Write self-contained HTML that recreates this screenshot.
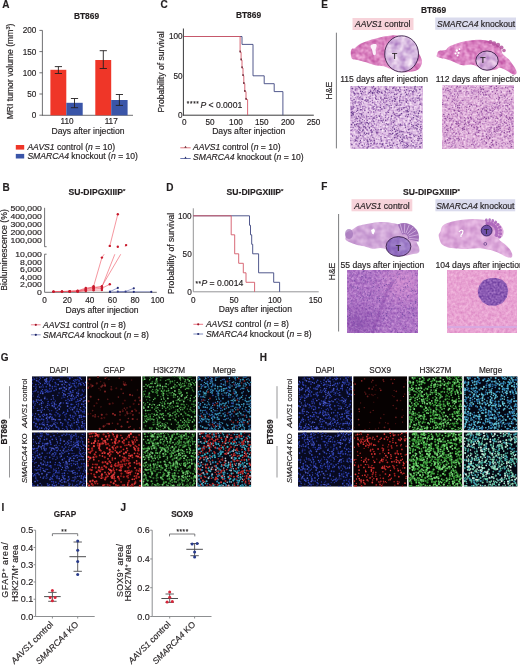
<!DOCTYPE html>
<html><head><meta charset="utf-8"><title>Figure</title>
<style>
html,body{margin:0;padding:0;background:#fff;}
body{width:520px;height:665px;overflow:hidden;}
svg{display:block;font-family:"Liberation Sans", Arial, Helvetica, sans-serif;}
text{stroke:#231f20;stroke-width:0.16px;}
</style></head><body>
<svg width="520" height="665" viewBox="0 0 520 665">
<defs><filter id="he1" x="0" y="0" width="100%" height="100%" color-interpolation-filters="sRGB"><feTurbulence type="fractalNoise" baseFrequency="0.5" numOctaves="2" seed="3"/><feColorMatrix type="matrix" values="0.327 0.000 0.000 0.000 0.719  0.497 0.000 0.000 0.000 0.512  0.235 0.000 0.000 0.000 0.784  0 0 0 0 1"/></filter><filter id="he2" x="0" y="0" width="100%" height="100%" color-interpolation-filters="sRGB"><feTurbulence type="fractalNoise" baseFrequency="0.5" numOctaves="2" seed="5"/><feColorMatrix type="matrix" values="0.288 0.000 0.000 0.000 0.742  0.497 0.000 0.000 0.000 0.465  0.275 0.000 0.000 0.000 0.729  0 0 0 0 1"/></filter><filter id="he3" x="0" y="0" width="100%" height="100%" color-interpolation-filters="sRGB"><feTurbulence type="fractalNoise" baseFrequency="0.4" numOctaves="2" seed="7"/><feColorMatrix type="matrix" values="0.359 0.000 0.000 0.000 0.511  0.415 0.000 0.000 0.000 0.252  0.246 0.000 0.000 0.000 0.653  0 0 0 0 1"/></filter><filter id="he4" x="0" y="0" width="100%" height="100%" color-interpolation-filters="sRGB"><feTurbulence type="fractalNoise" baseFrequency="0.35" numOctaves="2" seed="9"/><feColorMatrix type="matrix" values="0.134 0.000 0.000 0.000 0.843  0.291 0.000 0.000 0.000 0.490  0.157 0.000 0.000 0.000 0.745  0 0 0 0 1"/></filter><filter id="br1" x="0" y="0" width="100%" height="100%" color-interpolation-filters="sRGB"><feTurbulence type="fractalNoise" baseFrequency="0.2" numOctaves="2" seed="11"/><feColorMatrix type="matrix" values="0.288 0.000 0.000 0.000 0.711  0.536 0.000 0.000 0.000 0.246  0.340 0.000 0.000 0.000 0.583  0 0 0 0 1"/><feComposite in2="SourceGraphic" operator="in"/></filter><filter id="br2" x="0" y="0" width="100%" height="100%" color-interpolation-filters="sRGB"><feTurbulence type="fractalNoise" baseFrequency="0.2" numOctaves="2" seed="13"/><feColorMatrix type="matrix" values="0.288 0.000 0.000 0.000 0.711  0.536 0.000 0.000 0.000 0.246  0.340 0.000 0.000 0.000 0.591  0 0 0 0 1"/><feComposite in2="SourceGraphic" operator="in"/></filter><filter id="br3" x="0" y="0" width="100%" height="100%" color-interpolation-filters="sRGB"><feTurbulence type="fractalNoise" baseFrequency="0.15" numOctaves="2" seed="15"/><feColorMatrix type="matrix" values="0.209 0.000 0.000 0.000 0.711  0.288 0.000 0.000 0.000 0.507  0.157 0.000 0.000 0.000 0.769  0 0 0 0 1"/><feComposite in2="SourceGraphic" operator="in"/></filter><filter id="br4" x="0" y="0" width="100%" height="100%" color-interpolation-filters="sRGB"><feTurbulence type="fractalNoise" baseFrequency="0.15" numOctaves="2" seed="17"/><feColorMatrix type="matrix" values="0.209 0.000 0.000 0.000 0.758  0.314 0.000 0.000 0.000 0.502  0.183 0.000 0.000 0.000 0.763  0 0 0 0 1"/><feComposite in2="SourceGraphic" operator="in"/></filter><filter id="tu1" x="0" y="0" width="100%" height="100%" color-interpolation-filters="sRGB"><feTurbulence type="fractalNoise" baseFrequency="0.15" numOctaves="2" seed="19"/><feColorMatrix type="matrix" values="0.431 0.000 0.000 0.000 0.620  0.614 0.000 0.000 0.000 0.410  0.301 0.000 0.000 0.000 0.724  0 0 0 0 1"/><feComposite in2="SourceGraphic" operator="in"/></filter><filter id="tu2" x="0" y="0" width="100%" height="100%" color-interpolation-filters="sRGB"><feTurbulence type="fractalNoise" baseFrequency="0.15" numOctaves="2" seed="23"/><feColorMatrix type="matrix" values="0.418 0.000 0.000 0.000 0.607  0.575 0.000 0.000 0.000 0.371  0.301 0.000 0.000 0.000 0.693  0 0 0 0 1"/><feComposite in2="SourceGraphic" operator="in"/></filter><filter id="tu3" x="0" y="0" width="100%" height="100%" color-interpolation-filters="sRGB"><feTurbulence type="fractalNoise" baseFrequency="0.15" numOctaves="2" seed="25"/><feColorMatrix type="matrix" values="0.314 0.000 0.000 0.000 0.439  0.392 0.000 0.000 0.000 0.267  0.209 0.000 0.000 0.000 0.664  0 0 0 0 1"/><feComposite in2="SourceGraphic" operator="in"/></filter><filter id="blob" x="0" y="0" width="100%" height="100%" color-interpolation-filters="sRGB"><feTurbulence type="fractalNoise" baseFrequency="0.5" numOctaves="2" seed="21"/><feColorMatrix type="matrix" values="0.405 0.000 0.000 0.000 0.335  0.405 0.000 0.000 0.000 0.146  0.288 0.000 0.000 0.000 0.554  0 0 0 0 1"/></filter><g id="cdapi1" fill="none" stroke-linecap="round"><path stroke="#2a3ca8" stroke-width="1.30" d="M17.7 34.6h0M35.8 47.8h0M4.8 2.0h0M21.7 3.2h0M7.5 3.5h0M40.8 28.1h0M0.9 37.8h0M7.6 24.1h0M27.0 16.7h0M12.6 48.0h0M15.6 31.5h0M41.5 4.3h0M22.2 29.1h0M46.1 15.6h0M35.0 6.2h0M50.0 51.3h0M37.3 32.0h0M25.1 3.4h0M23.7 49.8h0M3.8 12.2h0M19.8 2.7h0M1.2 15.5h0M40.2 1.1h0M33.8 40.7h0M1.2 19.9h0M23.8 46.4h0M52.7 47.3h0M25.7 19.2h0M25.3 47.0h0M30.4 16.2h0M53.4 20.0h0M9.4 10.6h0M46.0 0.9h0M40.3 7.3h0M42.3 44.0h0M21.9 23.1h0M48.2 22.1h0M25.5 31.0h0M45.6 23.4h0M20.5 4.9h0M9.6 29.0h0M7.5 21.1h0M20.4 12.5h0M44.5 28.2h0M29.8 21.9h0M23.4 48.4h0M6.7 8.5h0M39.5 52.1h0M0.4 39.1h0M46.5 19.8h0M50.1 43.1h0M16.2 33.4h0M1.1 1.6h0M40.2 49.6h0M17.0 6.8h0M17.5 52.0h0"/><path stroke="#2a3ca8" stroke-width="1.70" d="M37.9 0.8h0M3.8 8.4h0M9.8 42.9h0M47.7 1.0h0M46.0 25.0h0M27.9 38.8h0M30.6 47.6h0M42.6 9.5h0M4.3 13.8h0M16.0 15.7h0M6.1 23.7h0M47.1 4.7h0M44.3 20.9h0M31.0 14.2h0M36.0 46.1h0M3.3 49.6h0M42.2 46.6h0M43.2 3.6h0M43.9 10.8h0M43.4 37.1h0M43.0 30.5h0M25.9 37.5h0M45.0 35.0h0M11.6 43.5h0M26.6 52.2h0M37.7 24.3h0M46.1 44.4h0M16.2 25.3h0M44.7 16.7h0M23.3 6.3h0M5.3 43.5h0M20.4 10.5h0M22.9 10.1h0M7.5 28.1h0M52.4 35.0h0M50.8 35.6h0M15.5 7.9h0M29.2 12.0h0M7.7 48.0h0M49.1 34.5h0M3.0 14.9h0M22.1 14.3h0M35.8 27.3h0M6.5 43.1h0M24.2 13.2h0M1.4 25.0h0M47.1 51.6h0M38.9 16.5h0M5.8 20.5h0M14.5 15.2h0M45.2 48.3h0"/><path stroke="#3448be" stroke-width="1.30" d="M4.1 10.7h0M37.1 19.2h0M15.2 44.7h0M50.3 13.8h0M6.7 18.7h0M42.8 5.5h0M7.2 6.2h0M32.5 53.8h0M12.9 39.2h0M44.4 6.7h0M0.7 17.6h0M46.9 13.8h0M26.3 43.4h0M30.8 52.4h0M1.8 10.2h0M11.2 10.7h0M13.2 16.1h0M8.2 34.0h0M22.9 38.6h0M25.1 34.1h0M32.0 6.9h0M46.2 29.8h0M5.5 26.2h0M42.1 22.9h0M32.8 8.4h0M33.9 24.3h0M37.0 49.0h0M14.7 6.5h0M49.0 19.3h0M52.2 36.8h0M13.0 20.9h0M47.0 53.1h0M41.3 42.3h0M46.1 9.7h0M46.6 35.3h0M44.0 38.7h0M18.3 0.7h0M45.1 32.8h0M10.5 13.4h0M35.5 33.6h0M10.8 46.4h0M53.1 27.1h0M38.7 50.7h0M46.5 7.7h0M21.4 21.8h0M40.7 39.8h0M10.4 25.4h0M34.7 9.8h0M12.4 49.4h0M35.5 53.5h0"/><path stroke="#3448be" stroke-width="1.70" d="M50.8 47.4h0M6.6 38.3h0M39.8 23.9h0M8.0 40.5h0M31.7 36.1h0M49.4 40.9h0M47.5 41.1h0M48.0 7.2h0M35.7 34.9h0M14.7 52.5h0M49.4 22.9h0M4.4 42.5h0M52.4 8.8h0M38.6 11.1h0M37.8 2.4h0M12.1 38.1h0M38.3 15.3h0M33.0 43.5h0M24.4 50.9h0M22.1 30.5h0M42.0 7.4h0M52.8 40.3h0M45.6 42.8h0M27.1 29.5h0M5.3 50.7h0M20.1 41.1h0M12.9 7.1h0M14.8 5.0h0M51.9 30.1h0M20.3 49.2h0M49.8 28.0h0M49.0 39.1h0M1.9 46.1h0M37.6 8.7h0M9.4 14.9h0M38.3 39.1h0M8.6 16.9h0M39.2 28.2h0M28.1 5.1h0M40.9 14.3h0M48.9 8.5h0M32.7 14.8h0M18.3 40.4h0"/><path stroke="#22309a" stroke-width="1.30" d="M8.5 2.2h0M43.2 13.1h0M23.5 24.8h0M14.5 13.1h0M18.1 2.0h0M39.9 31.7h0M11.9 45.7h0M12.4 54.0h0M20.1 44.7h0M52.6 51.8h0M38.5 33.6h0M15.1 23.0h0M25.9 51.1h0M41.0 52.9h0M30.6 37.1h0M50.1 6.3h0M52.0 33.3h0M38.2 6.8h0M15.4 43.3h0M2.9 25.5h0M44.5 3.8h0M20.4 25.6h0M15.1 46.3h0M19.7 34.5h0M16.8 45.8h0M38.6 40.8h0M24.2 10.6h0M11.4 26.7h0M38.6 44.1h0M40.0 41.4h0M1.4 30.2h0M46.3 50.1h0M21.1 52.6h0M5.2 32.3h0M19.6 1.3h0M52.6 13.6h0M23.8 39.6h0M38.6 31.0h0M31.3 26.8h0M52.7 49.0h0M32.7 21.1h0M36.0 25.7h0M22.2 45.7h0M36.5 7.9h0M52.2 44.5h0M3.3 27.4h0M31.3 20.9h0M34.1 44.7h0"/><path stroke="#22309a" stroke-width="1.70" d="M31.3 10.8h0M6.2 44.6h0M7.7 51.8h0M18.3 3.9h0M6.3 53.1h0M17.3 5.4h0M24.2 36.1h0M2.5 3.0h0M34.4 37.5h0M10.6 8.8h0M50.2 18.2h0M32.9 38.6h0M45.7 3.3h0M0.4 7.1h0M2.8 28.8h0M31.3 19.2h0M37.5 17.5h0M15.4 40.6h0M46.7 46.1h0M51.4 15.1h0M46.5 27.7h0M53.3 31.5h0M44.6 53.1h0M27.1 53.5h0M44.1 25.7h0M17.2 28.8h0M6.2 5.0h0M51.7 50.2h0M19.3 14.8h0M24.1 28.3h0M14.3 10.5h0M15.8 27.3h0M17.9 15.4h0M10.0 47.7h0M40.5 22.2h0M36.8 13.5h0M17.7 12.5h0M10.2 33.9h0M27.3 40.1h0M23.9 7.6h0M12.6 52.6h0M10.4 39.0h0M19.4 38.3h0M0.5 3.6h0M19.6 27.2h0M26.8 3.2h0M30.3 49.2h0M42.8 21.8h0M16.5 50.2h0M1.7 31.8h0M42.1 40.2h0M2.8 40.2h0M34.4 50.3h0M10.7 15.7h0M35.1 51.8h0M39.7 47.8h0M53.1 53.1h0M36.1 23.2h0M15.6 14.3h0"/><path stroke="#4858c8" stroke-width="1.30" d="M41.4 20.0h0M36.0 0.7h0M49.5 3.4h0M3.6 37.5h0M48.6 31.3h0M28.6 30.6h0M38.7 49.3h0M51.7 28.1h0M1.4 26.6h0M13.9 30.7h0M6.0 15.8h0M12.4 33.1h0M38.9 22.5h0M39.7 10.0h0M46.7 36.6h0M8.0 0.8h0M4.4 23.6h0M2.4 42.7h0M40.9 16.0h0M8.0 43.7h0M19.3 50.2h0M4.5 24.9h0M16.6 53.2h0M47.9 33.1h0M11.3 40.4h0M14.0 51.0h0M45.3 19.2h0M15.3 29.2h0M13.5 5.4h0M6.8 34.2h0M35.5 20.5h0M18.2 49.2h0M30.7 0.3h0M32.5 4.6h0M22.1 26.0h0M13.1 13.8h0M51.5 7.3h0M36.1 17.1h0M5.5 34.4h0M19.2 23.1h0M17.8 8.1h0M8.4 7.3h0M42.1 35.8h0"/><path stroke="#4858c8" stroke-width="1.70" d="M37.3 11.7h0M39.2 19.8h0M48.0 24.3h0M35.6 30.0h0M14.7 38.5h0M27.6 12.5h0M30.1 8.4h0M9.1 23.9h0M20.0 42.9h0M37.0 43.1h0M51.5 40.1h0M46.4 17.5h0M11.2 48.4h0M26.2 8.4h0M9.5 27.0h0M34.2 13.0h0M42.1 31.6h0M22.5 27.7h0M18.0 9.5h0M51.5 25.2h0M9.3 35.9h0M34.5 26.9h0M4.0 47.5h0M12.7 22.2h0M33.3 18.6h0M9.7 51.9h0M20.3 29.5h0M40.5 33.4h0M10.9 0.7h0M53.7 6.1h0M21.0 19.3h0M28.8 26.6h0M32.5 11.5h0M27.9 43.4h0M14.6 2.4h0M22.0 47.7h0M31.8 17.6h0M52.0 21.4h0M33.7 6.0h0M23.3 43.6h0M7.8 10.8h0M47.3 39.4h0M17.3 41.5h0M14.5 42.0h0M12.8 3.6h0M28.8 46.4h0M23.6 32.2h0M4.6 4.4h0M27.3 32.9h0M30.1 5.2h0M9.9 31.4h0M50.3 45.7h0M10.8 17.2h0M49.8 49.5h0M40.0 18.6h0M28.9 0.3h0M27.8 27.6h0M21.6 43.0h0M14.2 3.7h0M48.3 2.2h0M44.6 46.0h0M53.1 24.3h0M15.3 48.3h0M18.0 37.7h0"/></g><g id="cdapi2" fill="none" stroke-linecap="round"><path stroke="#2a3ca8" stroke-width="1.30" d="M47.4 21.0h0M40.6 51.9h0M9.7 52.9h0M21.2 24.0h0M0.8 29.2h0M2.4 27.2h0M50.6 11.7h0M38.1 38.9h0M28.2 24.7h0M40.2 24.0h0M43.2 42.1h0M30.2 41.2h0M27.1 4.4h0M36.8 38.4h0M31.3 30.1h0M15.2 20.9h0M29.3 21.8h0M36.4 17.1h0M38.1 51.9h0M43.0 11.0h0M51.5 48.6h0M46.8 15.0h0M49.1 27.2h0M51.7 38.7h0M27.1 38.7h0M3.7 43.6h0M50.0 6.3h0M50.4 21.0h0M49.8 7.8h0M3.1 20.6h0M2.3 34.3h0M0.5 51.4h0M4.0 23.5h0M12.6 24.9h0M15.1 12.7h0M43.2 29.3h0M46.4 4.6h0M8.6 38.8h0M22.5 20.0h0M27.1 13.3h0M22.5 23.7h0M0.8 22.2h0M27.1 44.5h0M14.0 24.2h0M21.1 42.6h0M37.9 18.0h0"/><path stroke="#2a3ca8" stroke-width="1.70" d="M28.6 33.6h0M9.5 4.2h0M25.0 45.6h0M45.0 52.4h0M25.5 15.0h0M1.3 24.6h0M49.2 45.8h0M19.9 46.4h0M8.6 1.1h0M49.8 49.8h0M26.0 40.4h0M49.1 5.4h0M10.2 20.9h0M34.8 1.8h0M46.6 8.7h0M15.5 51.5h0M9.2 24.4h0M23.8 20.7h0M1.5 43.5h0M44.2 10.2h0M8.1 37.1h0M31.4 53.3h0M28.5 6.6h0M15.1 2.1h0M36.6 10.9h0M3.8 45.7h0M14.5 43.5h0M52.8 53.7h0M48.2 50.5h0M18.9 12.0h0M14.2 16.5h0M32.1 16.4h0M52.7 43.6h0M17.5 20.6h0M18.0 15.3h0M33.7 14.7h0M30.9 21.0h0M18.8 4.3h0M42.1 14.1h0M8.0 8.9h0M45.4 31.0h0M4.6 37.8h0M28.3 11.0h0M39.2 17.5h0M12.3 13.7h0M16.5 2.1h0M33.1 46.5h0"/><path stroke="#3448be" stroke-width="1.30" d="M33.3 30.8h0M23.9 27.3h0M23.4 30.3h0M22.4 13.4h0M25.4 0.7h0M47.3 51.7h0M13.1 26.3h0M6.1 37.4h0M52.2 22.0h0M40.4 18.3h0M17.9 40.2h0M39.1 31.3h0M41.7 12.2h0M53.3 39.8h0M53.6 20.6h0M27.5 32.8h0M6.2 0.4h0M32.6 12.4h0M51.8 20.3h0M29.7 19.9h0M44.9 8.7h0M41.7 23.3h0M37.2 2.2h0M41.8 38.1h0M45.4 25.2h0M40.8 14.9h0M35.4 24.3h0M49.1 34.6h0M26.3 16.7h0M49.5 14.3h0M39.8 12.9h0M1.5 13.4h0M40.5 4.7h0M32.3 47.5h0M0.7 52.9h0M2.7 30.8h0M28.5 31.4h0M25.3 25.8h0M25.1 9.2h0M33.8 3.0h0M4.1 30.1h0M32.3 38.0h0M12.8 29.7h0M48.2 9.6h0M35.8 12.3h0M36.9 14.8h0M10.9 36.1h0M0.3 27.3h0M14.1 45.9h0M35.0 32.1h0M15.7 37.0h0"/><path stroke="#3448be" stroke-width="1.70" d="M12.4 7.2h0M28.6 8.1h0M5.2 18.2h0M36.8 21.3h0M25.1 43.7h0M45.0 15.0h0M27.4 30.2h0M3.3 25.7h0M20.6 44.0h0M12.6 17.6h0M36.6 44.5h0M37.1 52.9h0M18.8 33.6h0M53.3 48.7h0M32.4 40.9h0M18.3 29.8h0M31.8 46.0h0M20.3 7.0h0M6.8 5.8h0M39.0 4.6h0M24.3 38.6h0M17.7 25.0h0M21.5 54.1h0M7.1 42.3h0M49.4 43.6h0M47.1 27.6h0M51.2 16.2h0M14.8 6.7h0M52.0 51.1h0M30.1 3.1h0M5.4 23.4h0M45.7 9.8h0M5.0 16.2h0M6.4 25.2h0M43.1 44.7h0M38.5 25.9h0M37.3 27.1h0M25.1 18.3h0M44.9 23.0h0M18.4 10.4h0M15.6 30.1h0M43.0 40.3h0M46.2 11.6h0M2.6 42.4h0M17.9 8.6h0M2.7 16.3h0M49.3 23.8h0M23.8 40.2h0M39.2 6.6h0M16.1 53.1h0M50.7 9.5h0M45.0 12.2h0M22.0 3.3h0M51.8 44.9h0M51.3 46.6h0M11.2 45.8h0M20.4 52.5h0M32.5 43.2h0M41.9 48.5h0M48.7 21.8h0M43.8 1.7h0M41.9 3.2h0M52.2 31.2h0"/><path stroke="#22309a" stroke-width="1.30" d="M27.5 40.5h0M21.6 49.1h0M24.2 36.0h0M12.6 4.6h0M1.6 9.7h0M13.4 31.8h0M39.0 10.6h0M48.2 13.3h0M5.3 35.0h0M15.7 45.5h0M25.0 24.5h0M22.5 43.0h0M44.1 45.7h0M52.0 2.6h0M21.0 0.8h0M52.4 5.4h0M3.5 9.6h0M4.2 47.5h0M42.0 21.3h0M3.9 19.1h0M24.0 44.4h0M1.9 19.9h0M18.4 19.2h0M52.8 17.9h0M51.7 33.9h0M48.5 40.8h0M36.0 36.4h0M45.0 35.9h0M35.8 41.0h0M5.7 20.7h0M39.8 2.2h0M5.3 4.2h0M0.3 16.1h0M37.1 25.2h0M44.8 49.4h0M45.8 32.7h0M40.1 21.1h0M20.8 47.3h0M21.3 38.7h0M13.8 18.4h0"/><path stroke="#22309a" stroke-width="1.70" d="M28.8 52.7h0M21.6 50.7h0M22.6 17.4h0M47.2 38.0h0M3.2 37.3h0M23.8 49.9h0M15.4 32.4h0M33.0 32.7h0M10.7 11.1h0M37.2 46.8h0M44.6 6.4h0M39.6 33.3h0M23.0 32.2h0M10.1 0.6h0M33.9 11.1h0M47.1 23.7h0M25.9 32.7h0M45.3 41.1h0M50.8 41.5h0M6.3 15.1h0M46.5 34.8h0M53.0 32.7h0M30.4 43.2h0M35.8 18.7h0M41.8 31.4h0M47.5 19.7h0M9.9 32.3h0M8.7 35.4h0M44.2 3.7h0M18.7 45.3h0M36.9 8.1h0M47.6 16.6h0M5.6 48.3h0M32.3 26.0h0M23.4 22.0h0M52.6 36.7h0M17.3 33.8h0M12.7 11.8h0M49.7 31.4h0M24.0 5.7h0M43.3 23.6h0M22.0 41.5h0M30.2 14.6h0M19.8 49.2h0M38.9 3.3h0M33.4 34.9h0M33.7 38.2h0M14.1 37.0h0M2.5 1.7h0M45.9 54.0h0M2.0 53.3h0M40.1 48.3h0M19.1 35.2h0M26.6 51.0h0M23.0 37.8h0M10.0 2.9h0"/><path stroke="#4858c8" stroke-width="1.30" d="M34.0 36.4h0M36.9 50.9h0M8.3 6.7h0M16.2 40.3h0M30.0 50.0h0M46.1 48.3h0M28.2 18.2h0M21.7 36.8h0M39.7 16.1h0M8.5 44.9h0M17.6 52.5h0M26.5 35.8h0M35.4 9.6h0M47.3 43.9h0M12.0 44.5h0M41.6 28.5h0M45.3 44.0h0M34.1 18.9h0M1.4 7.2h0M0.6 41.4h0M8.1 51.1h0M11.7 28.5h0M4.1 41.3h0M39.1 9.2h0M24.1 12.9h0M41.0 45.4h0M50.3 2.1h0M31.9 1.9h0M24.4 7.3h0M14.1 33.2h0M36.1 35.0h0M48.3 18.0h0M48.3 49.1h0M24.5 52.7h0M9.6 16.6h0M34.0 49.7h0M30.4 35.2h0M25.5 10.6h0M8.2 3.7h0M8.0 25.5h0M30.1 53.4h0M9.1 27.3h0M32.7 19.8h0M4.6 11.0h0M41.8 9.8h0M14.3 1.0h0M52.7 0.5h0M45.1 29.1h0M37.9 13.1h0M47.9 35.6h0M40.6 53.6h0M43.6 32.2h0M29.5 37.3h0M20.9 26.5h0M37.2 31.8h0M19.9 22.6h0M53.0 34.6h0M42.9 46.8h0"/><path stroke="#4858c8" stroke-width="1.70" d="M11.4 32.0h0M36.0 48.1h0M32.4 49.5h0M5.9 40.7h0M20.0 15.9h0M43.4 13.4h0M10.8 13.3h0M22.6 53.3h0M41.9 26.0h0M32.1 8.9h0M29.7 47.5h0M50.6 52.9h0M35.1 34.1h0M53.6 13.8h0M29.3 23.8h0M24.1 15.4h0M21.0 21.5h0M35.0 30.8h0M14.9 42.0h0M27.2 46.3h0M30.4 27.4h0M41.0 40.6h0M6.8 33.4h0M18.0 47.1h0M43.4 53.8h0M27.9 21.5h0M53.6 38.3h0M14.1 11.4h0M51.9 12.8h0M3.1 49.2h0M31.3 18.1h0M15.7 11.1h0M1.4 16.8h0M6.9 10.8h0M40.1 38.9h0M50.9 24.3h0M51.5 27.2h0M6.8 13.9h0M28.2 48.8h0M21.6 16.3h0M37.2 28.9h0M12.0 15.8h0M11.6 38.2h0M19.4 17.7h0M53.6 45.2h0M8.9 30.8h0M7.6 22.1h0M34.1 29.4h0M39.9 28.2h0M46.3 13.0h0M9.1 14.6h0M31.0 44.7h0M10.0 41.4h0M5.7 52.9h0M13.0 39.0h0"/></g><g id="cdapi3" fill="none" stroke-linecap="round"><path stroke="#2a3ca8" stroke-width="1.30" d="M39.5 11.9h0M44.5 13.7h0M29.7 32.4h0M1.3 18.2h0M24.5 38.5h0M35.9 5.6h0M5.0 2.9h0M16.3 27.5h0M53.6 43.5h0M25.1 50.5h0M39.2 40.7h0M29.2 47.7h0M28.1 29.6h0M45.1 52.3h0M25.7 6.4h0M49.1 33.6h0M43.7 30.8h0M22.7 5.3h0M36.7 2.3h0M42.1 24.5h0M32.7 42.9h0M12.0 45.5h0M49.9 51.6h0M9.7 2.1h0M34.2 14.0h0M22.2 35.0h0M34.9 3.5h0M7.8 9.3h0M35.5 49.2h0M16.9 30.2h0M3.4 11.1h0M38.2 49.9h0M52.9 40.0h0M24.1 53.6h0M25.3 51.9h0M47.6 6.7h0M34.9 43.8h0M15.5 24.9h0M1.8 20.8h0M3.9 29.0h0M29.1 42.3h0M41.6 6.8h0M45.8 3.6h0M33.6 20.5h0M39.9 8.6h0M28.9 8.0h0M0.8 51.6h0M48.8 8.4h0M45.6 32.4h0M44.0 0.4h0M11.9 14.3h0M47.2 30.1h0M9.8 50.7h0M28.5 12.3h0M30.4 25.0h0M23.4 7.1h0M31.5 39.8h0M48.2 23.0h0M37.2 34.0h0"/><path stroke="#2a3ca8" stroke-width="1.70" d="M1.8 47.7h0M36.7 29.7h0M46.2 42.5h0M42.7 41.1h0M44.3 40.4h0M1.8 25.1h0M46.7 37.3h0M18.4 18.4h0M50.2 53.8h0M48.0 2.3h0M32.1 1.9h0M25.2 34.7h0M6.9 22.0h0M5.6 9.0h0M19.0 10.4h0M19.6 4.1h0M30.1 3.7h0M10.8 15.1h0M19.4 16.4h0M26.1 3.9h0M1.2 40.8h0M1.2 53.8h0M3.0 52.1h0M21.7 26.9h0M40.9 32.5h0M25.4 20.3h0M4.8 6.0h0M29.4 29.3h0M39.2 13.2h0M23.6 48.1h0M44.3 12.2h0M4.5 35.5h0M32.4 28.3h0M35.1 42.2h0M40.5 53.6h0M8.0 14.0h0M48.8 41.0h0M53.1 13.1h0M51.6 43.0h0M27.3 38.5h0M37.4 17.0h0M6.5 18.5h0M17.3 36.1h0M4.7 7.8h0M15.4 2.5h0M13.6 15.7h0M31.9 21.2h0M49.0 15.1h0M28.8 38.7h0M32.2 31.3h0M27.8 16.2h0M7.8 50.7h0M35.6 36.4h0M33.5 33.0h0M37.4 7.4h0"/><path stroke="#3448be" stroke-width="1.30" d="M7.1 28.5h0M41.5 38.4h0M50.7 37.0h0M40.0 17.4h0M17.8 43.0h0M50.2 0.8h0M16.2 52.2h0M14.7 36.2h0M11.7 16.0h0M29.0 10.0h0M50.8 48.8h0M5.5 45.5h0M52.0 7.6h0M7.8 10.7h0M49.4 45.9h0M7.4 49.2h0M41.0 14.2h0M39.1 39.0h0M4.8 20.9h0M1.3 15.9h0M8.1 47.8h0M27.4 1.7h0M34.2 15.4h0M42.8 12.3h0M18.5 5.8h0M9.4 13.8h0M6.7 39.4h0M34.4 53.2h0M29.1 27.1h0M26.8 28.4h0M13.7 30.7h0M51.6 12.4h0M43.7 43.6h0M23.4 24.7h0M20.9 23.1h0M39.3 44.2h0M51.6 52.0h0M33.2 45.0h0M36.0 15.9h0M13.9 46.9h0M2.8 37.0h0M24.2 43.2h0M8.9 0.4h0M47.9 34.2h0M53.1 32.9h0M4.6 41.9h0M20.1 52.4h0M18.0 17.0h0M17.4 12.0h0M53.5 46.6h0M49.6 11.4h0M40.0 29.3h0M53.2 1.6h0"/><path stroke="#3448be" stroke-width="1.70" d="M44.0 24.2h0M20.9 31.4h0M36.9 46.0h0M10.0 19.9h0M24.9 36.7h0M3.1 50.6h0M14.4 40.3h0M6.6 24.4h0M10.9 52.0h0M32.3 19.1h0M27.6 14.1h0M44.7 5.9h0M2.8 45.9h0M47.1 53.8h0M49.0 36.7h0M1.4 36.9h0M3.9 43.8h0M26.0 44.8h0M49.2 47.2h0M36.0 8.7h0M19.9 19.1h0M35.1 25.3h0M1.5 50.0h0M31.6 29.5h0M26.8 8.2h0M39.8 46.5h0M27.0 35.6h0M39.8 36.5h0M0.7 29.7h0M46.0 6.7h0M3.7 13.5h0M25.3 29.2h0M20.0 8.8h0M13.6 53.0h0M25.6 8.9h0M32.6 47.9h0M39.4 2.3h0M11.5 28.6h0M9.0 35.5h0M51.4 47.1h0M18.5 36.8h0M38.0 3.2h0M15.8 38.5h0M22.2 36.3h0M5.4 43.3h0M52.1 28.2h0M12.5 39.6h0M51.6 17.9h0M16.3 6.9h0M39.5 7.1h0M32.9 15.8h0M43.7 52.5h0M23.1 50.3h0M10.2 41.0h0M25.3 25.2h0"/><path stroke="#22309a" stroke-width="1.30" d="M25.6 13.8h0M16.1 26.2h0M30.5 33.8h0M19.3 20.5h0M17.3 13.4h0M11.0 13.2h0M31.1 22.6h0M32.4 51.9h0M46.2 27.5h0M13.7 32.4h0M52.9 48.1h0M12.5 42.5h0M21.0 47.8h0M40.9 27.2h0M11.6 49.0h0M34.0 0.4h0M37.8 18.9h0M37.6 44.8h0M42.8 18.9h0M7.4 26.7h0M50.3 18.0h0M44.4 26.6h0M48.0 45.5h0M46.6 23.1h0M24.0 27.0h0M33.2 49.8h0M3.7 19.8h0M7.4 43.9h0M36.0 18.1h0M48.3 13.8h0M18.7 40.0h0M30.5 8.8h0M42.4 47.5h0M23.4 32.1h0M46.2 8.1h0M51.7 39.0h0M38.8 15.7h0M18.7 50.2h0M40.2 42.8h0M12.6 17.8h0M24.2 14.8h0M11.1 31.5h0M31.7 11.3h0M0.4 11.9h0M41.0 48.3h0M22.6 11.1h0M44.3 47.1h0M47.1 4.8h0M4.9 31.9h0M23.6 16.3h0M40.7 23.0h0M38.8 22.5h0M17.3 22.5h0M17.3 33.2h0M45.6 22.3h0"/><path stroke="#22309a" stroke-width="1.70" d="M52.6 24.8h0M48.1 28.7h0M49.4 5.5h0M34.8 47.2h0M39.1 25.8h0M53.6 37.7h0M49.8 35.4h0M5.1 53.5h0M50.7 8.6h0M38.4 10.1h0M27.5 41.9h0M24.3 45.4h0M13.9 25.2h0M17.6 31.7h0M6.4 1.8h0M37.4 39.5h0M8.0 19.8h0M10.6 43.5h0M27.0 23.8h0M20.3 10.7h0M51.1 30.0h0M47.5 25.9h0M30.8 41.1h0M13.0 7.9h0M13.0 19.7h0M12.9 5.5h0M16.1 40.3h0M53.4 18.6h0M9.4 52.3h0M28.2 33.3h0M12.3 29.9h0M9.6 27.9h0M5.0 37.3h0M53.6 3.8h0M27.4 52.1h0M3.1 21.5h0M21.2 37.3h0M31.0 27.5h0M15.9 12.2h0M8.1 53.4h0M2.1 6.4h0M48.0 0.8h0M5.8 32.9h0M15.2 23.1h0M31.0 42.4h0"/><path stroke="#4858c8" stroke-width="1.30" d="M32.5 6.9h0M47.8 47.2h0M1.6 12.4h0M22.7 13.9h0M29.9 36.7h0M42.1 29.9h0M15.5 50.4h0M6.1 35.3h0M14.6 6.2h0M48.1 35.7h0M41.8 16.4h0M28.3 20.0h0M50.1 39.2h0M21.7 44.1h0M5.9 29.8h0M16.6 46.2h0M8.8 38.2h0M22.0 15.8h0M1.5 5.2h0M27.8 18.2h0M8.7 21.0h0M49.3 31.3h0M7.5 15.5h0M26.6 15.5h0M44.1 21.3h0M27.8 36.7h0M37.8 53.5h0M2.4 23.1h0M32.4 46.5h0M12.4 10.9h0M33.5 36.8h0M42.4 2.7h0M29.8 17.1h0M44.9 48.7h0M30.7 38.3h0M52.6 44.7h0M7.1 3.8h0M41.6 50.7h0M22.2 45.7h0M51.3 13.7h0M38.6 47.7h0M29.8 19.3h0M30.6 5.4h0M34.4 9.2h0M51.0 6.6h0M32.5 41.4h0M15.9 18.3h0M3.3 26.8h0M51.0 34.8h0M30.8 52.6h0M10.6 36.4h0M10.6 48.2h0M30.0 48.9h0M50.3 20.2h0M33.8 24.6h0M15.0 29.8h0M14.2 27.0h0"/><path stroke="#4858c8" stroke-width="1.70" d="M4.7 12.3h0M22.5 42.6h0M53.5 53.4h0M28.1 21.8h0M14.2 0.9h0M15.7 33.3h0M44.1 38.0h0M45.7 25.2h0M0.6 8.2h0M48.8 39.7h0M18.5 52.8h0M32.2 9.2h0M50.3 42.2h0M25.8 39.4h0M47.4 24.3h0M10.3 12.0h0M4.4 33.8h0M49.3 3.8h0M19.0 12.9h0M19.0 51.5h0M31.1 17.8h0M41.4 18.8h0M17.6 51.9h0M43.2 32.2h0M18.8 24.3h0M30.5 15.9h0M8.5 4.6h0M49.4 16.6h0M20.1 40.8h0M10.5 18.1h0M44.0 10.1h0M11.4 2.6h0M28.0 46.5h0M37.1 23.3h0M22.2 28.2h0M28.3 5.4h0M31.2 47.7h0M31.8 25.4h0M31.9 5.2h0M36.3 52.9h0M36.2 43.2h0M13.2 50.5h0M26.7 25.9h0M6.2 51.6h0M25.8 27.0h0M11.0 5.4h0M7.8 29.7h0M2.2 30.6h0M38.4 0.4h0M35.5 13.8h0M27.8 26.7h0M53.2 10.6h0M45.9 47.3h0M35.7 12.4h0M14.8 45.9h0M1.8 13.7h0M21.4 9.4h0M44.3 8.8h0M26.6 12.3h0"/></g><g id="cdapi4" fill="none" stroke-linecap="round"><path stroke="#2a3ca8" stroke-width="1.30" d="M31.4 21.3h0M19.0 53.6h0M49.1 53.9h0M15.5 32.8h0M36.4 50.3h0M35.3 44.2h0M26.7 27.0h0M10.9 16.1h0M39.1 16.9h0M4.8 16.8h0M15.1 51.9h0M13.0 33.4h0M29.3 42.0h0M23.5 49.7h0M2.7 27.1h0M35.9 28.9h0M19.8 4.9h0M33.3 46.9h0M5.7 14.0h0M42.9 34.6h0M45.8 41.5h0M49.2 41.6h0M30.4 3.5h0M52.9 9.4h0M39.8 1.6h0M2.7 2.8h0M31.8 19.3h0M10.2 53.3h0M42.9 46.6h0M32.9 14.8h0M44.0 43.6h0M32.9 27.8h0M40.9 46.8h0M27.9 1.1h0M52.0 16.9h0M17.3 2.0h0M12.2 32.3h0M8.0 47.5h0M8.3 1.8h0M32.4 31.8h0M29.9 10.9h0M49.2 26.9h0M50.1 29.9h0M35.5 12.4h0M35.3 32.9h0M29.3 34.1h0M44.9 26.3h0M25.5 24.6h0M11.0 27.7h0M14.3 40.4h0M47.8 45.0h0"/><path stroke="#2a3ca8" stroke-width="1.70" d="M12.5 18.1h0M33.5 38.9h0M46.1 48.2h0M30.5 51.9h0M45.4 0.9h0M21.4 29.9h0M30.6 8.9h0M15.6 0.7h0M17.2 48.7h0M1.1 3.2h0M12.4 27.7h0M0.9 10.5h0M32.3 41.7h0M5.1 12.4h0M20.0 51.4h0M46.6 15.9h0M31.3 33.9h0M28.5 21.3h0M15.7 13.3h0M47.0 34.8h0M38.1 32.4h0M22.5 14.7h0M0.8 27.6h0M52.2 1.8h0M4.5 5.6h0M16.0 29.3h0M1.7 13.4h0M41.3 41.4h0M13.3 19.1h0M19.1 50.2h0M13.4 0.5h0M6.0 46.3h0M43.8 41.8h0M10.3 48.1h0M51.2 26.1h0M47.1 8.1h0M14.0 7.2h0M35.9 25.6h0M7.5 29.5h0M38.6 15.6h0M36.7 9.4h0M38.1 48.8h0M53.1 27.1h0M40.4 20.9h0M13.6 4.3h0M34.8 35.0h0M50.7 41.0h0M12.3 4.9h0M19.9 40.5h0M0.3 41.1h0"/><path stroke="#3448be" stroke-width="1.30" d="M10.9 26.4h0M13.0 10.9h0M15.0 48.6h0M23.1 1.9h0M48.1 12.1h0M40.1 31.2h0M53.1 29.6h0M22.6 33.1h0M12.3 37.9h0M10.3 14.9h0M29.2 4.1h0M18.7 8.8h0M34.4 48.4h0M1.3 9.1h0M16.0 2.9h0M19.6 24.7h0M7.0 21.0h0M15.3 30.6h0M45.1 54.1h0M43.2 38.4h0M22.8 16.2h0M28.6 10.5h0M6.4 8.6h0M4.3 19.5h0M49.8 22.5h0M32.3 6.0h0M0.7 11.8h0M33.7 31.7h0M45.7 28.8h0M10.6 7.6h0M28.0 14.8h0M47.6 13.5h0M6.3 27.8h0M22.5 42.5h0M6.8 51.8h0M35.6 47.7h0M24.1 33.7h0M37.3 3.7h0M13.5 36.8h0M27.5 34.4h0M40.9 54.0h0M30.8 25.5h0M34.2 21.5h0M1.0 15.0h0M3.2 51.2h0M2.7 49.5h0M41.8 2.6h0M31.5 24.2h0M6.4 2.1h0M36.5 26.9h0M20.6 46.1h0M10.9 38.8h0"/><path stroke="#3448be" stroke-width="1.70" d="M48.1 6.7h0M13.8 22.6h0M16.9 45.6h0M5.3 31.4h0M27.3 12.6h0M19.3 42.1h0M26.4 20.1h0M44.7 51.4h0M52.7 6.6h0M42.1 21.2h0M45.6 44.4h0M15.5 9.9h0M49.2 28.9h0M37.1 47.2h0M19.0 35.8h0M30.1 46.0h0M26.5 31.7h0M32.7 23.4h0M10.7 35.1h0M35.1 22.4h0M48.7 17.1h0M42.7 7.9h0M19.5 17.0h0M42.9 19.5h0M15.3 27.3h0M35.4 20.7h0M35.4 17.7h0M33.3 4.7h0M50.7 19.3h0M51.3 10.1h0M20.9 15.4h0M50.6 2.4h0M7.6 14.1h0M6.7 47.9h0M47.9 40.2h0M26.7 9.4h0M45.5 7.4h0M24.0 39.3h0M47.6 21.5h0M49.0 42.9h0M9.4 36.9h0M45.1 21.7h0M13.9 46.4h0M11.7 42.9h0M10.6 50.3h0M3.9 34.6h0M2.9 37.5h0M31.2 6.7h0M44.1 18.7h0M7.3 3.3h0M29.0 30.3h0M28.0 38.7h0M21.6 21.6h0M20.2 43.6h0M7.9 48.8h0M36.4 34.3h0M6.9 36.7h0M49.0 51.5h0"/><path stroke="#22309a" stroke-width="1.30" d="M43.7 33.2h0M9.2 43.2h0M44.2 4.0h0M17.5 17.1h0M51.6 33.6h0M3.4 24.6h0M34.5 7.4h0M26.8 50.0h0M47.4 19.4h0M32.3 53.3h0M27.7 48.9h0M47.2 5.5h0M7.8 7.0h0M46.0 49.8h0M41.6 0.4h0M34.7 9.7h0M39.6 25.1h0M8.3 25.3h0M15.1 15.3h0M29.7 12.9h0M17.4 41.0h0M52.9 13.9h0M40.1 18.9h0M50.5 16.2h0M31.4 30.1h0M29.7 24.9h0M5.3 33.0h0M39.8 10.2h0M39.5 8.3h0M50.2 5.6h0M38.3 11.6h0M52.8 19.2h0M3.3 46.7h0M8.7 12.8h0M12.2 7.9h0M34.1 24.9h0M33.2 50.3h0M23.6 26.8h0M30.6 37.1h0M27.2 45.8h0M30.0 31.6h0M43.9 20.7h0M9.7 3.0h0M2.9 43.5h0M29.5 32.8h0M49.3 44.4h0M23.4 31.3h0M30.4 16.6h0M45.9 39.5h0M41.2 45.5h0M44.5 36.6h0M25.8 32.8h0M6.9 17.7h0M26.7 25.3h0M6.3 7.1h0"/><path stroke="#22309a" stroke-width="1.70" d="M51.6 47.2h0M45.2 2.5h0M43.3 29.8h0M24.8 0.9h0M23.7 6.7h0M23.1 52.6h0M13.4 44.6h0M4.2 37.5h0M47.9 36.3h0M29.6 35.7h0M39.1 47.6h0M7.8 32.8h0M25.4 9.2h0M24.0 36.0h0M9.9 9.9h0M16.8 5.7h0M14.4 8.7h0M14.6 25.5h0M41.2 36.3h0M28.0 5.9h0M17.2 24.7h0M4.4 2.1h0M28.7 27.2h0M42.5 23.9h0M5.3 34.6h0M17.7 31.5h0M4.5 18.2h0M35.9 39.1h0M36.0 13.7h0M0.9 5.8h0M7.5 0.3h0M22.5 28.4h0M50.7 49.1h0M2.9 53.7h0M51.8 50.9h0M31.2 35.7h0M14.7 6.0h0M48.5 47.7h0M8.7 26.6h0M0.3 46.5h0M17.2 15.2h0M20.2 0.6h0M15.6 34.9h0M35.8 16.3h0M1.1 48.8h0M13.2 52.6h0M1.5 53.8h0M22.4 34.7h0M2.3 42.0h0M7.6 10.5h0M21.0 16.9h0"/><path stroke="#4858c8" stroke-width="1.30" d="M43.4 1.2h0M11.6 9.1h0M9.8 4.9h0M47.4 2.3h0M7.1 38.8h0M11.1 19.7h0M51.0 6.8h0M38.2 45.9h0M6.5 4.9h0M3.7 13.9h0M49.6 35.7h0M5.8 42.8h0M2.3 30.3h0M15.0 11.6h0M53.0 44.1h0M22.4 12.9h0M52.0 22.6h0M26.9 3.3h0M13.4 29.7h0M45.8 33.6h0M43.8 5.5h0M25.1 18.8h0M38.0 24.0h0M11.9 21.2h0M52.9 4.7h0M20.4 28.2h0M52.1 28.9h0M14.6 42.6h0M46.7 4.0h0M32.2 4.1h0M42.7 12.1h0M25.3 52.0h0M46.4 53.5h0M36.8 12.6h0M26.8 42.8h0M29.1 51.8h0M19.5 47.7h0M35.3 5.5h0M2.7 28.5h0M44.3 11.1h0M12.0 54.0h0M39.8 4.1h0"/><path stroke="#4858c8" stroke-width="1.70" d="M17.9 35.0h0M32.2 43.4h0M29.5 29.1h0M13.0 2.1h0M25.5 41.3h0M42.1 14.6h0M18.5 19.0h0M25.9 45.5h0M16.8 33.8h0M41.6 43.4h0M40.7 34.7h0M40.5 3.1h0M24.0 4.0h0M1.1 35.9h0M26.8 52.2h0M9.4 6.9h0M43.1 27.4h0M41.1 10.4h0M5.1 36.3h0M29.9 17.9h0M48.6 1.0h0M41.7 27.8h0M28.5 53.7h0M4.7 44.2h0M51.5 35.5h0M34.0 19.3h0M13.2 49.2h0M50.7 52.7h0M41.0 29.2h0M7.8 40.3h0M53.1 0.3h0M32.5 9.2h0M16.3 11.7h0M9.3 33.7h0M11.8 51.7h0M53.2 52.9h0M10.3 11.9h0M51.7 8.2h0M14.0 47.7h0M21.4 39.5h0M42.6 10.6h0M9.9 40.7h0M1.6 20.8h0M5.8 0.8h0M14.0 12.6h0M4.0 45.5h0M18.2 37.7h0M20.7 12.7h0M9.4 45.9h0"/></g><g id="ch31" fill="none" stroke-linecap="round"><path stroke="#3a8e3a" stroke-width="1.40" d="M35.8 47.8h0M36.0 0.7h0M50.3 13.8h0M18.2 50.7h0M49.5 3.4h0M3.6 37.5h0M8.1 38.7h0M48.6 31.3h0M44.9 49.6h0M5.7 41.3h0M27.0 16.7h0M38.7 49.3h0M49.7 11.6h0M18.1 26.3h0M41.0 52.9h0M25.1 3.4h0M5.5 26.2h0M30.9 42.1h0M42.1 22.9h0M3.8 12.2h0M51.6 53.1h0M12.4 33.1h0M50.1 6.3h0M40.2 1.1h0M1.2 19.9h0M15.4 43.3h0M14.7 6.5h0M49.0 19.3h0M25.7 19.2h0M15.1 46.3h0M25.3 47.0h0M16.8 45.8h0M26.1 12.4h0M9.4 10.6h0M46.1 9.7h0M40.3 7.3h0M1.4 30.2h0M45.1 32.8h0M16.6 53.2h0M18.4 46.1h0M21.1 52.6h0M9.6 29.0h0M45.3 19.2h0M37.0 53.0h0M15.3 29.2h0M32.7 9.8h0M31.3 26.8h0M22.1 26.0h0M9.1 53.6h0M40.7 39.8h0M9.8 37.6h0M10.9 28.0h0M17.8 8.1h0M34.1 44.7h0M42.1 35.8h0"/><path stroke="#3a8e3a" stroke-width="1.80" d="M3.8 8.4h0M16.9 47.1h0M48.0 24.3h0M7.7 51.8h0M24.4 15.0h0M8.0 40.5h0M34.4 37.5h0M48.0 7.2h0M31.3 19.2h0M22.0 49.9h0M11.2 48.4h0M51.5 25.2h0M34.5 26.9h0M42.2 46.6h0M12.7 22.2h0M15.3 36.1h0M43.4 37.1h0M22.1 30.5h0M9.7 51.9h0M40.5 33.4h0M10.9 0.7h0M27.1 53.5h0M45.6 42.8h0M33.8 30.1h0M14.3 10.5h0M5.3 43.5h0M31.3 31.1h0M40.4 45.8h0M27.3 40.1h0M52.0 21.4h0M52.4 35.0h0M50.8 35.6h0M0.5 3.6h0M51.9 30.1h0M20.3 49.2h0M26.8 3.2h0M47.3 39.4h0M1.9 46.1h0M4.3 39.8h0M22.1 14.3h0M16.5 50.2h0M30.1 5.2h0M2.8 40.2h0M2.2 18.1h0M15.6 19.1h0M33.0 35.6h0M47.8 44.1h0M20.7 15.8h0M51.7 43.3h0M14.8 16.7h0M39.2 28.2h0M28.1 5.1h0M47.1 51.6h0M46.4 12.2h0M5.8 20.5h0M53.1 24.3h0M45.2 48.3h0M18.0 37.7h0"/><path stroke="#4eac4e" stroke-width="1.40" d="M43.2 13.1h0M36.4 39.8h0M23.5 24.8h0M14.5 13.1h0M7.5 3.5h0M12.9 39.2h0M36.8 15.6h0M40.8 28.1h0M29.8 39.6h0M51.7 28.1h0M1.4 26.6h0M13.9 30.7h0M37.3 32.0h0M52.0 3.9h0M28.0 6.7h0M30.6 37.1h0M38.2 6.8h0M38.4 3.8h0M8.0 0.8h0M47.8 10.1h0M41.5 48.6h0M52.2 36.8h0M41.8 51.2h0M30.4 16.2h0M24.2 10.6h0M20.2 32.1h0M8.0 43.7h0M7.9 42.0h0M41.3 42.3h0M21.9 23.1h0M18.3 0.7h0M10.5 13.4h0M25.5 31.0h0M11.3 40.4h0M23.5 34.5h0M35.5 33.6h0M20.4 12.5h0M6.8 34.2h0M23.4 48.4h0M38.6 31.0h0M38.7 50.7h0M46.5 7.7h0M36.5 7.9h0M52.2 44.5h0M51.5 7.3h0M6.7 8.5h0M39.5 52.1h0M0.4 39.1h0M3.2 44.3h0M31.3 20.9h0M40.2 49.6h0M8.4 7.3h0M23.6 4.4h0M53.5 29.1h0M34.7 9.8h0"/><path stroke="#4eac4e" stroke-width="1.80" d="M31.3 10.8h0M25.7 27.1h0M9.8 42.9h0M32.9 38.6h0M35.7 34.9h0M45.7 3.3h0M45.8 38.7h0M42.6 9.5h0M37.5 17.5h0M9.7 7.2h0M38.6 11.1h0M42.1 31.6h0M22.5 27.7h0M12.1 38.1h0M33.0 43.5h0M36.0 46.1h0M46.7 46.1h0M43.2 3.6h0M25.9 37.5h0M26.3 14.3h0M11.6 43.5h0M37.7 24.3h0M5.4 9.6h0M21.0 19.3h0M14.0 34.6h0M44.7 16.7h0M19.3 14.8h0M27.9 43.4h0M20.1 41.1h0M36.8 13.5h0M22.9 10.1h0M19.4 38.3h0M36.8 50.7h0M42.8 21.8h0M20.8 37.5h0M37.6 8.7h0M9.9 31.4h0M10.7 15.7h0M6.5 43.1h0M7.1 17.0h0M38.9 16.5h0M15.6 14.3h0M44.8 12.1h0"/><path stroke="#70c870" stroke-width="1.40" d="M17.7 34.6h0M11.4 23.4h0M15.2 44.7h0M6.7 18.7h0M42.8 5.5h0M28.6 53.4h0M12.3 28.6h0M29.2 47.9h0M43.8 45.0h0M1.8 10.2h0M15.6 31.5h0M11.2 10.7h0M38.5 33.6h0M35.0 6.2h0M25.9 51.1h0M23.7 49.8h0M32.8 8.4h0M20.0 47.6h0M39.7 10.0h0M21.5 39.4h0M33.8 40.7h0M37.3 21.9h0M37.0 49.0h0M53.4 20.0h0M47.0 53.1h0M38.6 44.1h0M1.6 52.9h0M42.3 44.0h0M48.2 22.1h0M46.3 50.1h0M47.9 33.1h0M7.5 21.1h0M35.5 20.5h0M18.2 49.2h0M52.7 49.0h0M21.4 21.8h0M5.5 34.4h0M19.2 23.1h0M35.5 53.5h0"/><path stroke="#70c870" stroke-width="1.80" d="M37.9 0.8h0M39.2 19.8h0M35.6 30.0h0M2.5 3.0h0M14.7 38.5h0M41.6 25.3h0M27.9 38.8h0M49.4 40.9h0M14.7 52.5h0M37.8 2.4h0M18.0 9.5h0M47.1 4.7h0M44.3 20.9h0M33.3 18.6h0M20.3 29.5h0M15.5 9.3h0M21.3 17.5h0M3.4 34.3h0M44.6 53.1h0M26.6 52.2h0M52.8 40.3h0M53.7 6.1h0M17.2 28.8h0M28.8 26.6h0M38.9 37.9h0M22.7 51.3h0M14.6 2.4h0M20.4 10.5h0M31.8 17.6h0M7.5 28.1h0M23.9 7.6h0M12.9 7.1h0M29.2 12.0h0M7.8 10.8h0M17.3 41.5h0M25.7 22.2h0M4.3 45.4h0M6.1 30.8h0M1.7 31.8h0M50.3 45.7h0M40.0 18.6h0M53.1 53.1h0M27.8 27.6h0M21.6 43.0h0M48.9 8.5h0M1.9 0.5h0M31.0 25.3h0M14.2 3.7h0M36.1 23.2h0M32.7 14.8h0M15.3 48.3h0"/><path stroke="#2c6e2c" stroke-width="1.40" d="M28.9 18.9h0M8.5 2.2h0M32.5 53.8h0M33.7 33.8h0M7.6 24.1h0M39.9 31.7h0M28.6 30.6h0M44.4 6.7h0M0.7 17.6h0M12.6 48.0h0M26.3 43.4h0M11.9 45.7h0M52.6 51.8h0M32.5 0.6h0M13.2 16.1h0M8.2 34.0h0M30.0 29.5h0M32.0 6.9h0M46.2 29.8h0M33.9 24.3h0M34.4 48.2h0M1.2 15.5h0M52.0 33.3h0M23.8 46.4h0M4.4 23.6h0M20.4 25.6h0M2.4 42.7h0M24.6 17.8h0M19.3 50.2h0M18.6 20.5h0M29.1 31.9h0M46.0 0.9h0M46.6 35.3h0M44.0 38.7h0M43.2 50.3h0M45.6 23.4h0M14.0 51.0h0M19.6 1.3h0M10.8 46.4h0M35.3 24.4h0M13.5 5.4h0M23.8 39.6h0M44.5 28.2h0M30.7 0.3h0M18.4 53.3h0M32.7 21.1h0M32.5 4.6h0M27.6 36.6h0M13.1 13.8h0M36.1 17.1h0M3.3 27.4h0M10.4 25.4h0M16.2 33.4h0M1.1 1.6h0M39.2 8.6h0M49.0 0.5h0"/><path stroke="#2c6e2c" stroke-width="1.80" d="M6.6 38.3h0M18.3 3.9h0M47.7 1.0h0M39.8 23.9h0M31.7 36.1h0M2.8 28.8h0M4.4 42.5h0M52.4 8.8h0M26.2 8.4h0M38.3 15.3h0M3.3 49.6h0M41.3 2.2h0M51.4 15.1h0M42.0 7.4h0M43.0 30.5h0M3.6 20.5h0M13.8 32.0h0M42.8 48.8h0M46.1 44.4h0M41.5 10.2h0M27.1 29.5h0M51.7 50.2h0M41.9 28.8h0M32.5 11.5h0M22.0 47.7h0M17.7 12.5h0M16.6 40.0h0M19.6 27.2h0M14.8 5.0h0M15.5 7.9h0M49.8 28.0h0M14.5 42.0h0M49.1 34.5h0M23.6 32.2h0M3.0 14.9h0M27.3 32.9h0M37.0 35.6h0M10.2 5.5h0M35.8 27.3h0M28.9 16.8h0M35.1 51.8h0M9.4 14.9h0M19.9 17.6h0M14.5 15.2h0M44.6 46.0h0"/></g><g id="ch32" fill="none" stroke-linecap="round"><path stroke="#3a8e3a" stroke-width="1.65" d="M34.0 36.4h0M22.5 8.0h0M9.4 42.8h0M39.1 46.9h0M10.4 51.4h0M24.4 32.7h0M30.0 50.0h0M11.3 8.5h0M47.5 7.5h0M28.2 18.2h0M52.2 22.0h0M17.6 52.5h0M15.7 45.5h0M25.0 24.5h0M16.2 26.8h0M35.4 9.6h0M13.7 14.8h0M34.1 18.9h0M27.1 4.4h0M24.1 12.9h0M31.3 30.1h0M4.2 47.5h0M51.8 20.3h0M38.1 51.9h0M42.0 21.3h0M1.9 19.9h0M27.1 38.7h0M50.0 6.3h0M49.8 7.8h0M3.1 20.6h0M2.3 34.3h0M15.0 25.1h0M25.5 10.6h0M8.2 3.7h0M45.0 35.9h0M1.5 13.4h0M43.5 0.3h0M11.8 2.4h0M4.6 11.0h0M17.4 3.9h0M28.5 31.4h0M36.0 0.4h0M35.8 41.0h0M12.6 24.9h0M52.7 0.5h0M28.6 15.7h0M7.1 23.6h0M47.9 35.6h0M40.6 53.6h0M33.9 43.8h0M16.3 13.4h0M35.8 12.3h0M22.5 23.7h0M36.9 14.8h0M1.6 39.8h0M0.3 27.3h0M25.3 27.7h0M0.8 22.2h0M27.1 44.5h0M26.1 2.4h0M15.7 37.0h0M42.9 46.8h0M13.8 18.4h0M7.3 44.3h0"/><path stroke="#3a8e3a" stroke-width="2.15" d="M28.6 33.6h0M28.6 8.1h0M32.4 49.5h0M51.2 3.9h0M25.5 19.6h0M20.6 44.0h0M37.1 52.9h0M23.8 49.9h0M19.9 46.4h0M44.3 27.7h0M51.3 18.2h0M43.4 13.4h0M18.3 29.8h0M44.6 6.4h0M50.6 52.9h0M31.8 46.0h0M28.4 35.7h0M35.1 34.1h0M24.3 38.6h0M46.6 8.7h0M50.8 41.5h0M14.9 42.0h0M5.4 23.4h0M6.3 15.1h0M46.5 34.8h0M9.4 9.4h0M1.8 47.1h0M47.5 19.7h0M30.4 27.4h0M43.1 44.7h0M38.5 25.9h0M37.3 27.1h0M36.6 10.9h0M9.6 39.9h0M3.8 45.7h0M36.9 8.1h0M14.5 43.5h0M15.6 30.1h0M45.0 19.8h0M53.6 38.3h0M14.1 11.4h0M53.0 25.3h0M2.7 16.3h0M32.3 26.0h0M1.4 16.8h0M14.2 16.5h0M40.1 38.9h0M50.9 24.3h0M28.2 48.8h0M22.0 41.5h0M17.5 20.6h0M33.7 14.7h0M13.8 20.6h0M39.2 6.6h0M20.3 35.8h0M38.9 3.3h0M37.6 9.6h0M18.8 4.3h0M50.7 9.5h0M22.0 3.3h0M51.8 44.9h0M2.0 53.3h0M9.1 14.6h0M41.9 48.5h0M11.9 33.6h0M45.9 38.8h0M19.1 35.2h0M26.6 51.0h0M39.2 17.5h0M3.5 33.1h0M12.3 13.7h0M16.5 2.1h0M33.1 46.5h0"/><path stroke="#4eac4e" stroke-width="1.65" d="M38.3 33.0h0M33.3 30.8h0M24.2 36.0h0M8.3 6.7h0M6.1 37.4h0M46.1 48.3h0M13.4 31.8h0M48.2 13.3h0M5.3 35.0h0M52.6 9.4h0M8.5 44.9h0M17.9 40.2h0M42.9 30.6h0M44.1 45.7h0M12.6 23.1h0M53.3 39.8h0M28.2 24.7h0M35.4 52.8h0M41.7 19.4h0M11.7 28.5h0M32.6 12.4h0M36.8 38.4h0M29.3 21.8h0M29.7 19.9h0M31.9 1.9h0M43.0 11.0h0M32.7 23.4h0M46.8 15.0h0M24.4 7.3h0M41.7 23.3h0M3.7 43.6h0M12.4 52.5h0M45.4 25.2h0M40.8 14.9h0M34.2 22.5h0M24.5 52.7h0M6.7 27.4h0M32.5 7.1h0M48.5 40.8h0M0.5 51.4h0M45.2 47.0h0M40.5 4.7h0M32.3 47.5h0M0.7 52.9h0M0.9 33.4h0M5.7 20.7h0M49.5 28.6h0M5.3 4.2h0M41.0 43.1h0M37.9 13.1h0M46.4 4.6h0M8.6 38.8h0M36.7 4.3h0M42.8 6.3h0M43.6 32.2h0M29.5 37.3h0M27.1 13.3h0M32.3 38.0h0M3.0 4.3h0M41.5 32.8h0M8.1 32.0h0M20.8 47.3h0M21.1 42.6h0M53.0 34.6h0M35.0 32.1h0M37.9 18.0h0"/><path stroke="#4eac4e" stroke-width="2.15" d="M12.4 7.2h0M21.6 50.7h0M25.5 15.0h0M29.9 4.6h0M20.0 15.9h0M32.4 40.9h0M9.3 49.0h0M29.7 47.5h0M27.8 9.8h0M20.3 7.0h0M10.5 26.2h0M47.8 33.7h0M39.0 4.6h0M34.8 1.8h0M29.3 23.8h0M17.7 25.0h0M30.8 33.5h0M15.5 51.5h0M52.0 51.1h0M30.1 3.1h0M18.8 1.3h0M5.0 16.2h0M53.0 32.7h0M27.2 46.3h0M30.4 43.2h0M8.1 37.1h0M41.8 31.4h0M36.6 23.0h0M5.8 7.8h0M18.4 10.4h0M47.6 16.6h0M5.6 48.3h0M31.3 18.1h0M23.4 22.0h0M52.6 36.7h0M6.9 10.8h0M32.1 16.4h0M49.3 23.8h0M21.6 16.3h0M18.0 15.3h0M30.9 21.0h0M42.1 14.1h0M33.4 34.9h0M2.5 1.7h0M45.9 54.0h0M32.5 43.2h0M45.4 31.0h0M4.6 37.8h0M31.0 44.7h0M43.8 1.7h0M40.1 48.3h0M5.7 52.9h0"/><path stroke="#70c870" stroke-width="1.65" d="M8.2 33.4h0M27.5 40.5h0M47.4 21.0h0M40.6 51.9h0M13.1 26.3h0M21.2 24.0h0M2.4 27.2h0M8.8 19.9h0M47.3 30.3h0M40.4 18.3h0M50.6 11.7h0M47.3 43.9h0M40.2 24.0h0M53.6 20.6h0M45.3 44.0h0M43.2 42.1h0M21.0 0.8h0M6.2 0.4h0M1.4 7.2h0M30.8 10.4h0M41.0 45.4h0M44.6 17.3h0M15.2 20.9h0M50.3 2.1h0M36.4 17.1h0M3.9 19.1h0M51.5 48.6h0M49.1 27.2h0M50.4 21.0h0M48.3 18.0h0M12.6 1.2h0M9.6 16.6h0M26.3 16.7h0M21.7 9.5h0M18.4 19.2h0M34.0 49.7h0M25.8 53.2h0M30.1 53.4h0M4.0 23.5h0M32.7 19.8h0M2.7 30.8h0M41.8 9.8h0M25.3 25.8h0M14.8 35.0h0M25.1 9.2h0M38.3 22.8h0M18.5 7.3h0M53.5 12.4h0M0.3 16.1h0M47.3 0.5h0M13.7 52.9h0M4.1 30.1h0M40.1 21.1h0M37.2 31.8h0M21.8 4.7h0"/><path stroke="#70c870" stroke-width="2.15" d="M5.2 18.2h0M11.4 32.0h0M34.4 25.6h0M24.2 34.0h0M36.8 21.3h0M9.5 4.2h0M22.6 17.4h0M25.1 43.7h0M27.4 30.2h0M3.2 37.3h0M1.3 24.6h0M40.0 44.1h0M15.4 4.9h0M36.6 44.5h0M10.8 13.3h0M41.9 26.0h0M10.7 11.1h0M26.0 40.4h0M23.0 32.2h0M10.2 20.9h0M21.0 21.5h0M45.3 41.1h0M35.0 30.8h0M9.2 24.4h0M45.7 9.8h0M26.5 42.4h0M4.7 51.6h0M6.4 25.2h0M6.9 16.5h0M11.1 4.2h0M31.4 53.3h0M35.8 18.7h0M28.5 6.6h0M41.0 40.6h0M18.7 45.3h0M3.3 52.5h0M43.0 33.6h0M23.5 19.0h0M2.6 42.4h0M1.1 49.3h0M15.7 11.1h0M31.4 31.9h0M17.3 33.8h0M52.7 43.6h0M49.7 31.4h0M24.0 5.7h0M12.0 15.8h0M43.3 23.6h0M19.4 17.7h0M30.2 14.6h0M53.6 45.2h0M22.3 29.2h0M7.6 22.1h0M34.1 29.4h0M20.4 52.5h0M44.4 39.2h0M10.0 41.4h0M41.9 3.2h0M23.0 37.8h0M10.0 2.9h0"/><path stroke="#2c6e2c" stroke-width="1.65" d="M47.3 39.9h0M23.9 27.3h0M21.6 49.1h0M23.4 30.3h0M36.9 50.9h0M12.6 4.6h0M22.4 13.4h0M16.2 40.3h0M25.4 0.7h0M47.3 51.7h0M0.8 31.6h0M9.7 52.9h0M39.7 50.4h0M39.0 10.6h0M26.5 35.8h0M22.5 43.0h0M52.0 2.6h0M39.1 31.3h0M41.7 12.2h0M41.6 28.5h0M53.3 15.3h0M30.2 41.2h0M39.1 9.2h0M3.5 9.6h0M44.9 8.7h0M48.5 53.0h0M15.4 23.8h0M51.7 38.7h0M37.2 2.2h0M14.1 33.2h0M27.9 51.3h0M36.1 35.0h0M23.5 0.8h0M35.4 24.3h0M52.8 17.9h0M39.8 12.9h0M47.2 46.9h0M39.8 2.2h0M5.7 32.0h0M15.1 12.7h0M45.1 29.1h0M22.5 20.0h0M44.8 49.4h0M48.2 9.6h0M13.3 10.2h0M21.1 40.0h0M10.9 36.1h0M14.1 45.9h0M35.0 5.7h0"/><path stroke="#2c6e2c" stroke-width="2.15" d="M36.0 48.1h0M28.8 52.7h0M45.0 52.4h0M12.0 35.2h0M5.9 40.7h0M3.3 25.7h0M49.2 45.8h0M8.6 1.1h0M15.4 32.4h0M18.8 33.6h0M53.3 48.7h0M33.0 32.7h0M37.2 46.8h0M49.1 5.4h0M53.6 13.8h0M33.9 11.1h0M25.9 32.7h0M47.1 27.6h0M24.1 15.4h0M14.8 6.7h0M38.9 36.4h0M1.5 43.5h0M44.2 10.2h0M33.7 5.6h0M36.0 27.6h0M8.7 35.4h0M15.1 2.1h0M6.8 33.4h0M25.1 18.3h0M44.2 3.7h0M43.4 53.8h0M43.0 40.3h0M46.2 11.6h0M27.9 21.5h0M48.2 50.5h0M17.9 8.6h0M12.7 11.8h0M17.2 23.1h0M25.6 46.9h0M51.5 27.2h0M9.3 28.8h0M11.6 38.2h0M16.1 53.1h0M18.5 37.5h0M33.7 38.2h0M14.1 37.0h0M51.3 46.6h0M11.2 45.8h0M46.3 13.0h0M14.6 48.3h0M38.9 20.2h0M8.0 8.9h0M28.3 11.0h0M21.0 11.7h0M13.0 39.0h0M52.2 31.2h0"/></g><g id="ch33" fill="none" stroke-linecap="round"><path stroke="#40a040" stroke-width="1.62" d="M39.5 11.9h0M20.6 26.0h0M24.5 38.5h0M35.4 50.7h0M41.8 16.4h0M5.0 2.9h0M20.0 34.2h0M31.1 22.6h0M27.1 9.9h0M53.6 43.5h0M25.1 50.5h0M32.4 51.9h0M21.7 44.1h0M29.0 10.0h0M8.8 38.2h0M40.8 20.5h0M43.7 30.8h0M12.0 45.5h0M44.9 29.3h0M7.4 49.2h0M1.4 35.4h0M40.2 5.7h0M26.6 15.5h0M9.0 43.6h0M37.8 53.5h0M27.4 1.7h0M44.4 26.6h0M15.6 4.1h0M32.4 46.5h0M12.4 10.9h0M9.4 13.8h0M30.7 38.3h0M52.9 40.0h0M51.3 13.7h0M26.8 28.4h0M1.8 20.8h0M13.7 30.7h0M3.9 29.0h0M46.2 8.1h0M5.2 38.8h0M51.6 12.4h0M38.8 15.7h0M18.7 50.2h0M10.3 44.9h0M40.2 42.8h0M28.9 8.0h0M0.8 51.6h0M32.5 41.4h0M33.2 45.0h0M41.0 48.3h0M10.6 36.4h0M8.5 26.0h0M44.3 47.1h0M2.8 37.0h0M10.6 48.2h0M44.0 0.4h0M40.7 23.0h0M17.4 12.0h0M34.9 29.9h0M17.3 22.5h0M53.2 1.6h0M14.6 54.1h0M41.2 1.3h0M48.2 23.0h0"/><path stroke="#40a040" stroke-width="2.07" d="M52.6 24.8h0M22.2 39.7h0M10.0 19.9h0M36.7 29.7h0M24.9 36.7h0M35.2 28.0h0M35.1 40.3h0M39.1 25.8h0M38.4 10.1h0M6.9 22.0h0M32.3 19.1h0M18.5 52.8h0M50.3 42.2h0M47.4 24.3h0M19.6 4.1h0M46.0 35.8h0M3.9 43.8h0M1.2 40.8h0M53.3 7.7h0M50.5 25.1h0M5.6 14.9h0M48.4 9.8h0M17.6 51.9h0M18.8 24.3h0M35.1 25.3h0M39.2 13.2h0M31.6 29.5h0M27.0 35.6h0M14.2 4.8h0M32.4 28.3h0M44.0 10.1h0M21.0 2.8h0M13.0 7.9h0M28.0 46.5h0M39.4 2.3h0M51.6 43.0h0M9.6 27.9h0M22.2 33.3h0M31.8 25.4h0M53.6 3.8h0M6.2 51.6h0M6.5 18.5h0M4.7 7.8h0M7.8 29.7h0M8.1 53.4h0M27.8 16.2h0M45.9 47.3h0M52.1 28.2h0M35.7 12.4h0M33.5 33.0h0M44.3 8.8h0M10.2 41.0h0"/><path stroke="#58c058" stroke-width="1.62" d="M44.5 13.7h0M18.0 34.3h0M17.8 43.0h0M50.2 0.8h0M42.1 29.9h0M41.2 3.1h0M48.1 35.7h0M16.3 27.5h0M50.1 39.2h0M22.0 15.8h0M12.5 42.5h0M22.7 5.3h0M16.7 34.8h0M40.9 27.2h0M4.3 51.1h0M7.5 15.5h0M11.6 49.0h0M49.9 51.6h0M4.8 20.9h0M1.3 15.9h0M7.8 9.3h0M37.6 44.8h0M33.5 36.8h0M24.0 27.0h0M33.2 49.8h0M29.8 17.1h0M35.8 32.4h0M52.6 44.7h0M22.2 45.7h0M25.3 51.9h0M47.6 6.7h0M30.5 8.8h0M46.5 0.6h0M51.7 39.0h0M19.1 33.1h0M22.2 51.5h0M45.8 3.6h0M51.0 6.6h0M53.0 30.2h0M36.0 15.9h0M15.5 43.6h0M13.9 46.9h0M11.1 22.2h0M24.2 43.2h0M11.9 14.3h0M47.2 30.1h0M50.3 20.2h0M14.2 27.0h0M23.4 7.1h0"/><path stroke="#58c058" stroke-width="2.07" d="M4.7 12.3h0M22.5 42.6h0M44.0 24.2h0M36.9 46.0h0M52.7 17.0h0M2.0 33.4h0M28.1 21.8h0M7.6 42.0h0M25.8 10.8h0M44.1 38.0h0M44.3 40.4h0M29.0 24.3h0M49.8 35.4h0M43.1 15.1h0M5.1 53.5h0M48.0 2.3h0M48.8 39.7h0M32.1 1.9h0M27.5 41.9h0M24.3 45.4h0M13.9 25.2h0M2.8 45.9h0M27.5 49.1h0M47.1 53.8h0M49.0 36.7h0M49.3 3.8h0M19.0 12.9h0M26.1 3.9h0M31.1 17.8h0M8.0 12.4h0M27.0 23.8h0M29.4 29.3h0M51.1 30.0h0M4.5 35.5h0M22.8 9.0h0M11.4 2.6h0M13.0 19.7h0M37.1 23.3h0M16.1 40.3h0M39.3 27.7h0M28.2 33.3h0M13.6 53.0h0M25.6 8.9h0M32.6 47.9h0M2.5 43.6h0M12.3 29.9h0M28.3 5.4h0M11.0 8.6h0M31.2 47.7h0M27.3 38.5h0M18.5 36.8h0M27.4 52.1h0M10.5 46.6h0M15.8 38.5h0M11.0 5.4h0M2.2 30.6h0M2.1 6.4h0M31.9 21.2h0M49.0 15.1h0M14.4 20.2h0M53.2 10.6h0M28.8 38.7h0M32.2 31.3h0M15.2 23.1h0M26.4 46.5h0M35.6 36.4h0M39.5 7.1h0M15.3 42.0h0M43.7 52.5h0"/><path stroke="#78d878" stroke-width="1.62" d="M1.6 12.4h0M16.1 26.2h0M22.7 13.9h0M9.0 23.4h0M1.3 18.2h0M51.2 32.9h0M19.3 20.5h0M35.9 5.6h0M16.2 52.2h0M14.6 6.2h0M39.2 40.7h0M28.1 29.6h0M46.2 27.5h0M1.5 5.2h0M27.8 18.2h0M8.7 21.0h0M21.0 47.8h0M32.7 42.9h0M3.7 38.6h0M19.9 37.0h0M8.1 47.8h0M34.9 3.5h0M35.5 49.2h0M42.8 18.9h0M21.8 18.2h0M2.4 23.1h0M48.0 45.5h0M42.8 12.3h0M3.4 11.1h0M34.4 53.2h0M48.3 13.8h0M39.9 33.7h0M38.6 47.7h0M34.9 43.8h0M15.5 24.9h0M47.0 17.9h0M50.6 22.2h0M30.6 5.4h0M41.6 6.8h0M11.4 40.5h0M23.4 24.7h0M33.6 20.5h0M15.9 18.3h0M12.6 17.8h0M1.1 23.5h0M10.7 39.0h0M51.6 52.0h0M3.3 26.8h0M24.9 2.5h0M22.6 11.1h0M45.6 32.4h0M23.6 16.3h0M6.0 27.7h0M18.0 17.0h0M31.5 39.8h0"/><path stroke="#78d878" stroke-width="2.07" d="M11.8 53.4h0M49.4 5.5h0M53.5 53.4h0M34.8 47.2h0M14.2 0.9h0M46.2 42.5h0M13.4 23.6h0M45.7 25.2h0M25.2 34.7h0M27.6 14.1h0M32.2 9.2h0M41.0 12.7h0M17.6 31.7h0M18.7 27.6h0M10.3 12.0h0M37.4 39.5h0M19.0 51.5h0M21.7 26.9h0M40.9 32.5h0M36.0 8.7h0M5.8 48.6h0M4.8 6.0h0M1.5 50.0h0M49.4 16.6h0M47.5 25.9h0M26.8 8.2h0M39.8 46.5h0M0.7 29.7h0M12.9 12.1h0M46.0 6.7h0M42.2 43.8h0M3.7 13.5h0M12.9 5.5h0M48.9 43.5h0M19.7 46.9h0M9.4 52.3h0M5.0 37.3h0M28.9 51.1h0M31.9 5.2h0M36.2 43.2h0M13.2 50.5h0M13.6 15.7h0M38.4 0.4h0M5.8 32.9h0M12.5 39.6h0M50.7 10.6h0M4.1 1.6h0M31.0 42.4h0"/><path stroke="#309030" stroke-width="1.62" d="M32.5 6.9h0M47.8 47.2h0M7.1 28.5h0M25.6 13.8h0M41.5 38.4h0M30.5 33.8h0M50.7 37.0h0M40.0 17.4h0M52.6 51.1h0M15.5 50.4h0M23.8 17.7h0M14.7 36.2h0M11.7 16.0h0M34.3 38.5h0M29.2 47.7h0M45.1 52.3h0M5.9 29.8h0M16.6 46.2h0M52.9 48.1h0M5.5 45.5h0M49.1 33.6h0M25.6 16.4h0M9.2 6.6h0M41.0 14.2h0M37.8 18.9h0M22.2 35.0h0M44.1 21.3h0M7.4 26.7h0M27.8 36.7h0M50.3 18.0h0M16.9 30.2h0M34.2 15.4h0M42.4 2.7h0M37.5 20.5h0M52.2 15.4h0M38.2 49.9h0M44.9 48.7h0M8.6 16.5h0M6.7 39.4h0M41.6 50.7h0M7.4 43.9h0M24.1 53.6h0M29.8 19.3h0M42.4 47.5h0M29.1 42.3h0M39.9 8.6h0M20.9 23.1h0M39.3 44.2h0M3.4 9.2h0M11.0 25.3h0M51.0 34.8h0M31.7 11.3h0M0.4 11.9h0M30.8 52.6h0M47.1 4.8h0M8.9 0.4h0M48.6 54.1h0M4.9 31.9h0M30.0 48.9h0M53.1 32.9h0M4.6 41.9h0M9.8 50.7h0M38.8 22.5h0M26.9 20.3h0M28.5 12.3h0M39.1 19.5h0M24.5 21.7h0M40.0 29.3h0"/><path stroke="#309030" stroke-width="2.07" d="M31.3 51.2h0M20.9 31.4h0M1.8 47.7h0M46.7 15.7h0M15.7 33.3h0M1.5 42.9h0M1.8 25.1h0M46.7 37.3h0M14.4 40.3h0M6.6 24.4h0M18.4 18.4h0M50.2 53.8h0M53.6 37.7h0M50.7 8.6h0M44.7 5.9h0M25.8 39.4h0M6.4 1.8h0M3.0 40.9h0M24.2 4.5h0M1.4 36.9h0M34.1 7.6h0M10.8 15.1h0M26.0 44.8h0M47.7 31.8h0M49.2 47.2h0M31.6 35.2h0M20.3 10.7h0M19.9 19.1h0M8.5 4.6h0M10.5 18.1h0M6.9 37.2h0M44.3 12.2h0M30.8 41.1h0M25.9 42.2h0M15.9 13.6h0M25.3 29.2h0M22.2 28.2h0M46.6 50.0h0M51.8 3.5h0M26.7 25.9h0M43.3 17.1h0M0.4 6.7h0M3.1 21.5h0M31.0 27.5h0M15.4 2.5h0M22.2 36.3h0M48.0 0.8h0M27.8 26.7h0M27.8 31.9h0M18.9 21.9h0M14.8 45.9h0M16.3 6.9h0M32.9 15.8h0M1.8 13.7h0M0.4 14.0h0M37.4 7.4h0"/></g><g id="ch34" fill="none" stroke-linecap="round"><path stroke="#40a040" stroke-width="1.75" d="M31.4 21.3h0M19.0 53.6h0M43.7 33.2h0M51.6 33.6h0M22.6 33.1h0M40.6 51.1h0M26.8 50.0h0M37.6 22.5h0M41.0 24.5h0M10.9 45.9h0M29.7 39.4h0M26.7 27.0h0M12.3 37.9h0M27.7 48.9h0M10.3 14.9h0M15.1 51.9h0M29.2 4.1h0M13.0 33.4h0M52.8 45.9h0M2.7 27.1h0M1.3 9.1h0M13.9 32.3h0M19.6 24.7h0M5.8 42.8h0M45.1 54.1h0M6.4 8.6h0M15.0 11.6h0M42.9 46.6h0M22.4 12.9h0M52.0 22.6h0M25.6 49.6h0M31.4 30.1h0M5.3 33.0h0M32.9 14.8h0M28.3 35.7h0M50.2 5.6h0M51.6 4.3h0M25.1 18.8h0M52.8 19.2h0M38.0 24.0h0M8.7 12.8h0M27.9 1.1h0M45.7 28.8h0M34.1 24.9h0M6.2 24.5h0M13.0 16.7h0M23.6 26.8h0M12.2 32.3h0M22.5 42.5h0M47.6 43.4h0M47.5 51.9h0M9.7 3.0h0M43.2 31.4h0M37.3 3.7h0M29.5 32.8h0M23.4 31.3h0M18.4 28.3h0M1.8 18.0h0M30.4 16.6h0M36.8 12.6h0M25.5 24.6h0M3.2 51.2h0M2.7 49.5h0M36.5 26.9h0M20.6 46.1h0"/><path stroke="#40a040" stroke-width="2.25" d="M17.9 35.0h0M43.3 29.8h0M16.9 45.6h0M21.4 29.9h0M19.3 42.1h0M30.6 8.9h0M13.4 44.6h0M52.7 6.6h0M25.5 41.3h0M5.1 12.4h0M18.5 19.0h0M29.6 35.7h0M39.1 47.6h0M10.7 35.1h0M1.4 32.8h0M20.6 35.7h0M9.9 9.9h0M35.1 22.4h0M41.6 43.4h0M31.3 33.9h0M17.2 24.7h0M35.4 20.7h0M34.2 30.0h0M0.8 27.6h0M41.1 10.4h0M46.3 30.4h0M12.6 39.3h0M16.0 29.3h0M1.9 16.4h0M13.2 49.2h0M17.7 31.5h0M17.5 30.2h0M6.7 47.9h0M41.3 41.4h0M13.3 19.1h0M11.8 51.7h0M53.2 52.9h0M19.0 30.1h0M50.9 44.4h0M2.9 53.7h0M51.2 26.1h0M51.8 50.9h0M47.1 8.1h0M14.0 47.7h0M7.5 29.5h0M34.2 13.2h0M36.7 9.4h0M0.3 46.5h0M53.1 27.1h0M35.8 16.3h0M46.5 11.5h0M1.1 48.8h0M13.2 52.6h0M4.0 45.5h0M1.5 53.8h0M9.4 45.9h0M12.3 4.9h0M23.7 41.1h0M0.3 41.1h0"/><path stroke="#58c058" stroke-width="1.75" d="M25.2 29.2h0M28.2 2.4h0M9.8 4.9h0M13.0 10.9h0M23.1 1.9h0M44.2 4.0h0M7.9 50.4h0M48.1 12.1h0M40.1 31.2h0M34.5 7.4h0M51.0 6.8h0M10.9 16.1h0M38.2 45.9h0M4.8 16.8h0M18.7 8.8h0M23.5 49.7h0M19.8 4.9h0M33.3 46.9h0M8.1 42.5h0M39.3 53.7h0M7.0 21.0h0M39.6 25.1h0M15.3 30.6h0M15.1 15.3h0M52.9 13.9h0M24.9 53.8h0M1.6 45.6h0M4.3 19.5h0M21.6 25.2h0M31.8 19.3h0M32.9 27.8h0M0.7 11.8h0M17.0 53.1h0M26.8 7.1h0M10.6 7.6h0M6.3 27.8h0M30.6 37.1h0M27.2 45.8h0M32.1 49.3h0M30.7 50.4h0M8.0 47.5h0M8.3 1.8h0M18.8 33.1h0M8.9 15.1h0M2.9 43.5h0M50.1 29.9h0M29.7 14.2h0M49.3 44.4h0M27.5 34.4h0M25.3 52.0h0M35.3 32.9h0M45.0 30.1h0M46.4 53.5h0M29.3 34.1h0M30.2 48.9h0M44.5 36.6h0M37.5 28.3h0M24.5 5.3h0M25.8 32.8h0M35.3 5.5h0M6.9 17.7h0M14.3 40.4h0M26.7 25.3h0M6.3 7.1h0M33.9 3.2h0M39.8 4.1h0M10.9 38.8h0"/><path stroke="#58c058" stroke-width="2.25" d="M45.2 2.5h0M5.3 31.4h0M30.5 51.9h0M45.4 0.9h0M27.3 12.6h0M26.4 20.1h0M13.0 2.1h0M12.4 27.7h0M21.4 7.0h0M40.0 22.7h0M25.2 37.3h0M29.3 7.6h0M12.1 24.2h0M38.7 36.0h0M46.6 15.9h0M28.5 21.3h0M29.1 15.9h0M26.5 30.1h0M40.5 3.1h0M19.5 17.0h0M47.7 28.0h0M24.0 4.0h0M4.4 2.1h0M38.1 32.4h0M19.8 22.4h0M26.8 52.2h0M23.0 11.4h0M29.9 17.9h0M8.4 53.9h0M32.3 37.1h0M50.7 19.3h0M4.7 44.2h0M34.0 19.3h0M47.9 40.2h0M47.6 21.5h0M49.0 42.9h0M22.2 18.0h0M50.7 49.1h0M4.9 7.2h0M10.6 50.3h0M42.6 10.6h0M14.7 2.3h0M8.7 26.6h0M29.0 30.3h0M38.1 48.8h0M17.2 15.2h0M5.8 0.8h0M21.6 21.6h0M20.2 43.6h0M24.1 24.4h0M45.1 38.4h0"/><path stroke="#78d878" stroke-width="1.75" d="M43.4 1.2h0M49.1 53.9h0M43.7 13.4h0M4.7 11.1h0M26.7 21.5h0M15.0 48.6h0M47.4 2.3h0M11.1 19.7h0M21.5 53.4h0M47.2 5.5h0M39.1 16.9h0M6.5 4.9h0M29.7 19.7h0M46.0 49.8h0M35.9 28.9h0M8.1 21.7h0M41.6 0.4h0M42.9 34.6h0M52.1 42.6h0M3.7 13.9h0M16.0 2.9h0M8.3 25.3h0M22.7 44.1h0M22.8 16.2h0M40.1 18.9h0M52.9 9.4h0M42.8 39.9h0M13.8 28.0h0M10.2 53.3h0M5.6 40.9h0M19.1 6.6h0M29.7 24.9h0M49.8 22.5h0M39.5 8.3h0M44.0 43.6h0M40.9 46.8h0M7.0 23.1h0M38.3 11.6h0M47.7 30.1h0M14.4 33.7h0M32.3 17.2h0M33.2 50.3h0M18.8 26.4h0M11.9 21.2h0M19.0 44.5h0M30.0 31.6h0M52.9 4.7h0M4.7 23.1h0M14.8 38.2h0M29.9 10.9h0M14.6 42.6h0M35.5 12.4h0M13.5 36.8h0M44.0 16.6h0M34.2 21.5h0M1.0 15.0h0M37.3 38.2h0M4.8 26.9h0M2.2 47.7h0M31.5 24.2h0M16.7 39.9h0M6.4 2.1h0M2.7 28.5h0M12.0 54.0h0"/><path stroke="#78d878" stroke-width="2.25" d="M51.6 47.2h0M48.1 6.7h0M23.7 6.7h0M15.6 0.7h0M44.7 51.4h0M42.1 21.2h0M50.8 31.3h0M15.5 9.9h0M44.4 49.3h0M4.2 37.5h0M42.1 14.6h0M19.0 35.8h0M20.7 19.3h0M30.1 46.0h0M26.5 31.7h0M17.3 18.5h0M32.7 23.4h0M12.5 47.5h0M28.8 22.7h0M25.9 45.5h0M7.8 32.8h0M16.8 5.7h0M18.6 21.7h0M40.7 34.7h0M35.4 52.4h0M15.3 27.3h0M47.0 34.8h0M33.7 36.7h0M1.1 35.9h0M43.1 27.4h0M28.3 44.8h0M5.1 36.3h0M42.5 23.9h0M5.3 34.6h0M20.9 15.4h0M28.5 53.7h0M50.6 2.4h0M34.7 41.5h0M32.5 9.2h0M36.0 13.7h0M9.3 33.7h0M0.9 5.8h0M7.5 0.3h0M45.5 7.4h0M6.0 46.3h0M43.8 41.8h0M20.7 23.5h0M23.6 46.7h0M10.3 11.9h0M11.7 42.9h0M51.7 8.2h0M21.4 39.5h0M37.0 0.7h0M3.9 34.6h0M9.9 40.7h0M31.2 35.7h0M38.6 15.6h0M14.7 6.0h0M31.2 6.7h0M1.6 20.8h0M17.9 12.2h0M7.7 31.2h0M34.8 35.0h0M18.2 37.7h0M36.4 34.3h0M2.3 42.0h0M20.7 12.7h0M19.9 40.5h0M49.0 51.5h0"/><path stroke="#309030" stroke-width="1.75" d="M9.9 30.9h0M4.8 8.6h0M10.9 26.4h0M11.6 9.1h0M36.9 36.6h0M17.5 17.1h0M15.5 32.8h0M53.1 29.6h0M36.4 50.3h0M23.6 48.3h0M3.4 24.6h0M47.4 19.4h0M32.3 53.3h0M29.3 42.0h0M34.4 48.4h0M5.7 14.0h0M45.8 41.5h0M34.7 9.7h0M49.2 41.6h0M48.5 24.1h0M8.2 28.1h0M29.7 12.9h0M41.7 53.0h0M17.4 41.0h0M43.2 38.4h0M47.9 32.4h0M30.4 3.5h0M39.8 1.6h0M50.5 16.2h0M39.8 10.2h0M15.3 47.4h0M45.8 33.6h0M41.5 26.2h0M3.3 46.7h0M12.2 7.9h0M34.7 14.6h0M28.0 14.8h0M17.3 2.0h0M47.6 13.5h0M35.6 47.7h0M3.6 7.8h0M32.4 31.8h0M43.9 20.7h0M18.1 39.0h0M49.2 26.9h0M30.0 44.7h0M46.7 4.0h0M12.9 25.9h0M51.0 23.5h0M30.8 25.5h0M40.9 49.5h0M45.9 39.5h0M11.0 27.7h0M41.2 45.5h0M53.3 22.2h0M41.8 2.6h0M19.5 47.7h0M47.2 38.0h0M47.8 45.0h0M44.3 11.1h0"/><path stroke="#309030" stroke-width="2.25" d="M32.2 43.4h0M13.8 22.6h0M8.0 8.9h0M29.5 29.1h0M46.1 48.2h0M31.2 1.8h0M22.6 40.2h0M17.2 48.7h0M45.6 44.4h0M49.2 28.9h0M37.7 26.0h0M24.9 16.7h0M16.9 38.1h0M48.7 17.1h0M14.4 8.7h0M14.6 25.5h0M41.2 36.3h0M42.7 7.9h0M15.7 13.3h0M30.1 27.3h0M35.4 17.7h0M9.4 6.9h0M5.9 37.8h0M22.5 14.7h0M28.7 27.2h0M52.2 1.8h0M51.3 10.1h0M41.7 27.8h0M7.6 14.1h0M45.5 45.9h0M4.5 18.2h0M38.7 29.5h0M35.9 39.1h0M7.8 40.3h0M53.1 0.3h0M16.3 11.7h0M43.3 25.0h0M26.7 9.4h0M36.5 42.7h0M19.1 50.2h0M13.4 0.5h0M24.0 39.3h0M9.4 36.9h0M22.5 28.4h0M10.3 48.1h0M4.7 28.8h0M14.0 7.2h0M35.9 25.6h0M49.4 20.5h0M38.2 13.7h0M6.7 32.1h0M48.5 47.7h0M7.3 3.3h0M18.2 11.0h0M20.2 0.6h0M22.1 46.9h0M15.6 34.9h0M7.9 48.8h0M20.7 3.5h0M7.6 10.5h0M6.9 36.7h0M21.0 16.9h0"/></g><g id="cgf1" fill="none" stroke-linecap="round"><path stroke="#581616" stroke-width="1.65" d="M20.6 23.1h0M7.1 29.7h0M39.9 31.7h0M38.5 33.6h0M38.2 6.8h0M25.3 47.0h0M24.2 10.6h0M47.9 33.1h0M11.3 40.4h0M32.1 2.1h0M5.5 34.4h0M50.1 43.1h0M17.0 6.8h0M39.2 8.6h0"/><path stroke="#581616" stroke-width="2.15" d="M48.0 24.3h0M8.0 40.5h0M35.7 34.9h0M45.8 38.7h0M30.6 47.6h0M9.7 7.2h0M34.2 13.0h0M22.5 27.7h0M33.0 43.5h0M39.9 35.9h0M52.0 21.4h0M14.5 42.0h0M49.1 34.5h0M24.2 13.2h0"/><path stroke="#702020" stroke-width="1.65" d="M8.1 38.7h0M0.9 37.8h0M52.6 51.8h0M37.3 32.0h0M20.0 47.6h0M5.9 39.7h0M52.2 36.8h0M41.3 42.3h0M43.2 50.3h0M45.3 19.2h0M36.5 7.9h0M36.1 17.1h0M31.3 20.9h0M17.8 8.1h0"/><path stroke="#702020" stroke-width="2.15" d="M0.4 7.1h0M40.4 37.3h0M3.6 20.5h0M15.5 9.3h0M10.9 0.7h0M14.3 10.5h0M17.9 15.4h0M0.9 11.7h0M33.0 35.6h0M53.1 24.3h0"/><path stroke="#401010" stroke-width="1.65" d="M11.8 12.2h0M4.1 10.7h0M50.3 13.8h0M21.7 3.2h0M3.6 37.5h0M1.8 10.2h0M13.9 30.7h0M44.5 3.8h0M36.4 5.7h0M35.5 33.6h0M19.6 1.3h0M13.5 5.4h0M18.2 49.2h0M13.1 13.8h0"/><path stroke="#401010" stroke-width="2.15" d="M3.8 8.4h0M25.7 27.1h0M32.9 38.6h0M9.5 27.0h0M43.4 37.1h0M46.5 27.7h0M43.0 30.5h0M37.7 24.3h0M19.4 38.3h0M29.2 12.0h0M17.3 41.5h0M35.8 27.3h0M38.3 39.1h0"/><path stroke="#882424" stroke-width="1.65" d="M11.4 23.4h0M28.6 53.4h0M18.1 2.0h0M51.7 28.1h0M41.8 51.2h0M47.0 53.1h0"/><path stroke="#882424" stroke-width="2.15" d="M2.5 3.0h0M14.7 38.5h0M42.9 18.5h0M27.9 38.8h0M18.0 9.5h0M25.9 37.5h0M45.0 35.0h0M5.4 9.6h0M45.6 42.8h0M22.0 47.7h0M40.4 45.8h0M12.6 52.6h0M16.5 50.2h0M37.6 8.7h0M34.4 50.3h0M1.4 25.0h0"/></g><g id="cgf2" fill="none" stroke-linecap="round"><path stroke="#c02828" stroke-width="1.75" d="M25.4 0.7h0M11.3 8.5h0M47.5 7.5h0M26.3 37.6h0M0.8 29.2h0M28.2 18.2h0M2.4 27.2h0M8.8 19.9h0M40.4 18.3h0M17.6 52.5h0M42.9 30.6h0M12.6 23.1h0M47.3 43.9h0M12.0 44.5h0M27.5 32.8h0M21.0 0.8h0M6.2 0.4h0M1.4 7.2h0M36.4 17.1h0M3.9 19.1h0M24.0 44.4h0M1.9 19.9h0M51.7 38.7h0M41.7 23.3h0M50.4 21.0h0M45.4 25.2h0M3.1 20.6h0M48.3 18.0h0M26.3 16.7h0M49.5 14.3h0M47.2 46.9h0M1.5 13.4h0M28.5 31.4h0M41.8 9.8h0M25.3 25.8h0M14.8 35.0h0M5.3 4.2h0M16.1 8.6h0M28.6 15.7h0M19.3 42.1h0M46.4 4.6h0M29.5 37.3h0M3.0 4.3h0M35.0 32.1h0M13.8 18.4h0M7.3 44.3h0"/><path stroke="#c02828" stroke-width="2.25" d="M28.6 33.6h0M28.6 8.1h0M45.0 52.4h0M20.6 44.0h0M12.6 17.6h0M37.1 52.9h0M51.3 18.2h0M20.0 15.9h0M43.4 13.4h0M53.3 48.7h0M32.1 8.9h0M9.3 49.0h0M18.3 29.8h0M35.1 34.1h0M51.2 16.2h0M14.8 6.7h0M30.1 3.1h0M4.7 51.6h0M27.2 46.3h0M11.1 4.2h0M41.8 31.4h0M18.0 47.1h0M44.9 23.0h0M18.7 45.3h0M36.9 8.1h0M14.5 43.5h0M15.6 30.1h0M46.2 11.6h0M53.6 38.3h0M48.2 50.5h0M17.3 33.8h0M49.7 31.4h0M49.3 23.8h0M11.6 38.2h0M30.9 21.0h0M22.3 29.2h0M33.4 34.9h0M7.6 22.1h0M22.0 3.3h0M4.3 1.0h0M4.6 37.8h0M19.1 35.2h0M13.0 39.0h0M52.2 31.2h0"/><path stroke="#e03a3a" stroke-width="1.75" d="M27.5 40.5h0M23.4 30.3h0M47.4 21.0h0M47.3 51.7h0M7.5 49.5h0M40.6 51.9h0M1.6 9.7h0M21.7 36.8h0M42.2 4.8h0M39.7 16.1h0M5.3 35.0h0M8.5 44.9h0M47.3 30.3h0M17.9 40.2h0M38.1 38.9h0M35.4 9.6h0M41.7 12.2h0M31.3 30.1h0M15.2 20.9h0M29.7 19.9h0M32.7 23.4h0M46.8 15.0h0M15.4 23.8h0M24.4 7.3h0M49.8 7.8h0M6.7 27.4h0M0.5 51.4h0M8.2 3.7h0M45.2 47.0h0M30.1 53.4h0M43.5 0.3h0M32.7 19.8h0M4.6 11.0h0M0.9 33.4h0M49.5 28.6h0M37.1 25.2h0M47.9 35.6h0M22.5 20.0h0M40.6 53.6h0M32.3 38.0h0M20.9 26.5h0M22.5 23.7h0M28.1 26.1h0M14.1 45.9h0M27.1 44.5h0M26.1 2.4h0M15.7 37.0h0M35.0 5.7h0"/><path stroke="#e03a3a" stroke-width="2.25" d="M24.2 34.0h0M36.8 21.3h0M22.6 17.4h0M25.1 43.7h0M25.0 45.6h0M12.0 35.2h0M25.5 15.0h0M29.9 4.6h0M1.3 24.6h0M3.3 25.7h0M8.6 1.1h0M27.8 9.8h0M20.3 7.0h0M24.3 38.6h0M21.0 21.5h0M50.8 41.5h0M14.9 42.0h0M45.7 9.8h0M26.5 42.4h0M6.4 25.2h0M28.5 6.6h0M41.0 40.6h0M9.6 39.9h0M18.4 10.4h0M52.8 53.7h0M47.6 16.6h0M43.0 40.3h0M5.6 48.3h0M17.9 8.6h0M3.1 49.2h0M15.7 11.1h0M1.4 16.8h0M20.3 31.4h0M6.9 10.8h0M12.7 11.8h0M50.9 24.3h0M6.8 13.9h0M28.2 48.8h0M12.0 15.8h0M43.3 23.6h0M22.0 41.5h0M17.5 20.6h0M16.1 53.1h0M18.8 4.3h0M33.7 38.2h0M2.0 53.3h0M38.9 20.2h0M8.0 8.9h0M31.0 44.7h0M43.8 1.7h0M28.3 11.0h0M26.6 51.0h0M41.9 3.2h0M12.3 13.7h0M23.0 37.8h0M10.0 2.9h0"/><path stroke="#a01c1c" stroke-width="1.75" d="M38.3 33.0h0M34.0 36.4h0M8.3 6.7h0M22.4 13.4h0M10.4 51.4h0M24.4 32.7h0M0.8 31.6h0M48.2 13.3h0M52.2 22.0h0M26.5 35.8h0M15.7 45.5h0M52.0 2.6h0M39.1 31.3h0M53.3 39.8h0M41.6 28.5h0M35.4 52.8h0M34.1 18.9h0M43.2 42.1h0M0.6 41.4h0M8.1 51.1h0M11.7 28.5h0M4.1 41.3h0M27.1 4.4h0M30.8 10.4h0M41.0 45.4h0M44.9 8.7h0M42.0 21.3h0M27.1 38.7h0M41.8 38.1h0M48.3 49.1h0M35.4 24.3h0M16.8 19.5h0M34.0 49.7h0M39.8 12.9h0M48.5 40.8h0M25.5 10.6h0M40.5 4.7h0M32.3 47.5h0M11.8 2.4h0M5.7 32.0h0M41.0 43.1h0M33.8 3.0h0M37.9 13.1h0M0.3 16.1h0M33.9 43.8h0M27.1 13.3h0M8.1 32.0h0M48.2 9.6h0M37.2 31.8h0M21.1 40.0h0M25.3 27.7h0M21.8 4.7h0"/><path stroke="#a01c1c" stroke-width="2.25" d="M5.2 18.2h0M28.8 52.7h0M49.5 38.2h0M25.5 19.6h0M3.2 37.3h0M40.0 44.1h0M49.2 45.8h0M36.6 44.5h0M23.8 49.9h0M10.8 13.3h0M22.6 53.3h0M33.0 32.7h0M41.9 26.0h0M10.7 11.1h0M31.8 46.0h0M49.1 5.4h0M17.7 25.0h0M7.1 42.3h0M49.4 43.6h0M30.8 33.5h0M41.1 35.3h0M41.1 50.3h0M9.2 24.4h0M5.0 16.2h0M53.0 32.7h0M31.4 53.3h0M9.9 32.3h0M36.0 27.6h0M8.7 35.4h0M38.5 25.9h0M37.3 27.1h0M36.6 10.9h0M34.3 41.3h0M43.4 53.8h0M39.6 40.4h0M43.0 33.6h0M14.1 11.4h0M23.5 19.0h0M51.9 12.8h0M53.0 25.3h0M31.4 31.9h0M18.9 12.0h0M23.4 22.0h0M52.6 36.7h0M40.1 38.9h0M23.8 40.2h0M37.2 28.9h0M33.7 14.7h0M30.2 14.6h0M39.2 6.6h0M34.1 29.4h0M14.1 37.0h0M2.5 1.7h0M45.9 54.0h0M51.8 44.9h0M39.9 28.2h0M20.4 52.5h0M41.9 48.5h0M44.4 39.2h0M5.7 52.9h0M21.0 11.7h0M16.5 2.1h0"/></g><g id="csx1" fill="none" stroke-linecap="round"><path stroke="#501414" stroke-width="1.30" d="M41.0 14.2h0M7.4 26.7h0M21.8 18.2h0M32.4 46.5h0M30.7 38.3h0"/><path stroke="#501414" stroke-width="1.70" d="M11.8 53.4h0M34.8 47.2h0M27.5 41.9h0M5.8 48.6h0M43.2 32.2h0M11.4 2.6h0M38.0 3.2h0M17.3 36.1h0"/><path stroke="#6a1c1c" stroke-width="1.30" d="M11.7 16.0h0M20.0 34.2h0M40.8 20.5h0M49.4 45.9h0M18.5 5.8h0M25.3 51.9h0M0.8 51.6h0M11.1 31.5h0M40.0 29.3h0"/><path stroke="#6a1c1c" stroke-width="1.70" d="M31.3 51.2h0M44.0 24.2h0M42.7 41.1h0M43.1 15.1h0M19.6 4.1h0M30.1 3.7h0M19.0 12.9h0M48.8 41.0h0M14.4 20.2h0M50.7 10.6h0M39.5 7.1h0"/><path stroke="#3c0e0e" stroke-width="1.30" d="M22.7 13.9h0M20.6 26.0h0M16.2 52.2h0M50.1 39.2h0M16.6 46.2h0M52.0 7.6h0M49.1 33.6h0M42.4 47.5h0M15.9 18.3h0M39.1 19.5h0M24.5 21.7h0"/><path stroke="#3c0e0e" stroke-width="1.70" d="M22.3 52.8h0M18.4 18.4h0M47.4 24.3h0M20.3 10.7h0M19.9 19.1h0M22.8 9.0h0M53.6 3.8h0M0.4 6.7h0M26.4 46.5h0M51.6 17.9h0M26.6 12.3h0"/><path stroke="#882222" stroke-width="1.30" d="M1.3 18.2h0M41.2 3.1h0M6.1 35.3h0M30.6 5.4h0M12.6 17.8h0M50.3 20.2h0"/><path stroke="#882222" stroke-width="1.70" d="M2.0 7.9h0M27.6 14.1h0M8.5 4.6h0M36.3 52.9h0M15.9 12.2h0M5.8 32.9h0M5.4 43.3h0M0.4 14.0h0"/></g><g id="csx2" fill="none" stroke-linecap="round"><path stroke="#c02828" stroke-width="1.40" d="M31.4 21.3h0M33.5 34.1h0M49.1 53.9h0M26.7 21.5h0M15.0 48.6h0M9.2 43.2h0M7.9 50.4h0M48.1 12.1h0M53.1 29.6h0M34.5 7.4h0M51.0 6.8h0M29.7 39.4h0M12.3 37.9h0M38.2 45.9h0M46.0 49.8h0M49.2 41.6h0M7.0 21.0h0M48.5 24.1h0M29.7 12.9h0M53.0 44.1h0M2.7 2.8h0M22.4 12.9h0M52.0 22.6h0M44.5 28.1h0M12.2 7.9h0M47.6 13.5h0M27.2 45.8h0M19.0 44.5h0M8.0 47.5h0M35.6 47.7h0M18.8 33.1h0M37.3 3.7h0M14.6 42.6h0M35.5 12.4h0M29.3 34.1h0M40.9 49.5h0M30.2 48.9h0M26.8 42.8h0M53.3 22.2h0M3.2 51.2h0M44.5 36.6h0M19.5 47.7h0M47.2 38.0h0M20.6 46.1h0"/><path stroke="#c02828" stroke-width="1.80" d="M17.9 35.0h0M8.0 8.9h0M16.9 45.6h0M12.6 13.7h0M42.1 21.2h0M45.6 44.4h0M21.4 7.0h0M37.1 47.2h0M30.1 46.0h0M17.3 18.5h0M10.7 35.1h0M20.6 35.7h0M24.9 16.7h0M16.8 5.7h0M48.7 17.1h0M18.6 21.7h0M40.7 34.7h0M31.3 33.9h0M28.0 5.9h0M26.5 30.1h0M19.5 17.0h0M24.0 4.0h0M15.7 13.3h0M15.3 27.3h0M34.2 30.0h0M26.8 52.2h0M43.1 27.4h0M39.8 6.3h0M29.9 17.9h0M32.3 37.1h0M50.1 33.0h0M5.3 34.6h0M28.5 53.7h0M4.7 44.2h0M6.7 47.9h0M53.1 0.3h0M16.3 11.7h0M11.8 51.7h0M45.5 7.4h0M47.6 21.5h0M45.1 21.7h0M2.9 53.7h0M47.1 8.1h0M11.7 42.9h0M14.0 47.7h0M10.6 50.3h0M42.6 10.6h0M31.2 35.7h0M14.7 2.3h0M14.7 6.0h0M31.2 6.7h0M13.6 4.3h0M15.6 34.9h0M34.8 35.0h0M1.1 48.8h0M50.7 41.0h0M36.4 34.3h0M7.6 10.5h0M19.9 40.5h0"/><path stroke="#e03a3a" stroke-width="1.40" d="M43.7 13.4h0M11.6 9.1h0M4.7 11.1h0M37.6 22.5h0M27.7 48.9h0M7.8 7.0h0M52.8 45.9h0M19.8 4.9h0M19.6 24.7h0M8.3 25.3h0M52.9 13.9h0M39.8 1.6h0M5.6 40.9h0M25.6 49.6h0M19.1 6.6h0M39.8 10.2h0M28.3 35.7h0M32.9 27.8h0M13.4 29.7h0M51.6 4.3h0M38.0 24.0h0M3.3 46.7h0M45.7 28.8h0M26.8 7.1h0M34.1 24.9h0M12.2 32.3h0M32.1 49.3h0M4.7 23.1h0M8.3 1.8h0M43.9 20.7h0M18.1 39.0h0M49.2 26.9h0M50.1 29.9h0M12.9 25.9h0M30.4 16.6h0M1.0 15.0h0M37.3 38.2h0M41.8 2.6h0"/><path stroke="#e03a3a" stroke-width="1.80" d="M48.1 6.7h0M43.3 29.8h0M28.0 28.4h0M31.2 1.8h0M21.4 29.9h0M44.7 51.4h0M50.8 31.3h0M5.1 12.4h0M29.6 35.7h0M32.7 23.4h0M1.4 32.8h0M14.4 8.7h0M40.5 3.1h0M47.7 28.0h0M35.4 20.7h0M4.4 2.1h0M5.9 37.8h0M0.8 27.6h0M28.7 27.2h0M46.3 30.4h0M8.4 53.9h0M48.6 1.0h0M12.6 39.3h0M51.5 35.5h0M38.7 29.5h0M43.3 25.0h0M47.9 40.2h0M36.5 42.7h0M19.1 50.2h0M6.0 46.3h0M10.3 48.1h0M10.6 29.4h0M23.6 46.7h0M51.8 50.9h0M10.3 11.9h0M4.9 7.2h0M14.0 7.2h0M51.7 8.2h0M37.0 0.7h0M21.6 21.6h0M7.9 48.8h0M18.2 37.7h0M1.5 53.8h0M2.3 42.0h0M20.7 12.7h0M45.1 38.4h0"/><path stroke="#a01c1c" stroke-width="1.40" d="M43.7 33.2h0M9.8 4.9h0M13.0 10.9h0M47.4 2.3h0M17.5 17.1h0M15.5 32.8h0M23.6 48.3h0M35.3 44.2h0M26.8 50.0h0M10.9 16.1h0M47.2 5.5h0M29.7 19.7h0M2.7 27.1h0M5.7 14.0h0M13.9 32.3h0M49.6 35.7h0M22.7 44.1h0M15.1 15.3h0M8.2 28.1h0M41.7 53.0h0M6.4 8.6h0M4.3 19.5h0M2.3 30.3h0M5.3 33.0h0M39.5 8.3h0M34.7 14.6h0M10.6 7.6h0M33.2 50.3h0M20.2 38.8h0M23.6 26.8h0M22.5 42.5h0M30.7 50.4h0M6.8 51.8h0M20.4 28.2h0M30.8 25.5h0M11.0 27.7h0M29.1 51.8h0M6.4 2.1h0M35.3 5.5h0"/><path stroke="#a01c1c" stroke-width="1.80" d="M45.2 2.5h0M29.5 29.1h0M19.3 42.1h0M23.1 52.6h0M13.4 44.6h0M22.6 40.2h0M52.7 6.6h0M15.5 9.9h0M44.4 49.3h0M12.4 27.7h0M32.3 41.7h0M19.0 35.8h0M20.7 19.3h0M7.8 32.8h0M25.4 9.2h0M37.7 26.0h0M9.9 9.9h0M41.6 43.4h0M41.2 36.3h0M29.1 15.9h0M30.1 27.3h0M35.4 17.7h0M9.4 6.9h0M33.3 4.7h0M4.5 5.6h0M41.0 29.2h0M0.9 5.8h0M41.3 41.4h0M7.5 0.3h0M39.7 33.3h0M38.2 13.7h0M38.6 15.6h0M44.1 18.7h0M36.7 9.4h0M17.9 12.2h0M18.2 11.0h0M14.0 12.6h0"/></g><g id="mg1" fill="none" stroke-linecap="round"><path stroke="#2a80b0" stroke-width="1.40" d="M8.1 38.7h0M14.5 13.1h0M38.7 49.3h0M30.8 52.4h0M11.9 45.7h0M25.1 34.1h0M46.2 29.8h0M42.1 22.9h0M12.4 33.1h0M52.0 33.3h0M20.2 32.1h0M18.6 20.5h0M9.6 29.0h0M19.6 1.3h0M6.8 34.2h0M22.2 45.7h0M52.2 44.5h0M21.4 21.8h0M3.2 44.3h0M17.5 52.0h0M12.4 49.4h0"/><path stroke="#2a80b0" stroke-width="1.80" d="M37.9 0.8h0M16.9 47.1h0M9.8 42.9h0M48.0 24.3h0M24.4 15.0h0M10.6 8.8h0M32.9 38.6h0M35.7 34.9h0M9.7 7.2h0M37.8 2.4h0M33.0 43.5h0M42.2 46.6h0M42.0 7.4h0M13.8 32.0h0M46.1 44.4h0M51.7 50.2h0M29.2 12.0h0M3.0 14.9h0M9.4 14.9h0M47.8 44.1h0M20.7 15.8h0M39.2 28.2h0M46.4 12.2h0M31.0 25.3h0"/><path stroke="#3898c0" stroke-width="1.40" d="M4.1 10.7h0M17.7 34.6h0M15.2 44.7h0M18.2 50.7h0M42.8 5.5h0M44.9 49.6h0M38.5 33.6h0M35.0 6.2h0M6.0 15.8h0M51.6 53.1h0M39.7 10.0h0M38.2 6.8h0M1.2 19.9h0M25.3 47.0h0M47.0 53.1h0M19.3 50.2h0M46.0 0.9h0M42.3 44.0h0M21.9 23.1h0M43.2 50.3h0M10.5 13.4h0M18.4 46.1h0M23.5 34.5h0M7.5 21.1h0M15.3 29.2h0M13.5 5.4h0M38.6 31.0h0M18.4 53.3h0M36.0 25.7h0M23.6 4.4h0M34.7 9.8h0"/><path stroke="#3898c0" stroke-width="1.80" d="M8.0 40.5h0M4.4 42.5h0M22.0 49.9h0M51.4 15.1h0M11.6 43.5h0M52.8 40.3h0M32.5 11.5h0M38.9 37.9h0M22.7 51.3h0M14.6 2.4h0M31.8 17.6h0M36.8 50.7h0M51.9 30.1h0M14.5 42.0h0M30.3 49.2h0M22.1 14.3h0M27.3 32.9h0M33.0 35.6h0M24.2 13.2h0M27.8 27.6h0M32.7 14.8h0M45.2 48.3h0"/><path stroke="#2c68a8" stroke-width="1.40" d="M43.2 13.1h0M36.4 39.8h0M23.5 24.8h0M12.9 39.2h0M50.8 2.6h0M7.6 24.1h0M0.7 17.6h0M32.5 0.6h0M18.1 26.3h0M46.1 15.6h0M25.9 51.1h0M30.9 42.1h0M15.1 46.3h0M2.4 42.7h0M46.6 35.3h0M44.0 38.7h0M53.1 27.1h0M23.4 48.4h0M31.3 26.8h0M46.5 7.7h0M52.7 49.0h0M53.5 29.1h0"/><path stroke="#2c68a8" stroke-width="1.80" d="M39.2 19.8h0M6.6 38.3h0M31.7 36.1h0M20.0 42.9h0M2.8 28.8h0M37.5 17.5h0M11.2 48.4h0M19.3 14.8h0M16.6 40.0h0M52.4 35.0h0M23.9 7.6h0M14.8 5.0h0M49.8 28.0h0M1.9 46.1h0M4.3 45.4h0M28.1 5.1h0M14.2 3.7h0M14.5 15.2h0M44.6 46.0h0"/><path stroke="#2c4ca0" stroke-width="1.40" d="M32.5 53.8h0M18.1 2.0h0M29.8 39.6h0M26.3 43.4h0M15.6 31.5h0M52.6 51.8h0M8.2 34.0h0M13.5 1.2h0M20.0 47.6h0M33.8 40.7h0M4.4 23.6h0M25.7 19.2h0M41.5 48.6h0M19.7 34.5h0M16.8 45.8h0M41.3 42.3h0M1.6 52.9h0M30.7 0.3h0M22.1 26.0h0M31.3 20.9h0M17.8 8.1h0M40.2 49.6h0"/><path stroke="#2c4ca0" stroke-width="1.80" d="M31.3 10.8h0M42.1 31.6h0M12.1 38.1h0M31.0 14.2h0M9.3 35.9h0M34.5 26.9h0M5.4 9.6h0M41.5 10.2h0M15.8 27.3h0M12.6 52.6h0M26.8 3.2h0M12.8 3.6h0M49.1 34.5h0M23.6 32.2h0M37.6 8.7h0M15.6 19.1h0M35.8 27.3h0M19.9 17.6h0M1.9 0.5h0"/><path stroke="#44a8c8" stroke-width="1.40" d="M8.5 2.2h0M6.7 18.7h0M49.5 3.4h0M48.6 31.3h0M1.4 26.6h0M8.5 18.7h0M28.0 6.7h0M33.9 24.3h0M1.2 15.5h0M36.4 5.7h0M20.4 25.6h0M24.2 10.6h0M26.1 12.4h0M37.0 53.0h0M32.1 2.1h0M44.5 28.2h0M16.2 33.4h0M8.4 7.3h0M42.1 35.8h0"/><path stroke="#44a8c8" stroke-width="1.80" d="M49.6 25.4h0M18.3 3.9h0M2.5 3.0h0M14.7 52.5h0M44.3 20.9h0M26.3 14.3h0M37.7 24.3h0M53.7 6.1h0M5.3 50.7h0M27.3 40.1h0M1.7 31.8h0M50.3 45.7h0M7.1 17.0h0M8.6 16.9h0"/><path stroke="#2a78a0" stroke-width="1.40" d="M11.8 12.2h0M35.8 47.8h0M12.3 28.6h0M39.9 31.7h0M30.0 29.5h0M32.0 6.9h0M47.8 10.1h0M11.4 26.7h0M29.4 42.5h0M38.6 44.1h0M48.2 22.1h0M18.3 0.7h0M46.3 50.1h0M16.6 53.2h0M47.9 33.1h0M14.0 51.0h0M45.3 19.2h0M20.4 12.5h0M10.9 28.0h0"/><path stroke="#2a78a0" stroke-width="1.80" d="M35.6 30.0h0M41.6 25.3h0M27.9 38.8h0M49.4 40.9h0M48.0 7.2h0M45.8 38.7h0M22.5 27.7h0M51.5 25.2h0M40.4 37.3h0M38.3 15.3h0M3.3 49.6h0M25.9 37.5h0M26.6 52.2h0M21.0 19.3h0M44.7 16.7h0M24.1 28.3h0M27.9 43.4h0M21.7 0.3h0M42.8 21.8h0M6.1 30.8h0M9.9 31.4h0M40.0 18.6h0M53.1 53.1h0M36.1 23.2h0M53.1 24.3h0"/><path stroke="#3490b8" stroke-width="1.40" d="M11.4 23.4h0M36.0 0.7h0M50.3 13.8h0M28.6 53.4h0M29.2 47.9h0M43.8 45.0h0M13.9 30.7h0M13.2 16.1h0M52.0 3.9h0M50.1 6.3h0M15.4 43.3h0M23.8 46.4h0M53.4 20.0h0M29.1 31.9h0M45.6 23.4h0M10.8 46.4h0M32.7 9.8h0M23.8 39.6h0M3.3 27.4h0M19.2 23.1h0M9.8 37.6h0M10.4 25.4h0M1.1 1.6h0M49.0 0.5h0M35.5 53.5h0"/><path stroke="#3490b8" stroke-width="1.80" d="M7.7 51.8h0M27.6 12.5h0M42.6 9.5h0M38.6 11.1h0M18.0 9.5h0M43.2 3.6h0M53.3 31.5h0M20.3 29.5h0M21.3 17.5h0M44.6 53.1h0M27.1 29.5h0M41.9 28.8h0M28.8 26.6h0M5.3 43.5h0M36.8 13.5h0M17.7 12.5h0M31.3 31.1h0M7.5 28.1h0M12.9 7.1h0M9.0 45.3h0M20.8 37.5h0M2.2 18.1h0M35.1 51.8h0M6.5 43.1h0M14.8 16.7h0M47.1 51.6h0M5.8 20.5h0M15.6 14.3h0M8.0 31.0h0"/><path stroke="#802424" stroke-width="1.40" d="M5.7 41.3h0M28.6 30.6h0M44.4 6.7h0M12.6 48.0h0M49.7 11.6h0M1.8 10.2h0M30.6 37.1h0M4.5 24.9h0M25.5 31.0h0M11.3 40.4h0M38.7 50.7h0M36.5 7.9h0M9.1 53.6h0M36.1 17.1h0M34.1 44.7h0"/><path stroke="#802424" stroke-width="1.80" d="M50.8 47.4h0M39.8 23.9h0M6.1 23.7h0M47.1 4.7h0M36.0 46.1h0M46.7 46.1h0M12.7 22.2h0M41.3 2.2h0M40.5 33.4h0M17.2 28.8h0M40.4 45.8h0M19.6 27.2h0M20.3 49.2h0M47.3 39.4h0M4.3 39.8h0M16.5 50.2h0M30.1 5.2h0M37.0 35.6h0M10.7 15.7h0M51.7 43.3h0M15.3 48.3h0"/><path stroke="#2a58a0" stroke-width="1.40" d="M28.9 18.9h0M3.6 37.5h0M7.5 3.5h0M36.8 15.6h0M25.1 3.4h0M23.7 49.8h0M32.8 8.4h0M21.5 39.4h0M38.4 3.8h0M46.6 47.9h0M49.0 19.3h0M30.4 16.2h0M8.0 43.7h0M9.4 10.6h0M35.5 20.5h0M18.2 49.2h0M32.7 21.1h0M32.5 4.6h0M27.6 36.6h0M6.7 8.5h0M39.5 52.1h0"/><path stroke="#2a58a0" stroke-width="1.80" d="M47.7 1.0h0M34.4 37.5h0M52.4 8.8h0M28.1 9.0h0M15.4 40.6h0M15.3 36.1h0M22.1 30.5h0M3.6 20.5h0M15.5 9.3h0M10.9 0.7h0M33.8 30.1h0M40.5 22.2h0M49.0 39.1h0M4.6 4.4h0M10.2 5.5h0"/><path stroke="#3ca0c0" stroke-width="1.40" d="M7.2 6.2h0M5.2 35.9h0M40.8 28.1h0M27.0 16.7h0M51.7 28.1h0M22.2 29.1h0M41.0 52.9h0M5.5 26.2h0M34.4 48.2h0M40.2 1.1h0M14.7 6.5h0M41.8 51.2h0M7.9 42.0h0M41.0 8.8h0M46.1 9.7h0M1.4 30.2h0M21.1 52.6h0M35.3 24.4h0M13.1 13.8h0M40.7 39.8h0"/><path stroke="#3ca0c0" stroke-width="1.80" d="M25.7 27.1h0M45.7 3.3h0M22.5 36.9h0M43.4 37.1h0M33.3 18.6h0M9.7 51.9h0M46.5 27.7h0M27.1 53.5h0M42.8 48.8h0M14.0 34.6h0M20.1 41.1h0M20.4 10.5h0M22.9 10.1h0M52.0 21.4h0M50.8 35.6h0M19.4 38.3h0M7.8 10.8h0M17.3 41.5h0M21.6 43.0h0M38.9 16.5h0"/><path stroke="#3488b8" stroke-width="1.40" d="M43.5 42.9h0M33.7 33.8h0M11.2 10.7h0M37.3 32.0h0M3.8 12.2h0M8.0 0.8h0M37.3 21.9h0M37.0 49.0h0M52.2 36.8h0M24.6 17.8h0M40.3 7.3h0M45.1 32.8h0M35.5 33.6h0M51.5 7.3h0M5.5 34.4h0M0.4 39.1h0M39.2 8.6h0"/><path stroke="#3488b8" stroke-width="1.80" d="M3.8 8.4h0M14.7 38.5h0M31.3 19.2h0M26.2 8.4h0M43.0 30.5h0M3.4 34.3h0M45.6 42.8h0M14.3 10.5h0M22.0 47.7h0M0.5 3.6h0M15.5 7.9h0M25.7 22.2h0M2.8 40.2h0M28.9 16.8h0M48.9 8.5h0M44.8 12.1h0M18.0 37.7h0"/></g><g id="mg2" fill="none" stroke-linecap="round"><path stroke="#38b0c0" stroke-width="1.62" d="M25.4 0.7h0M40.6 51.9h0M1.6 9.7h0M21.7 36.8h0M47.3 30.3h0M15.7 45.5h0M38.1 38.9h0M1.4 7.2h0M27.1 4.4h0M44.9 8.7h0M49.1 27.2h0M3.7 43.6h0M50.0 6.3h0M50.4 21.0h0M24.5 52.7h0M12.6 1.2h0M2.3 34.3h0M26.3 16.7h0M52.8 17.9h0M0.5 51.4h0M8.0 25.5h0M32.3 47.5h0M32.7 19.8h0M0.9 33.4h0M17.4 3.9h0M12.6 24.9h0M43.2 29.3h0M44.8 49.4h0M43.6 32.2h0M45.8 32.7h0"/><path stroke="#38b0c0" stroke-width="2.07" d="M36.0 48.1h0M25.0 45.6h0M44.6 6.4h0M10.2 20.9h0M35.1 34.1h0M53.6 13.8h0M30.8 33.5h0M41.1 35.3h0M5.4 23.4h0M23.8 20.7h0M43.1 44.7h0M38.5 25.9h0M36.6 10.9h0M52.8 53.7h0M14.1 11.4h0M2.7 16.3h0M23.4 22.0h0M6.9 10.8h0M17.2 23.1h0M12.0 15.8h0M43.3 23.6h0M11.6 38.2h0M30.2 14.6h0M7.6 22.1h0M45.9 54.0h0M46.3 13.0h0M43.8 1.7h0M26.6 51.0h0M10.0 41.4h0M21.0 11.7h0M13.0 39.0h0M33.1 46.5h0"/><path stroke="#b0b8c4" stroke-width="1.62" d="M38.3 33.0h0M47.4 21.0h0M24.4 32.7h0M30.0 50.0h0M13.4 31.8h0M5.3 35.0h0M52.2 22.0h0M26.5 35.8h0M6.0 49.9h0M53.3 15.3h0M27.5 32.8h0M21.0 0.8h0M31.3 30.1h0M3.5 9.6h0M24.0 44.4h0M46.8 15.0h0M27.1 38.7h0M6.7 27.4h0M34.0 49.7h0M39.8 12.9h0M36.0 36.4h0M25.8 53.2h0M45.2 47.0h0M40.5 4.7h0M14.8 35.0h0M4.1 30.1h0M12.8 29.7h0M41.5 32.8h0M16.3 13.4h0M28.1 26.1h0M27.1 44.5h0M21.8 4.7h0M37.9 18.0h0"/><path stroke="#b0b8c4" stroke-width="2.07" d="M34.4 25.6h0M29.9 4.6h0M5.9 40.7h0M53.3 48.7h0M10.8 13.3h0M10.5 26.2h0M47.8 33.7h0M14.9 42.0h0M31.4 53.3h0M35.8 18.7h0M41.8 31.4h0M52.7 43.6h0M28.3 28.4h0M30.9 21.0h0M18.5 37.5h0M50.7 9.5h0M33.7 38.2h0M14.1 37.0h0M2.5 1.7h0M11.2 45.8h0M28.3 11.0h0"/><path stroke="#c03030" stroke-width="1.62" d="M36.9 50.9h0M9.7 52.9h0M47.5 7.5h0M46.1 48.3h0M17.6 52.5h0M17.9 40.2h0M40.2 24.0h0M6.2 0.4h0M11.7 28.5h0M1.9 19.9h0M51.7 38.7h0M41.7 23.3h0M12.4 52.5h0M49.8 7.8h0M16.8 19.5h0M45.0 35.9h0M1.5 13.4h0M5.7 32.0h0M19.3 42.1h0M47.3 0.5h0M33.9 43.8h0M36.9 14.8h0M14.1 45.9h0M7.3 44.3h0"/><path stroke="#c03030" stroke-width="2.07" d="M12.0 35.2h0M49.5 38.2h0M37.1 52.9h0M51.3 18.2h0M31.8 46.0h0M20.3 7.0h0M49.1 5.4h0M39.0 4.6h0M49.4 43.6h0M24.1 15.4h0M51.2 16.2h0M14.8 6.7h0M15.5 51.5h0M1.1 36.4h0M33.7 5.6h0M9.9 32.3h0M8.7 35.4h0M9.6 39.9h0M3.3 52.5h0M5.6 48.3h0M46.2 11.6h0M17.9 8.6h0M31.3 18.1h0M15.7 11.1h0M21.6 16.3h0M37.2 28.9h0M22.3 29.2h0M4.3 1.0h0M32.5 43.2h0M8.0 8.9h0M44.4 39.2h0M41.9 3.2h0"/><path stroke="#d03a3a" stroke-width="1.62" d="M8.2 33.4h0M12.6 4.6h0M7.5 49.5h0M0.8 31.6h0M11.3 8.5h0M39.7 50.4h0M2.4 27.2h0M8.5 44.9h0M44.6 17.3h0M45.4 25.2h0M34.2 22.5h0M48.3 49.1h0M21.7 9.5h0M30.1 53.4h0M19.6 38.9h0M35.8 41.0h0M18.5 7.3h0M8.6 38.8h0M13.7 52.9h0M40.6 53.6h0M29.5 37.3h0M13.3 10.2h0M37.2 31.8h0M25.3 27.7h0M14.0 24.2h0M35.0 5.7h0"/><path stroke="#d03a3a" stroke-width="2.07" d="M25.1 43.7h0M3.2 37.3h0M3.3 25.7h0M12.6 17.6h0M40.0 44.1h0M23.8 49.9h0M19.9 46.4h0M33.0 32.7h0M6.8 5.8h0M45.3 41.1h0M50.8 41.5h0M9.2 24.4h0M53.0 32.7h0M36.6 23.0h0M41.0 40.6h0M18.0 47.1h0M27.9 21.5h0M53.6 38.3h0M2.6 42.4h0M18.0 15.3h0M18.8 4.3h0M51.8 44.9h0M39.9 28.2h0M19.1 35.2h0M12.3 13.7h0M52.2 31.2h0"/><path stroke="#40b0c0" stroke-width="1.62" d="M47.3 39.9h0M27.5 40.5h0M22.4 13.4h0M50.6 11.7h0M53.3 39.8h0M35.4 52.8h0M43.2 42.1h0M8.1 51.1h0M36.8 38.4h0M52.4 5.4h0M30.8 10.4h0M15.2 20.9h0M36.4 17.1h0M3.9 19.1h0M32.7 23.4h0M48.5 53.0h0M49.5 14.3h0M30.4 35.2h0M43.5 0.3h0M0.7 52.9h0M28.5 31.4h0M39.8 2.2h0M49.5 28.6h0M25.1 9.2h0M5.3 4.2h0M41.0 43.1h0M37.9 13.1h0M32.3 38.0h0M8.1 32.0h0M48.2 9.6h0M22.5 23.7h0M10.9 36.1h0M26.1 2.4h0M35.0 32.1h0M42.9 46.8h0"/><path stroke="#40b0c0" stroke-width="2.07" d="M25.5 15.0h0M22.6 53.3h0M41.9 26.0h0M9.3 49.0h0M33.9 11.1h0M17.7 25.0h0M21.5 54.1h0M4.7 51.6h0M9.4 9.4h0M44.9 23.0h0M34.3 41.3h0M43.4 53.8h0M47.6 16.6h0M39.6 40.4h0M31.4 31.9h0M1.4 16.8h0M50.9 24.3h0M49.7 31.4h0M16.1 53.1h0M41.9 48.5h0M31.0 44.7h0"/><path stroke="#a02626" stroke-width="1.62" d="M23.9 27.3h0M39.1 46.9h0M39.7 16.1h0M40.4 18.3h0M42.9 30.6h0M47.3 43.9h0M41.6 28.5h0M13.7 14.8h0M53.6 20.6h0M0.6 41.4h0M4.1 41.3h0M24.1 12.9h0M29.7 19.9h0M11.9 19.2h0M23.5 0.8h0M35.4 24.3h0M32.5 7.1h0M25.5 10.6h0M15.2 28.1h0M36.0 0.4h0M25.3 25.8h0M5.7 20.7h0M38.3 22.8h0M53.5 12.4h0M47.9 35.6h0M20.9 26.5h0M15.7 37.0h0"/><path stroke="#a02626" stroke-width="2.07" d="M12.4 7.2h0M5.2 18.2h0M36.8 21.3h0M9.5 4.2h0M22.6 17.4h0M49.2 45.8h0M44.3 27.7h0M32.1 8.9h0M27.8 9.8h0M25.9 32.7h0M52.0 51.1h0M38.9 36.4h0M18.8 1.3h0M5.0 16.2h0M44.2 10.2h0M6.9 16.5h0M11.1 4.2h0M36.0 27.6h0M15.1 2.1h0M48.2 50.5h0M17.3 33.8h0M12.7 11.8h0M28.2 48.8h0M49.3 23.8h0M23.8 40.2h0M17.5 20.6h0M33.7 14.7h0M53.6 45.2h0M45.0 12.2h0M33.4 34.9h0M20.4 52.5h0M9.1 14.6h0"/><path stroke="#2a80a8" stroke-width="1.62" d="M34.0 36.4h0M23.4 30.3h0M10.4 51.4h0M47.3 51.7h0M13.1 26.3h0M21.2 24.0h0M0.8 29.2h0M25.0 24.5h0M39.1 31.3h0M41.7 19.4h0M34.1 18.9h0M43.0 11.0h0M41.8 38.1h0M27.9 51.3h0M48.3 18.0h0M49.1 34.6h0M8.2 3.7h0M4.0 23.5h0M9.1 27.3h0M46.4 4.6h0M37.1 25.2h0M22.5 20.0h0M42.8 6.3h0M21.1 40.0h0M20.8 47.3h0M0.3 27.3h0M21.1 42.6h0M13.8 18.4h0"/><path stroke="#2a80a8" stroke-width="2.07" d="M28.8 52.7h0M45.0 52.4h0M1.3 24.6h0M20.6 44.0h0M18.8 33.6h0M20.0 15.9h0M43.4 13.4h0M18.3 29.8h0M7.1 42.3h0M21.0 21.5h0M6.3 15.1h0M27.2 46.3h0M1.8 47.1h0M36.9 8.1h0M14.5 43.5h0M15.6 30.1h0M3.1 49.2h0M52.6 36.7h0M40.1 38.9h0M9.3 28.8h0M19.8 49.2h0M39.2 6.6h0M34.1 29.4h0M22.0 3.3h0M51.3 46.6h0M38.9 20.2h0M4.6 37.8h0M40.1 48.3h0M5.7 52.9h0M3.5 33.1h0M23.0 37.8h0"/><path stroke="#3090b0" stroke-width="1.62" d="M39.0 10.6h0M48.2 13.3h0M22.5 43.0h0M44.1 45.7h0M12.6 23.1h0M12.0 44.5h0M45.3 44.0h0M30.2 41.2h0M41.0 45.4h0M31.9 1.9h0M42.0 21.3h0M15.4 23.8h0M24.4 7.3h0M37.2 2.2h0M51.7 33.9h0M15.0 25.1h0M48.5 40.8h0M4.6 11.0h0M2.7 30.8h0M41.8 9.8h0M0.3 16.1h0M40.1 21.1h0M35.8 12.3h0"/><path stroke="#3090b0" stroke-width="2.07" d="M28.6 33.6h0M24.2 34.0h0M32.4 49.5h0M21.6 50.7h0M45.0 15.0h0M51.2 3.9h0M47.2 38.0h0M25.5 19.6h0M15.4 4.9h0M8.6 1.1h0M37.2 46.8h0M26.0 40.4h0M41.1 50.3h0M26.5 42.4h0M46.5 34.8h0M1.5 43.5h0M37.3 27.1h0M18.4 10.4h0M45.0 19.8h0M43.0 33.6h0M23.5 19.0h0M53.0 25.3h0M18.9 12.0h0M20.3 35.8h0M2.0 53.3h0M45.4 31.0h0M16.5 2.1h0"/><path stroke="#b82c2c" stroke-width="1.62" d="M33.3 30.8h0M8.3 6.7h0M26.3 37.6h0M28.2 18.2h0M42.2 4.8h0M8.8 19.9h0M52.6 9.4h0M35.4 9.6h0M52.0 2.6h0M41.7 12.2h0M32.6 12.4h0M29.3 21.8h0M51.5 48.6h0M3.1 20.6h0M47.2 46.9h0M11.8 2.4h0M15.1 12.7h0M16.1 8.6h0M28.6 15.7h0M33.8 3.0h0M27.1 13.3h0M3.0 4.3h0M0.8 22.2h0M21.3 38.7h0"/><path stroke="#b82c2c" stroke-width="2.07" d="M28.6 8.1h0M27.4 30.2h0M36.6 44.5h0M10.7 11.1h0M24.3 38.6h0M47.1 23.7h0M47.1 27.6h0M46.6 8.7h0M30.1 3.1h0M45.7 9.8h0M6.4 25.2h0M47.5 19.7h0M28.5 6.6h0M44.2 3.7h0M18.7 45.3h0M3.8 45.7h0M43.0 40.3h0M51.9 12.8h0M20.3 31.4h0M32.1 16.4h0M25.6 46.9h0M51.5 27.2h0M6.8 13.9h0M24.0 5.7h0M22.0 41.5h0M37.6 9.6h0M48.7 21.8h0M45.9 38.8h0M39.2 17.5h0M10.0 2.9h0"/></g><g id="mh1" fill="none" stroke-linecap="round"><path stroke="#40a0c8" stroke-width="1.62" d="M39.5 11.9h0M18.0 34.3h0M52.6 51.1h0M24.5 38.5h0M34.3 38.5h0M20.0 34.2h0M27.1 9.9h0M53.6 43.5h0M46.2 27.5h0M21.7 44.1h0M5.9 29.8h0M5.5 45.5h0M22.7 5.3h0M21.0 47.8h0M7.4 49.2h0M19.9 37.0h0M8.1 47.8h0M44.1 21.3h0M7.8 9.3h0M34.2 15.4h0M44.4 26.6h0M42.8 12.3h0M32.4 46.5h0M52.2 15.4h0M33.2 49.8h0M9.4 13.8h0M30.7 38.3h0M52.9 40.0h0M51.3 13.7h0M25.3 51.9h0M15.5 24.9h0M26.8 28.4h0M13.7 30.7h0M50.6 22.2h0M41.6 6.8h0M40.2 42.8h0M0.8 51.6h0M32.5 41.4h0M1.1 23.5h0M10.7 39.0h0M51.6 52.0h0M0.4 11.9h0M15.5 43.6h0M24.9 2.5h0M47.1 4.8h0M45.6 32.4h0M11.9 14.3h0M23.6 16.3h0M4.6 41.9h0M9.8 50.7h0M18.0 17.0h0M28.5 12.3h0M39.1 19.5h0"/><path stroke="#40a0c8" stroke-width="2.07" d="M52.6 24.8h0M22.5 42.6h0M10.0 19.9h0M46.2 42.5h0M1.8 25.1h0M5.1 53.5h0M25.2 34.7h0M27.6 14.1h0M44.7 5.9h0M24.3 45.4h0M50.3 42.2h0M17.6 31.7h0M10.3 12.0h0M49.0 36.7h0M37.4 39.5h0M34.1 7.6h0M3.9 43.8h0M31.1 17.8h0M8.0 12.4h0M5.8 48.6h0M19.9 19.1h0M35.1 25.3h0M39.2 13.2h0M51.1 30.0h0M49.4 16.6h0M32.4 28.3h0M12.9 12.1h0M46.0 6.7h0M44.0 10.1h0M13.0 7.9h0M12.9 5.5h0M39.4 2.3h0M28.3 5.4h0M27.4 52.1h0M10.5 46.6h0M15.8 38.5h0M4.7 7.8h0M2.2 30.6h0M38.4 0.4h0M5.8 32.9h0M27.8 31.9h0M52.1 28.2h0M15.3 42.0h0M43.7 52.5h0M44.3 8.8h0"/><path stroke="#58b8d0" stroke-width="1.62" d="M1.6 12.4h0M25.6 13.8h0M30.5 33.8h0M50.7 37.0h0M1.3 18.2h0M42.1 29.9h0M15.5 50.4h0M19.3 20.5h0M41.8 16.4h0M29.2 47.7h0M32.4 51.9h0M28.1 29.6h0M50.1 39.2h0M16.6 46.2h0M27.8 18.2h0M43.7 30.8h0M12.0 45.5h0M7.5 15.5h0M3.7 38.6h0M1.4 35.4h0M4.8 20.9h0M40.2 5.7h0M26.6 15.5h0M34.9 3.5h0M35.5 49.2h0M37.6 44.8h0M27.4 1.7h0M48.0 45.5h0M42.4 2.7h0M52.6 44.7h0M41.6 50.7h0M22.2 45.7h0M34.4 53.2h0M39.9 33.7h0M34.9 43.8h0M1.8 20.8h0M46.2 8.1h0M51.7 39.0h0M38.8 15.7h0M23.4 24.7h0M18.7 50.2h0M45.8 3.6h0M10.3 44.9h0M33.6 20.5h0M51.0 6.6h0M20.9 23.1h0M39.3 44.2h0M15.9 18.3h0M3.4 9.2h0M3.3 26.8h0M30.8 52.6h0M8.5 26.0h0M11.1 22.2h0M24.2 43.2h0M48.6 54.1h0M34.9 29.9h0M26.9 20.3h0M40.0 29.3h0M41.2 1.3h0"/><path stroke="#58b8d0" stroke-width="2.07" d="M31.3 51.2h0M2.0 33.4h0M1.8 47.7h0M28.1 21.8h0M14.2 0.9h0M13.4 23.6h0M44.3 40.4h0M14.4 40.3h0M39.1 25.8h0M43.1 15.1h0M32.1 1.9h0M6.9 22.0h0M32.3 19.1h0M18.7 27.6h0M19.6 4.1h0M49.3 3.8h0M19.0 12.9h0M1.2 40.8h0M47.7 31.8h0M31.6 35.2h0M40.9 32.5h0M17.6 51.9h0M4.8 6.0h0M27.0 35.6h0M44.3 12.2h0M42.2 43.8h0M25.6 8.9h0M32.6 47.9h0M46.6 50.0h0M9.6 27.9h0M11.0 8.6h0M6.2 51.6h0M11.0 5.4h0M8.1 53.4h0M22.2 36.3h0M31.9 21.2h0M35.7 12.4h0M12.5 39.6h0M35.6 36.4h0M1.8 13.7h0M4.1 1.6h0M0.4 14.0h0M10.2 41.0h0"/><path stroke="#3080b0" stroke-width="1.62" d="M7.1 28.5h0M22.7 13.9h0M41.5 38.4h0M41.2 3.1h0M14.6 6.2h0M48.1 35.7h0M11.7 16.0h0M45.1 52.3h0M8.8 38.2h0M1.5 5.2h0M16.7 34.8h0M32.7 42.9h0M4.3 51.1h0M44.9 29.3h0M41.0 14.2h0M1.3 15.9h0M9.0 43.6h0M27.8 36.7h0M50.3 18.0h0M37.8 53.5h0M21.8 18.2h0M15.6 4.1h0M33.5 36.8h0M37.5 20.5h0M3.4 11.1h0M35.8 32.4h0M38.2 49.9h0M44.9 48.7h0M38.6 47.7h0M30.5 8.8h0M3.9 29.0h0M5.2 38.8h0M51.6 12.4h0M11.4 40.5h0M19.1 33.1h0M39.9 8.6h0M12.6 17.8h0M51.0 34.8h0M53.0 30.2h0M36.0 15.9h0M41.0 48.3h0M10.6 36.4h0M22.6 11.1h0M4.9 31.9h0M47.2 30.1h0M6.0 27.7h0M17.3 22.5h0M31.5 39.8h0M53.2 1.6h0"/><path stroke="#3080b0" stroke-width="2.07" d="M49.4 5.5h0M53.5 53.4h0M44.0 24.2h0M20.9 31.4h0M7.6 42.0h0M25.8 10.8h0M15.7 33.3h0M1.5 42.9h0M45.7 25.2h0M6.6 24.4h0M49.8 35.4h0M41.0 12.7h0M47.4 24.3h0M6.4 1.8h0M3.0 40.9h0M10.8 15.1h0M26.1 3.9h0M19.0 51.5h0M8.5 4.6h0M47.5 25.9h0M26.8 8.2h0M30.8 41.1h0M25.9 42.2h0M11.4 2.6h0M3.7 13.5h0M13.0 19.7h0M15.9 13.6h0M37.1 23.3h0M48.9 43.5h0M19.7 46.9h0M28.2 33.3h0M31.8 25.4h0M28.9 51.1h0M31.9 5.2h0M13.2 50.5h0M53.6 3.8h0M3.1 21.5h0M13.6 15.7h0M49.0 15.1h0M48.0 0.8h0M32.2 31.3h0M45.9 47.3h0M15.2 23.1h0M39.5 7.1h0M37.4 7.4h0"/><path stroke="#68c8d8" stroke-width="1.62" d="M32.5 6.9h0M47.8 47.2h0M16.1 26.2h0M20.6 26.0h0M17.8 43.0h0M50.2 0.8h0M23.8 17.7h0M35.9 5.6h0M16.2 52.2h0M35.4 50.7h0M14.7 36.2h0M5.0 2.9h0M16.3 27.5h0M31.1 22.6h0M25.1 50.5h0M39.2 40.7h0M52.9 48.1h0M40.8 20.5h0M49.1 33.6h0M25.6 16.4h0M40.9 27.2h0M9.2 6.6h0M11.6 49.0h0M49.9 51.6h0M37.8 18.9h0M7.4 26.7h0M16.9 30.2h0M12.4 10.9h0M24.0 27.0h0M29.8 17.1h0M8.6 16.5h0M6.7 39.4h0M7.4 43.9h0M47.6 6.7h0M29.8 19.3h0M30.6 5.4h0M46.5 0.6h0M22.2 51.5h0M33.2 45.0h0M13.9 46.9h0M10.6 48.2h0M44.0 0.4h0M30.0 48.9h0M40.7 23.0h0M53.1 32.9h0M38.8 22.5h0M17.4 12.0h0M14.2 27.0h0M48.2 23.0h0"/><path stroke="#68c8d8" stroke-width="2.07" d="M22.2 39.7h0M11.8 53.4h0M34.8 47.2h0M52.7 17.0h0M46.7 15.7h0M36.7 29.7h0M18.4 18.4h0M50.2 53.8h0M53.6 37.7h0M38.4 10.1h0M48.0 2.3h0M27.5 41.9h0M2.8 45.9h0M24.2 4.5h0M1.4 36.9h0M46.0 35.8h0M53.3 7.7h0M50.5 25.1h0M36.0 8.7h0M48.4 9.8h0M27.0 23.8h0M20.3 10.7h0M18.8 24.3h0M29.4 29.3h0M1.5 50.0h0M31.6 29.5h0M39.8 46.5h0M10.5 18.1h0M6.9 37.2h0M4.5 35.5h0M0.7 29.7h0M25.3 29.2h0M16.1 40.3h0M39.3 27.7h0M9.4 52.3h0M2.5 43.6h0M22.2 28.2h0M51.6 43.0h0M31.2 47.7h0M22.2 33.3h0M18.5 36.8h0M26.7 25.9h0M43.3 17.1h0M0.4 6.7h0M14.4 20.2h0M27.8 26.7h0M28.8 38.7h0M27.8 16.2h0M26.4 46.5h0M18.9 21.9h0M50.7 10.6h0M14.8 45.9h0M31.0 42.4h0"/><path stroke="#2a70a8" stroke-width="1.62" d="M44.5 13.7h0M9.0 23.4h0M40.0 17.4h0M51.2 32.9h0M29.0 10.0h0M22.0 15.8h0M12.5 42.5h0M8.7 21.0h0M22.2 35.0h0M42.8 18.9h0M2.4 23.1h0M48.3 13.8h0M24.1 53.6h0M47.0 17.9h0M42.4 47.5h0M29.1 42.3h0M28.9 8.0h0M11.0 25.3h0M31.7 11.3h0M44.3 47.1h0M2.8 37.0h0M8.9 0.4h0M50.3 20.2h0M24.5 21.7h0M23.4 7.1h0M14.6 54.1h0"/><path stroke="#2a70a8" stroke-width="2.07" d="M4.7 12.3h0M36.9 46.0h0M24.9 36.7h0M35.2 28.0h0M44.1 38.0h0M46.7 37.3h0M29.0 24.3h0M35.1 40.3h0M50.7 8.6h0M48.8 39.7h0M18.5 52.8h0M32.2 9.2h0M25.8 39.4h0M13.9 25.2h0M27.5 49.1h0M47.1 53.8h0M26.0 44.8h0M49.2 47.2h0M21.7 26.9h0M5.6 14.9h0M14.2 4.8h0M22.8 9.0h0M21.0 2.8h0M28.0 46.5h0M13.6 53.0h0M12.3 29.9h0M5.0 37.3h0M27.3 38.5h0M36.2 43.2h0M51.8 3.5h0M6.5 18.5h0M31.0 27.5h0M7.8 29.7h0M15.4 2.5h0M2.1 6.4h0M53.2 10.6h0M16.3 6.9h0M32.9 15.8h0M33.5 33.0h0"/></g><g id="mh2" fill="none" stroke-linecap="round"><path stroke="#a0e0c0" stroke-width="1.65" d="M31.4 21.3h0M4.8 8.6h0M11.6 9.1h0M47.4 2.3h0M47.4 19.4h0M21.5 53.4h0M51.0 6.8h0M29.3 42.0h0M23.5 49.7h0M35.9 28.9h0M1.3 9.1h0M5.7 14.0h0M16.0 2.9h0M15.3 30.6h0M15.1 15.3h0M30.4 3.5h0M5.6 40.9h0M17.0 53.1h0M38.3 11.6h0M3.3 46.7h0M8.7 12.8h0M18.8 26.4h0M19.0 44.5h0M4.7 23.1h0M32.4 31.8h0M49.2 26.9h0M29.7 14.2h0M29.3 34.1h0M30.4 16.6h0M30.2 48.9h0M4.8 26.9h0M41.2 45.5h0M29.1 51.8h0M44.5 36.6h0M25.8 32.8h0M35.3 5.5h0M47.8 45.0h0M39.8 4.1h0"/><path stroke="#a0e0c0" stroke-width="2.15" d="M17.9 35.0h0M43.3 29.8h0M15.6 0.7h0M44.7 51.4h0M4.2 37.5h0M21.4 7.0h0M42.1 14.6h0M29.6 35.7h0M12.1 24.2h0M17.3 18.5h0M32.7 23.4h0M35.1 22.4h0M24.9 16.7h0M18.6 21.7h0M42.7 7.9h0M29.1 15.9h0M17.2 24.7h0M5.9 37.8h0M23.0 11.4h0M28.7 27.2h0M12.6 39.3h0M0.9 5.8h0M2.9 53.7h0M4.7 28.8h0M47.1 8.1h0M37.0 0.7h0M3.9 34.6h0M31.2 35.7h0M6.7 32.1h0M48.5 47.7h0M1.6 20.8h0M7.7 31.2h0M20.2 43.6h0M36.4 34.3h0M20.7 12.7h0M6.9 36.7h0M49.0 51.5h0"/><path stroke="#70d0a8" stroke-width="1.65" d="M25.2 29.2h0M36.9 36.6h0M44.2 4.0h0M40.1 31.2h0M36.4 50.3h0M26.8 50.0h0M37.6 22.5h0M10.9 45.9h0M26.7 27.0h0M27.7 48.9h0M13.0 33.4h0M41.6 0.4h0M39.3 53.7h0M7.0 21.0h0M5.8 42.8h0M48.5 24.1h0M29.7 12.9h0M41.7 53.0h0M24.9 53.8h0M47.9 32.4h0M15.0 11.6h0M2.7 2.8h0M31.8 19.3h0M5.3 33.0h0M45.7 28.8h0M11.9 21.2h0M30.6 37.1h0M47.5 51.9h0M18.8 33.1h0M14.8 38.2h0M8.9 15.1h0M2.9 43.5h0M30.0 44.7h0M12.9 25.9h0M1.8 18.0h0M40.9 49.5h0M41.8 2.6h0M6.4 2.1h0M6.3 7.1h0M33.9 3.2h0"/><path stroke="#70d0a8" stroke-width="2.15" d="M8.0 8.9h0M29.5 29.1h0M19.3 42.1h0M23.7 6.7h0M13.0 2.1h0M15.5 9.9h0M28.8 22.7h0M20.6 35.7h0M15.3 27.3h0M30.1 27.3h0M29.9 17.9h0M32.3 37.1h0M4.7 44.2h0M47.2 26.7h0M47.9 40.2h0M19.1 50.2h0M47.6 21.5h0M9.4 36.9h0M50.9 44.4h0M23.6 46.7h0M38.2 13.7h0M31.2 6.7h0M18.2 11.0h0M22.1 46.9h0M21.6 21.6h0M1.1 48.8h0M45.1 38.4h0"/><path stroke="#d0f0e4" stroke-width="1.65" d="M43.4 1.2h0M43.7 13.4h0M17.5 17.1h0M22.6 33.1h0M3.4 24.6h0M40.6 51.1h0M38.2 45.9h0M29.2 4.1h0M52.8 45.9h0M34.7 9.7h0M3.7 13.9h0M39.6 25.1h0M17.4 41.0h0M22.8 16.2h0M39.8 1.6h0M21.6 25.2h0M3.2 6.3h0M52.0 22.6h0M31.4 30.1h0M29.7 24.9h0M44.0 43.6h0M0.7 11.8h0M45.8 33.6h0M7.0 23.1h0M26.8 7.1h0M22.5 42.5h0M30.0 31.6h0M52.9 4.7h0M8.3 1.8h0M18.1 39.0h0M43.2 31.4h0M13.5 36.8h0M49.3 44.4h0M51.0 23.5h0M45.0 30.1h0M46.4 53.5h0M25.5 24.6h0M11.0 27.7h0M6.9 17.7h0M2.7 28.5h0M47.2 38.0h0"/><path stroke="#d0f0e4" stroke-width="2.15" d="M51.6 47.2h0M48.1 6.7h0M31.2 1.8h0M22.6 40.2h0M44.4 49.3h0M19.0 35.8h0M5.1 12.4h0M18.5 19.0h0M12.5 47.5h0M25.9 45.5h0M16.9 38.1h0M41.6 43.4h0M14.4 8.7h0M28.5 21.3h0M47.0 34.8h0M33.7 36.7h0M19.8 22.4h0M28.3 44.8h0M16.0 29.3h0M5.3 34.6h0M7.8 40.3h0M26.7 9.4h0M7.5 0.3h0M24.0 39.3h0M10.3 11.9h0M14.0 47.7h0M7.5 29.5h0M42.6 10.6h0M36.7 9.4h0M38.1 48.8h0M17.2 15.2h0M20.2 0.6h0M15.6 34.9h0M20.7 3.5h0M2.3 42.0h0M9.4 45.9h0M23.7 41.1h0M21.0 16.9h0"/><path stroke="#58b8a0" stroke-width="1.65" d="M4.7 11.1h0M26.7 21.5h0M34.5 7.4h0M11.1 19.7h0M47.2 5.5h0M39.1 16.9h0M4.8 16.8h0M6.5 4.9h0M15.1 51.9h0M18.7 8.8h0M22.7 44.1h0M45.1 54.1h0M39.8 10.2h0M34.7 14.6h0M12.2 32.3h0M32.1 49.3h0M30.7 50.4h0M43.9 20.7h0M25.3 52.0h0M35.3 32.9h0M44.0 16.6h0M30.8 25.5h0M45.9 39.5h0M36.8 12.6h0M31.5 24.2h0M44.3 11.1h0M36.5 26.9h0M10.9 38.8h0"/><path stroke="#58b8a0" stroke-width="2.15" d="M32.2 43.4h0M13.8 22.6h0M45.2 2.5h0M16.9 45.6h0M46.1 48.2h0M30.5 51.9h0M27.3 12.6h0M26.4 20.1h0M25.5 41.3h0M49.2 28.9h0M20.7 19.3h0M39.1 47.6h0M16.8 5.7h0M35.4 20.7h0M34.2 30.0h0M42.5 23.9h0M46.3 30.4h0M28.5 53.7h0M34.0 19.3h0M1.9 16.4h0M45.5 45.9h0M17.5 30.2h0M38.7 29.5h0M6.7 47.9h0M32.5 9.2h0M36.0 13.7h0M13.3 19.1h0M13.4 0.5h0M53.2 52.9h0M51.8 50.9h0M8.7 26.6h0M53.1 27.1h0M17.9 12.2h0M5.8 0.8h0M35.8 16.3h0M7.9 48.8h0M13.2 52.6h0M7.6 10.5h0"/><path stroke="#40a0b0" stroke-width="1.65" d="M19.0 53.6h0M51.6 33.6h0M15.5 32.8h0M23.6 48.3h0M41.0 24.5h0M10.9 16.1h0M29.7 19.7h0M2.7 27.1h0M46.0 49.8h0M8.1 42.5h0M52.1 42.6h0M4.3 19.5h0M13.8 28.0h0M50.5 16.2h0M22.4 12.9h0M32.9 14.8h0M32.9 27.8h0M52.8 19.2h0M27.9 1.1h0M12.2 7.9h0M34.1 24.9h0M17.3 2.0h0M23.6 26.8h0M47.6 43.4h0M35.6 47.7h0M9.7 3.0h0M23.4 31.3h0M1.0 15.0h0M2.2 47.7h0M16.7 39.9h0M24.5 5.3h0M14.3 40.4h0"/><path stroke="#40a0b0" stroke-width="2.15" d="M5.3 31.4h0M45.4 0.9h0M30.6 8.9h0M17.2 48.7h0M29.3 7.6h0M26.5 31.7h0M7.8 32.8h0M9.9 9.9h0M48.7 17.1h0M14.6 25.5h0M46.6 15.9h0M41.2 36.3h0M26.5 30.1h0M19.5 17.0h0M47.7 28.0h0M24.0 4.0h0M35.4 17.7h0M9.4 6.9h0M22.5 14.7h0M41.1 10.4h0M5.1 36.3h0M52.2 1.8h0M41.7 27.8h0M50.6 2.4h0M7.6 14.1h0M35.9 39.1h0M16.3 11.7h0M43.3 25.0h0M36.5 42.7h0M11.8 51.7h0M6.0 46.3h0M50.7 49.1h0M10.3 48.1h0M11.7 42.9h0M14.0 7.2h0M51.7 8.2h0M10.6 50.3h0M7.3 3.3h0M0.3 46.5h0M46.5 11.5h0M24.1 24.4h0M12.3 4.9h0M19.9 40.5h0M0.3 41.1h0"/><path stroke="#88d8c0" stroke-width="1.65" d="M49.1 53.9h0M10.9 26.4h0M43.7 33.2h0M13.0 10.9h0M9.2 43.2h0M48.1 12.1h0M12.3 37.9h0M10.3 14.9h0M34.4 48.4h0M19.8 4.9h0M8.1 21.7h0M33.3 46.9h0M42.9 34.6h0M49.2 41.6h0M8.3 25.3h0M40.1 18.9h0M52.9 9.4h0M42.8 39.9h0M10.2 53.3h0M42.9 46.6h0M25.6 49.6h0M19.1 6.6h0M49.8 22.5h0M15.3 47.4h0M28.3 35.7h0M50.2 5.6h0M41.5 26.2h0M51.6 4.3h0M25.1 18.8h0M38.0 24.0h0M14.4 33.7h0M33.2 50.3h0M29.9 10.9h0M37.3 3.7h0M14.6 42.6h0M46.7 4.0h0M35.5 12.4h0M42.7 12.1h0M27.5 34.4h0M18.4 28.3h0M34.2 21.5h0M2.7 49.5h0"/><path stroke="#88d8c0" stroke-width="2.15" d="M21.4 29.9h0M50.8 31.3h0M37.1 47.2h0M40.0 22.7h0M25.2 37.3h0M30.1 46.0h0M10.7 35.1h0M35.4 52.4h0M31.3 33.9h0M4.4 2.1h0M38.1 32.4h0M26.8 52.2h0M51.3 10.1h0M34.7 41.5h0M9.3 33.7h0M41.3 41.4h0M49.0 42.9h0M20.7 23.5h0M22.5 28.4h0M51.2 26.1h0M35.9 25.6h0M49.4 20.5h0M21.4 39.5h0M38.6 15.6h0M34.2 13.2h0M14.7 2.3h0M29.0 30.3h0M18.2 37.7h0M1.5 53.8h0"/><path stroke="#3a9a90" stroke-width="1.65" d="M9.9 30.9h0M28.2 2.4h0M9.8 4.9h0M15.0 48.6h0M23.1 1.9h0M7.9 50.4h0M53.1 29.6h0M29.7 39.4h0M32.3 53.3h0M45.8 41.5h0M13.9 32.3h0M19.6 24.7h0M8.2 28.1h0M52.9 13.9h0M43.2 38.4h0M1.6 45.6h0M6.4 8.6h0M39.5 8.3h0M40.9 46.8h0M47.7 30.1h0M32.3 17.2h0M10.6 7.6h0M28.0 14.8h0M47.6 13.5h0M6.2 24.5h0M6.3 27.8h0M13.0 16.7h0M27.2 45.8h0M8.0 47.5h0M3.6 7.8h0M29.5 32.8h0M50.1 29.9h0M37.3 38.2h0M53.3 22.2h0M3.2 51.2h0M37.5 28.3h0M19.5 47.7h0M26.7 25.3h0M12.0 54.0h0M20.6 46.1h0"/><path stroke="#3a9a90" stroke-width="2.15" d="M13.4 44.6h0M52.7 6.6h0M42.1 21.2h0M45.6 44.4h0M12.4 27.7h0M38.7 36.0h0M1.4 32.8h0M37.7 26.0h0M40.7 34.7h0M40.5 3.1h0M15.7 13.3h0M1.1 35.9h0M43.1 27.4h0M0.8 27.6h0M8.4 53.9h0M50.7 19.3h0M20.9 15.4h0M13.2 49.2h0M17.7 31.5h0M4.5 18.2h0M53.1 0.3h0M45.5 7.4h0M43.8 41.8h0M19.0 30.1h0M22.2 18.0h0M4.9 7.2h0M35.6 30.8h0M9.9 40.7h0M14.7 6.0h0M34.8 35.0h0M4.0 45.5h0"/></g><filter id="soft" x="-5%" y="-5%" width="110%" height="110%"><feGaussianBlur stdDeviation="0.3"/></filter></defs>
<rect width="520" height="665" fill="#fff"/>
<text x="2.2" y="7.8" font-size="10" font-weight="bold" fill="#231f20">A</text>
<text x="86.5" y="18.6" font-size="8.4" text-anchor="middle" font-weight="bold" fill="#231f20">BT869</text>
<line x1="42.4" y1="30.4" x2="42.4" y2="115.3" stroke="#4d4d4f" stroke-width="0.8"/>
<line x1="42.0" y1="115.3" x2="133" y2="115.3" stroke="#4d4d4f" stroke-width="0.8"/>
<line x1="39.4" y1="30.4" x2="42.4" y2="30.4" stroke="#4d4d4f" stroke-width="0.8"/>
<text x="36.3" y="33.3" font-size="8.2" text-anchor="end" fill="#231f20">200</text>
<line x1="39.4" y1="51.599999999999994" x2="42.4" y2="51.599999999999994" stroke="#4d4d4f" stroke-width="0.8"/>
<text x="36.3" y="54.49999999999999" font-size="8.2" text-anchor="end" fill="#231f20">150</text>
<line x1="39.4" y1="72.8" x2="42.4" y2="72.8" stroke="#4d4d4f" stroke-width="0.8"/>
<text x="36.3" y="75.7" font-size="8.2" text-anchor="end" fill="#231f20">100</text>
<line x1="39.4" y1="94.0" x2="42.4" y2="94.0" stroke="#4d4d4f" stroke-width="0.8"/>
<text x="36.3" y="96.9" font-size="8.2" text-anchor="end" fill="#231f20">50</text>
<line x1="39.4" y1="115.19999999999999" x2="42.4" y2="115.19999999999999" stroke="#4d4d4f" stroke-width="0.8"/>
<text x="36.3" y="118.1" font-size="8.2" text-anchor="end" fill="#231f20">0</text>
<text transform="translate(13.3,71.5) rotate(-90)" font-size="8.6" text-anchor="middle" fill="#231f20">MRI tumor volume (mm<tspan dy="-3" font-size="5.5">3</tspan><tspan dy="3">)</tspan></text>
<rect x="50.4" y="69.8" width="15.9" height="45.5" fill="#ef3628"/>
<rect x="66.3" y="102.8" width="16.4" height="12.5" fill="#3a55a8"/>
<rect x="95.3" y="60.0" width="15.9" height="55.3" fill="#ef3628"/>
<rect x="111.2" y="100.0" width="16.4" height="15.3" fill="#3a55a8"/>
<line x1="58.4" y1="66.6" x2="58.4" y2="73.5" stroke="#231f20" stroke-width="0.9"/>
<line x1="54.8" y1="66.6" x2="62.0" y2="66.6" stroke="#231f20" stroke-width="0.9"/>
<line x1="54.8" y1="73.5" x2="62.0" y2="73.5" stroke="#231f20" stroke-width="0.9"/>
<line x1="74.5" y1="98.5" x2="74.5" y2="107.7" stroke="#231f20" stroke-width="0.9"/>
<line x1="70.9" y1="98.5" x2="78.1" y2="98.5" stroke="#231f20" stroke-width="0.9"/>
<line x1="70.9" y1="107.7" x2="78.1" y2="107.7" stroke="#231f20" stroke-width="0.9"/>
<line x1="103.3" y1="50.7" x2="103.3" y2="68.5" stroke="#231f20" stroke-width="0.9"/>
<line x1="99.7" y1="50.7" x2="106.89999999999999" y2="50.7" stroke="#231f20" stroke-width="0.9"/>
<line x1="99.7" y1="68.5" x2="106.89999999999999" y2="68.5" stroke="#231f20" stroke-width="0.9"/>
<line x1="119.4" y1="94.5" x2="119.4" y2="105.4" stroke="#231f20" stroke-width="0.9"/>
<line x1="115.80000000000001" y1="94.5" x2="123.0" y2="94.5" stroke="#231f20" stroke-width="0.9"/>
<line x1="115.80000000000001" y1="105.4" x2="123.0" y2="105.4" stroke="#231f20" stroke-width="0.9"/>
<text x="67" y="124.4" font-size="8.2" text-anchor="middle" fill="#231f20">110</text>
<text x="111.2" y="124.4" font-size="8.2" text-anchor="middle" fill="#231f20">117</text>
<text x="88" y="134.3" font-size="8.6" text-anchor="middle" fill="#231f20">Days after injection</text>
<rect x="15.8" y="145" width="8.4" height="4.6" fill="#ef3628"/>
<rect x="15.8" y="153.9" width="8.4" height="4.6" fill="#3a55a8"/>
<text x="27.4" y="149.6" font-size="8.6" fill="#231f20"><tspan font-style="italic">AAVS1</tspan> control (<tspan font-style="italic">n</tspan> = 10)</text>
<text x="27.4" y="159.3" font-size="8.6" fill="#231f20"><tspan font-style="italic">SMARCA4</tspan> knockout (<tspan font-style="italic">n</tspan> = 10)</text>
<text x="160.4" y="8.1" font-size="10" font-weight="bold" fill="#231f20">C</text>
<text x="248.5" y="18.4" font-size="8.4" text-anchor="middle" font-weight="bold" fill="#231f20">BT869</text>
<line x1="183.4" y1="28.5" x2="183.4" y2="115.60000000000001" stroke="#3a3a3c" stroke-width="1.0"/>
<line x1="183.0" y1="115.2" x2="313.8" y2="115.2" stroke="#3a3a3c" stroke-width="1.0"/>
<text x="182.6" y="39.4" font-size="8.2" text-anchor="end" fill="#231f20">100</text>
<text x="182.6" y="78.75" font-size="8.2" text-anchor="end" fill="#231f20">50</text>
<text x="182.6" y="118.10000000000001" font-size="8.2" text-anchor="end" fill="#231f20">0</text>
<text x="184.2" y="124.6" font-size="8.2" text-anchor="middle" fill="#231f20">0</text>
<text x="210.07999999999998" y="124.6" font-size="8.2" text-anchor="middle" fill="#231f20">50</text>
<text x="235.96" y="124.6" font-size="8.2" text-anchor="middle" fill="#231f20">100</text>
<text x="261.84000000000003" y="124.6" font-size="8.2" text-anchor="middle" fill="#231f20">150</text>
<text x="287.72" y="124.6" font-size="8.2" text-anchor="middle" fill="#231f20">200</text>
<text x="313.6" y="124.6" font-size="8.2" text-anchor="middle" fill="#231f20">250</text>
<text transform="translate(163.8,72) rotate(-90)" font-size="8.6" text-anchor="middle" fill="#231f20">Probability of survival</text>
<text x="248.7" y="134.4" font-size="8.6" text-anchor="middle" fill="#231f20">Days after injection</text>
<polyline points="184.2,36.5 242.0,36.5 242.0,44.4 253.0,44.4 253.0,75.8 264.2,75.8 264.2,83.7 274.2,83.7 274.2,91.6 282.9,91.6 282.9,115.2" fill="none" stroke="#3e4680" stroke-width="0.9"/>
<polyline points="184.2,36.5 240.1,36.5 240.1,52.2 241.1,52.2 241.1,60.1 242.0,60.1 242.0,68.0 243.0,68.0 243.0,75.8 243.8,75.8 243.8,83.7 244.8,83.7 244.8,91.6 246.0,91.6 246.0,99.5 247.6,99.5 247.6,115.2" fill="none" stroke="#d45868" stroke-width="0.9"/>
<rect x="239.5" y="50.6" width="1.3" height="1.8" fill="#5a2030"/>
<rect x="240.5" y="58.5" width="1.3" height="1.8" fill="#5a2030"/>
<rect x="241.4" y="66.4" width="1.3" height="1.8" fill="#5a2030"/>
<rect x="242.4" y="74.2" width="1.3" height="1.8" fill="#5a2030"/>
<rect x="243.2" y="82.1" width="1.3" height="1.8" fill="#5a2030"/>
<rect x="244.2" y="90.0" width="1.3" height="1.8" fill="#5a2030"/>
<rect x="245.4" y="97.9" width="1.3" height="1.8" fill="#5a2030"/>
<text x="186.8" y="106.2" font-size="6.4" letter-spacing="0.7" fill="#231f20">****</text>
<text x="200.4" y="107.8" font-size="8.6" fill="#231f20"><tspan font-style="italic">P</tspan> &lt; 0.0001</text>
<line x1="180.3" y1="147.8" x2="190.7" y2="147.8" stroke="#e06870" stroke-width="0.9"/>
<path d="M184.3,147.8 L185.5,145.8 L186.7,147.8 Z" fill="#5a2a30"/>
<line x1="180.3" y1="158.5" x2="190.7" y2="158.5" stroke="#5a68a8" stroke-width="0.9"/>
<path d="M184.3,158.5 L185.5,156.5 L186.7,158.5 Z" fill="#2a3060"/>
<text x="193" y="150" font-size="8.6" fill="#231f20"><tspan font-style="italic">AAVS1</tspan> control (<tspan font-style="italic">n</tspan> = 10)</text>
<text x="193" y="159.9" font-size="8.6" fill="#231f20"><tspan font-style="italic">SMARCA4</tspan> knockout (<tspan font-style="italic">n</tspan> = 10)</text>
<text x="2.4" y="190.6" font-size="10" font-weight="bold" fill="#231f20">B</text>
<text x="96.9" y="195.2" font-size="8.6" font-weight="bold" text-anchor="middle" fill="#231f20">SU-DIPGXIIIP<tspan dy="-2.6" font-size="6">*</tspan></text>
<line x1="44.6" y1="207.8" x2="44.6" y2="246.7" stroke="#4d4d4f" stroke-width="0.8"/>
<line x1="44.6" y1="246.7" x2="46.6" y2="246.7" stroke="#4d4d4f" stroke-width="0.8"/>
<line x1="44.6" y1="254.2" x2="44.6" y2="292.3" stroke="#4d4d4f" stroke-width="0.8"/>
<line x1="44.6" y1="254.2" x2="46.6" y2="254.2" stroke="#4d4d4f" stroke-width="0.8"/>
<line x1="44.6" y1="292.3" x2="156.8" y2="292.3" stroke="#4d4d4f" stroke-width="0.8"/>
<text x="41.8" y="211.1" font-size="7.9" text-anchor="end" fill="#231f20" transform="translate(41.8 0) scale(1.1 1) translate(-41.8 0)">500,000</text>
<text x="41.8" y="219.0" font-size="7.9" text-anchor="end" fill="#231f20" transform="translate(41.8 0) scale(1.1 1) translate(-41.8 0)">400,000</text>
<text x="41.8" y="226.9" font-size="7.9" text-anchor="end" fill="#231f20" transform="translate(41.8 0) scale(1.1 1) translate(-41.8 0)">300,000</text>
<text x="41.8" y="234.9" font-size="7.9" text-anchor="end" fill="#231f20" transform="translate(41.8 0) scale(1.1 1) translate(-41.8 0)">200,000</text>
<text x="41.8" y="242.8" font-size="7.9" text-anchor="end" fill="#231f20" transform="translate(41.8 0) scale(1.1 1) translate(-41.8 0)">100,000</text>
<text x="41.8" y="257.3" font-size="7.9" text-anchor="end" fill="#231f20" transform="translate(41.8 0) scale(1.1 1) translate(-41.8 0)">10,000</text>
<text x="41.8" y="264.9" font-size="7.9" text-anchor="end" fill="#231f20" transform="translate(41.8 0) scale(1.1 1) translate(-41.8 0)">8,000</text>
<text x="41.8" y="272.4" font-size="7.9" text-anchor="end" fill="#231f20" transform="translate(41.8 0) scale(1.1 1) translate(-41.8 0)">6,000</text>
<text x="41.8" y="280.0" font-size="7.9" text-anchor="end" fill="#231f20" transform="translate(41.8 0) scale(1.1 1) translate(-41.8 0)">4,000</text>
<text x="41.8" y="287.5" font-size="7.9" text-anchor="end" fill="#231f20" transform="translate(41.8 0) scale(1.1 1) translate(-41.8 0)">2,000</text>
<text x="41.8" y="295.1" font-size="7.9" text-anchor="end" fill="#231f20" transform="translate(41.8 0) scale(1.1 1) translate(-41.8 0)">0</text>
<text x="44.6" y="302.6" font-size="8.2" text-anchor="middle" fill="#231f20">0</text>
<text x="67.2" y="302.6" font-size="8.2" text-anchor="middle" fill="#231f20">20</text>
<text x="89.8" y="302.6" font-size="8.2" text-anchor="middle" fill="#231f20">40</text>
<text x="112.4" y="302.6" font-size="8.2" text-anchor="middle" fill="#231f20">60</text>
<text x="135.0" y="302.6" font-size="8.2" text-anchor="middle" fill="#231f20">80</text>
<text x="157.6" y="302.6" font-size="8.2" text-anchor="middle" fill="#231f20">100</text>
<text transform="translate(7.2,250) rotate(-90)" font-size="8.7" text-anchor="middle" fill="#231f20">Bioluminescence (%)</text>
<text x="102" y="312.6" font-size="8.6" text-anchor="middle" fill="#231f20">Days after injection</text>
<clipPath id="bclip"><rect x="44" y="200" width="120" height="46.7"/><rect x="44" y="254.2" width="120" height="40"/></clipPath>
<g clip-path="url(#bclip)">
<polyline points="53.5,291.6 62.0,291.6 69.7,291.4 77.7,291.2 85.8,289.5 93.6,286.3 101.9,257.6 109.8,245.9 117.8,214.2" fill="none" stroke="#ee5060" stroke-width="0.6"/>
<polyline points="53.5,291.6 62.0,291.4 69.7,291.2 77.7,290.8 85.8,288.0 93.6,287.2 101.9,287.0 117.8,246.7" fill="none" stroke="#ee5060" stroke-width="0.6"/>
<polyline points="53.5,291.6 62.0,291.6 69.7,291.4 77.7,291.0 85.8,289.0 93.6,288.2 101.9,286.3 126.1,245.1" fill="none" stroke="#ee5060" stroke-width="0.6"/>
<polyline points="69.7,291.6 77.7,291.4 85.8,290.2 93.6,289.0 101.9,288.2 109.8,284.3" fill="none" stroke="#ee5060" stroke-width="0.6"/>
<polyline points="77.7,291.6 85.8,291.0 93.6,290.2 101.9,290.0" fill="none" stroke="#ee5060" stroke-width="0.6"/>
</g>
<circle cx="53.5" cy="291.6" r="1.20" fill="#c81a2c"/>
<circle cx="62.0" cy="291.6" r="1.20" fill="#c81a2c"/>
<circle cx="69.7" cy="291.4" r="1.20" fill="#c81a2c"/>
<circle cx="77.7" cy="291.2" r="1.20" fill="#c81a2c"/>
<circle cx="85.8" cy="289.5" r="1.20" fill="#c81a2c"/>
<circle cx="93.6" cy="286.3" r="1.20" fill="#c81a2c"/>
<circle cx="101.9" cy="257.6" r="1.20" fill="#c81a2c"/>
<circle cx="109.8" cy="245.9" r="1.20" fill="#c81a2c"/>
<circle cx="117.8" cy="214.2" r="1.20" fill="#c81a2c"/>
<circle cx="53.5" cy="291.6" r="1.20" fill="#c81a2c"/>
<circle cx="62.0" cy="291.4" r="1.20" fill="#c81a2c"/>
<circle cx="69.7" cy="291.2" r="1.20" fill="#c81a2c"/>
<circle cx="77.7" cy="290.8" r="1.20" fill="#c81a2c"/>
<circle cx="85.8" cy="288.0" r="1.20" fill="#c81a2c"/>
<circle cx="93.6" cy="287.2" r="1.20" fill="#c81a2c"/>
<circle cx="101.9" cy="287.0" r="1.20" fill="#c81a2c"/>
<circle cx="117.8" cy="246.7" r="1.20" fill="#c81a2c"/>
<circle cx="53.5" cy="291.6" r="1.20" fill="#c81a2c"/>
<circle cx="62.0" cy="291.6" r="1.20" fill="#c81a2c"/>
<circle cx="69.7" cy="291.4" r="1.20" fill="#c81a2c"/>
<circle cx="77.7" cy="291.0" r="1.20" fill="#c81a2c"/>
<circle cx="85.8" cy="289.0" r="1.20" fill="#c81a2c"/>
<circle cx="93.6" cy="288.2" r="1.20" fill="#c81a2c"/>
<circle cx="101.9" cy="286.3" r="1.20" fill="#c81a2c"/>
<circle cx="126.1" cy="245.1" r="1.20" fill="#c81a2c"/>
<circle cx="69.7" cy="291.6" r="1.20" fill="#c81a2c"/>
<circle cx="77.7" cy="291.4" r="1.20" fill="#c81a2c"/>
<circle cx="85.8" cy="290.2" r="1.20" fill="#c81a2c"/>
<circle cx="93.6" cy="289.0" r="1.20" fill="#c81a2c"/>
<circle cx="101.9" cy="288.2" r="1.20" fill="#c81a2c"/>
<circle cx="109.8" cy="284.3" r="1.20" fill="#c81a2c"/>
<circle cx="77.7" cy="291.6" r="1.20" fill="#c81a2c"/>
<circle cx="85.8" cy="291.0" r="1.20" fill="#c81a2c"/>
<circle cx="93.6" cy="290.2" r="1.20" fill="#c81a2c"/>
<circle cx="101.9" cy="290.0" r="1.20" fill="#c81a2c"/>
<polyline points="110.0,291.6 117.8,287.9" fill="none" stroke="#5a64b0" stroke-width="0.6"/>
<circle cx="110.0" cy="291.6" r="1.10" fill="#242c78"/>
<circle cx="117.8" cy="287.9" r="1.10" fill="#242c78"/>
<polyline points="117.8,291.6 125.6,291.5 133.8,288.3" fill="none" stroke="#5a64b0" stroke-width="0.6"/>
<circle cx="117.8" cy="291.6" r="1.10" fill="#242c78"/>
<circle cx="125.6" cy="291.5" r="1.10" fill="#242c78"/>
<circle cx="133.8" cy="288.3" r="1.10" fill="#242c78"/>
<polyline points="110.0,292.0 133.8,291.8 151.3,291.8" fill="none" stroke="#5a64b0" stroke-width="0.6"/>
<circle cx="110.0" cy="292.0" r="1.10" fill="#242c78"/>
<circle cx="133.8" cy="291.8" r="1.10" fill="#242c78"/>
<circle cx="151.3" cy="291.8" r="1.10" fill="#242c78"/>
<line x1="30.9" y1="324.8" x2="40.7" y2="324.8" stroke="#f07888" stroke-width="0.9"/>
<circle cx="35.8" cy="324.8" r="1.1" fill="#a01828"/>
<line x1="30.9" y1="334.8" x2="40.7" y2="334.8" stroke="#8088c0" stroke-width="0.9"/>
<circle cx="35.8" cy="334.8" r="1.1" fill="#202868"/>
<text x="43" y="327.8" font-size="8.6" fill="#231f20"><tspan font-style="italic">AAVS1</tspan> control (<tspan font-style="italic">n</tspan> = 8)</text>
<text x="43" y="337.8" font-size="8.6" fill="#231f20"><tspan font-style="italic">SMARCA4</tspan> knockout (<tspan font-style="italic">n</tspan> = 8)</text>
<text x="166.2" y="190.6" font-size="10" font-weight="bold" fill="#231f20">D</text>
<text x="255" y="195.2" font-size="8.6" font-weight="bold" text-anchor="middle" fill="#231f20">SU-DIPGXIIIP<tspan dy="-2.6" font-size="6">*</tspan></text>
<line x1="193.3" y1="208.3" x2="193.3" y2="291.8" stroke="#959597" stroke-width="1.0"/>
<line x1="193.3" y1="291.8" x2="318.7" y2="291.8" stroke="#959597" stroke-width="1.0"/>
<text x="191.70000000000002" y="218.70000000000002" font-size="8.2" text-anchor="end" fill="#231f20">100</text>
<text x="191.70000000000002" y="256.7" font-size="8.2" text-anchor="end" fill="#231f20">50</text>
<text x="191.70000000000002" y="294.7" font-size="8.2" text-anchor="end" fill="#231f20">0</text>
<text x="193.3" y="302.6" font-size="8.2" text-anchor="middle" fill="#231f20">0</text>
<text x="234.0666666666667" y="302.6" font-size="8.2" text-anchor="middle" fill="#231f20">50</text>
<text x="274.83333333333337" y="302.6" font-size="8.2" text-anchor="middle" fill="#231f20">100</text>
<text x="315.6" y="302.6" font-size="8.2" text-anchor="middle" fill="#231f20">150</text>
<text transform="translate(174,253.4) rotate(-90)" font-size="8.6" text-anchor="middle" fill="#231f20">Probability of survival</text>
<text x="255.4" y="312.3" font-size="8.6" text-anchor="middle" fill="#231f20">Days after injection</text>
<polyline points="193.3,215.8 249.5,215.8 249.5,225.3 250.5,225.3 250.5,234.8 251.7,234.8 251.7,244.3 252.7,244.3 252.7,253.8 258.6,253.8 258.6,272.8 273.7,272.8 273.7,282.3 279.6,282.3 279.6,291.8" fill="none" stroke="#3e4680" stroke-width="0.9"/>
<polyline points="193.3,215.8 231.2,215.8 231.2,234.8 234.7,234.8 234.7,253.8 238.7,253.8 238.7,263.3 243.3,263.3 243.3,272.8 246.0,272.8 246.0,282.3 254.6,282.3 254.6,291.8" fill="none" stroke="#d45868" stroke-width="0.9"/>
<text x="195.6" y="285.6" font-size="6.4" letter-spacing="0.5" fill="#231f20">**</text>
<text x="201.4" y="285.9" font-size="8.6" fill="#231f20"><tspan font-style="italic">P</tspan> = 0.0014</text>
<line x1="193.4" y1="324.3" x2="203.1" y2="324.3" stroke="#e86878" stroke-width="0.9"/>
<circle cx="198.2" cy="324.3" r="1.1" fill="#a01828"/>
<line x1="193.4" y1="334" x2="203.1" y2="334" stroke="#7080b8" stroke-width="0.9"/>
<circle cx="198.2" cy="334" r="1.1" fill="#283070"/>
<text x="205.9" y="327.3" font-size="8.6" fill="#231f20"><tspan font-style="italic">AAVS1</tspan> control (<tspan font-style="italic">n</tspan> = 8)</text>
<text x="205.9" y="337" font-size="8.6" fill="#231f20"><tspan font-style="italic">SMARCA4</tspan> knockout (<tspan font-style="italic">n</tspan> = 8)</text>
<text x="321.2" y="7.6" font-size="10" font-weight="bold" fill="#231f20">E</text>
<text x="433.5" y="13.2" font-size="8.4" text-anchor="middle" font-weight="bold" fill="#231f20">BT869</text>
<rect x="352.5" y="18" width="61" height="12" fill="#f7d3da"/>
<rect x="435.2" y="17.5" width="80.8" height="12.3" fill="#dadbed"/>
<text x="382.7" y="27.2" font-size="8.6" text-anchor="middle" fill="#231f20"><tspan font-style="italic">AAVS1</tspan> control</text>
<text x="476.1" y="27.2" font-size="8.6" text-anchor="middle" fill="#231f20"><tspan font-style="italic">SMARCA4</tspan> knockout</text>
<line x1="336.4" y1="32.7" x2="336.4" y2="148.4" stroke="#6d6e71" stroke-width="0.9"/>
<text transform="translate(332.3,90.6) rotate(-90)" font-size="8.6" text-anchor="middle" fill="#231f20">H&amp;E</text>
<clipPath id="cbE1"><path d="M0,0"/></clipPath>
<path d="M350.8,51.5 C351.0,50.4 351.4,49.3 352.0,48.8 C352.6,48.2 353.2,49.0 354.6,48.2 C356.0,47.4 358.2,45.0 360.4,43.8 C362.6,42.6 365.4,41.7 368.0,40.8 C370.6,39.9 373.2,39.2 375.8,38.5 C378.4,37.8 380.9,37.0 383.5,36.5 C386.1,36.0 388.9,35.6 391.2,35.4 C393.5,35.2 395.2,35.1 397.3,35.4 C399.4,35.7 401.4,36.1 403.5,37.0 C405.6,37.9 407.7,39.1 409.6,40.8 C411.5,42.5 413.5,45.0 415.0,47.0 C416.5,49.0 417.6,50.7 418.8,53.0 C420.0,55.3 421.7,58.5 422.0,60.8 C422.3,63.1 421.4,65.3 420.4,67.0 C419.4,68.7 418.1,69.9 415.8,70.8 C413.5,71.7 409.6,72.2 406.5,72.3 C403.4,72.4 400.1,72.1 397.3,71.5 C394.5,70.9 391.9,69.4 389.6,68.5 C387.3,67.6 385.8,66.7 383.5,66.2 C381.2,65.7 378.4,65.9 375.8,65.4 C373.2,64.9 370.6,63.8 368.0,63.0 C365.4,62.2 362.6,61.4 360.4,60.8 C358.2,60.2 356.0,60.0 354.6,59.6 C353.2,59.2 352.4,59.1 351.8,58.4 C351.2,57.7 351.1,56.4 350.9,55.2 C350.7,54.1 350.6,52.6 350.8,51.5 Z" fill="#d070b0" filter="url(#br1)"/>
<path d="M437.1,54.3 C437.4,53.3 437.4,51.6 438.8,50.9 C440.2,50.2 443.8,50.7 445.5,50.0 C447.2,49.3 446.9,47.8 448.9,46.7 C450.9,45.6 454.6,44.2 457.4,43.3 C460.2,42.4 463.0,41.7 465.8,41.1 C468.6,40.5 471.5,40.1 474.3,39.9 C477.1,39.7 480.6,39.8 482.8,39.9 C485.1,40.0 485.8,40.2 487.8,40.8 C489.8,41.4 492.6,42.3 494.6,43.3 C496.6,44.3 498.6,45.6 499.7,46.7 C500.8,47.8 500.8,48.7 501.4,50.0 C501.9,51.3 501.7,52.7 503.0,54.3 C504.3,55.9 507.6,58.0 509.0,59.4 C510.4,60.8 510.5,61.4 511.5,62.8 C512.5,64.2 514.0,66.1 514.9,67.8 C515.8,69.5 516.9,71.8 516.6,72.9 C516.3,74.0 514.9,75.0 513.2,74.6 C511.5,74.2 508.8,71.5 506.5,70.4 C504.2,69.3 501.4,68.0 499.7,67.8 C498.0,67.6 498.0,69.1 496.3,69.5 C494.6,69.9 491.8,70.4 489.5,70.4 C487.2,70.4 485.1,70.2 482.8,69.5 C480.6,68.8 478.0,66.9 476.0,66.1 C474.0,65.3 473.1,64.6 470.9,64.5 C468.6,64.4 465.3,65.7 462.5,65.3 C459.7,64.9 456.6,62.9 454.0,61.9 C451.4,60.9 449.2,60.0 447.2,59.4 C445.2,58.8 443.9,58.9 442.2,58.5 C440.5,58.1 438.0,57.5 437.1,56.8 C436.2,56.1 436.8,55.3 437.1,54.3 Z" fill="#d070b0" filter="url(#br2)"/>
<ellipse cx="401.6" cy="53.9" rx="16.9" ry="18.1" fill="#c89ad0" filter="url(#tu1)"/>
<ellipse cx="401.6" cy="53.9" rx="16.9" ry="18.1" fill="none" stroke="#3a2048" stroke-width="0.9"/>
<path d="M370.6,45.6 C372,44.2 375,43.6 376.6,44.6 C377.2,46.5 375.8,48 375.6,50 C375.9,52.2 376.4,54 375,55.2 C373.2,55.6 372.6,53.2 372.4,51.2 C372.1,49 370.2,47.6 370.6,45.6 Z" fill="#fbf2fa"/>
<ellipse cx="487" cy="60.6" rx="11.2" ry="9.6" fill="#c890c6" filter="url(#tu2)"/>
<ellipse cx="487" cy="60.6" rx="11.2" ry="9.6" fill="none" stroke="#3a2048" stroke-width="0.9"/>
<circle cx="494" cy="43.5" r="2.2" fill="#b04a98" opacity="0.8"/>
<circle cx="498" cy="45" r="2.2" fill="#b04a98" opacity="0.8"/>
<circle cx="501.5" cy="47.5" r="2" fill="#b04a98" opacity="0.8"/>
<circle cx="504" cy="50.5" r="1.8" fill="#b04a98" opacity="0.8"/>
<circle cx="490.5" cy="42" r="2" fill="#b04a98" opacity="0.8"/>
<circle cx="456.8" cy="50.5" r="1.2" fill="#fff"/>
<circle cx="458.6" cy="52.8" r="1.1" fill="#fff"/>
<circle cx="455.5" cy="53.5" r="1.0" fill="#fff"/>
<circle cx="457.6" cy="55.4" r="1.0" fill="#fff"/>
<circle cx="459.5" cy="49.2" r="0.9" fill="#fff"/>
<text x="394.6" y="59.4" font-size="8.6" text-anchor="middle" fill="#231f20">T</text>
<text x="482.8" y="63.4" font-size="8.6" text-anchor="middle" fill="#231f20">T</text>
<text x="340.2" y="81.6" font-size="8.6" fill="#231f20">115 days after injection</text>
<text x="435.8" y="81.6" font-size="8.6" fill="#231f20">112 days after injection</text>
<rect x="350.3" y="86" width="72" height="62.6" fill="#fff" filter="url(#he1)"/>
<g fill="none" stroke-linecap="round" filter="url(#soft)"><path stroke="#8a58a8" stroke-width="1.12" d="M379.1 135.8h0M370.9 146.0h0M377.7 101.2h0M409.5 106.3h0M376.1 98.0h0M418.6 116.0h0M363.1 112.6h0M406.3 147.4h0M399.3 100.9h0M413.7 115.4h0M404.5 107.6h0M419.9 86.5h0M351.4 134.0h0M395.1 88.6h0M357.8 126.0h0M374.5 106.2h0M387.0 135.6h0M354.5 95.1h0M351.5 88.7h0M419.9 143.7h0M387.6 146.0h0M409.8 99.7h0M417.3 124.2h0M401.2 118.8h0M389.4 90.2h0M406.0 107.4h0M397.2 97.5h0M373.7 112.1h0M364.4 120.6h0M397.5 93.8h0M389.8 101.6h0M388.6 117.6h0M401.6 109.4h0M406.6 131.0h0M380.6 113.7h0M404.5 123.9h0M415.1 146.3h0M389.4 107.7h0M410.4 90.2h0M358.2 145.8h0M414.1 91.5h0M378.2 121.0h0M391.1 122.9h0M372.4 100.6h0M411.3 144.0h0M403.0 135.8h0M368.8 102.1h0M399.9 107.7h0M357.6 118.5h0M351.0 143.8h0M375.4 104.7h0M357.4 141.1h0M407.3 95.1h0M392.7 127.9h0M370.3 101.6h0M384.6 98.5h0M389.0 139.6h0M360.6 113.6h0M388.0 146.4h0M399.9 134.7h0M362.6 114.0h0M388.3 95.8h0M376.2 96.5h0M359.9 141.3h0M407.9 142.2h0M420.6 94.9h0M385.3 117.4h0M411.2 122.6h0M359.3 117.9h0M354.9 112.4h0M419.7 129.6h0M354.7 107.3h0M377.2 134.0h0M352.3 129.3h0M381.0 97.1h0M376.6 125.1h0M375.0 94.2h0M407.9 103.2h0M399.5 98.1h0M387.1 141.2h0M397.1 130.5h0M385.7 94.1h0M398.7 128.7h0M376.2 109.1h0M360.7 102.6h0M383.6 102.5h0M353.0 140.7h0M356.5 111.4h0M387.1 140.0h0M389.0 126.0h0M397.3 115.3h0M378.9 147.8h0M385.8 143.3h0M358.1 146.5h0"/><path stroke="#8a58a8" stroke-width="1.58" d="M372.8 125.5h0M358.3 86.6h0M352.7 112.0h0M387.3 112.0h0M351.9 109.4h0M363.5 126.9h0M355.1 94.0h0M359.8 97.8h0M371.5 130.9h0M406.3 143.3h0M353.1 127.5h0M411.6 119.1h0M379.9 143.7h0M382.1 93.5h0M357.2 123.5h0M384.4 108.3h0M382.2 121.0h0M406.8 137.8h0M384.7 147.9h0M411.7 124.5h0M359.7 120.2h0M399.8 140.2h0M357.7 108.4h0M358.3 131.8h0M367.2 130.0h0M409.5 90.9h0M391.9 115.5h0M353.6 106.9h0M415.2 147.7h0M421.0 130.5h0M409.4 123.6h0M371.2 126.2h0M391.9 92.2h0M359.6 104.4h0M386.0 87.0h0M373.8 90.7h0M395.9 137.2h0M353.0 108.3h0M368.9 108.3h0M364.8 110.4h0M417.4 98.2h0M401.9 125.2h0M384.3 95.0h0M372.7 102.6h0M381.0 136.8h0M359.7 132.9h0M421.7 128.8h0M399.8 87.8h0M377.7 132.7h0M368.1 146.9h0M371.6 132.6h0M400.0 91.8h0M386.7 104.6h0M351.3 108.9h0M378.9 89.0h0M397.6 109.5h0M356.2 117.1h0M386.3 101.0h0M360.7 142.2h0M416.9 119.2h0M360.0 130.4h0M368.2 144.6h0M392.7 88.4h0M373.6 109.1h0M396.4 134.7h0M377.1 143.5h0M391.1 118.7h0M362.9 106.6h0M366.6 116.9h0M413.0 94.1h0M394.9 135.1h0M420.9 121.6h0M381.4 141.0h0M355.5 140.8h0M394.7 121.1h0M420.1 147.1h0M355.2 101.6h0M359.0 102.1h0M360.7 118.1h0M381.2 120.5h0M392.5 130.5h0M376.9 117.3h0M391.1 134.3h0M355.4 89.9h0M375.7 129.5h0M409.9 137.4h0M356.8 105.7h0M407.4 138.7h0M356.4 138.1h0M366.5 122.5h0M392.8 127.3h0M383.7 106.7h0M367.2 120.3h0M371.1 140.4h0M368.7 133.9h0M413.4 101.1h0"/><path stroke="#a070b8" stroke-width="1.12" d="M417.7 123.2h0M358.3 123.4h0M376.2 106.0h0M406.9 105.9h0M387.4 140.9h0M389.0 123.7h0M407.3 132.2h0M397.4 126.0h0M376.3 104.8h0M388.0 119.0h0M415.9 101.2h0M397.5 115.9h0M352.8 96.2h0M407.8 143.5h0M419.2 120.4h0M398.3 124.8h0M361.3 138.3h0M362.9 89.0h0M371.6 86.7h0M412.4 100.0h0M359.9 147.3h0M364.9 106.6h0M411.0 117.3h0M364.2 146.4h0M366.4 115.8h0M398.8 105.5h0M352.8 147.3h0M378.9 106.1h0M419.0 107.7h0M390.8 93.3h0M392.6 138.1h0M379.9 115.6h0M382.3 103.8h0M397.3 110.5h0M413.2 101.7h0M408.5 93.5h0M405.3 95.5h0M360.8 128.4h0M361.6 101.6h0M376.5 144.3h0M418.2 93.5h0M420.6 147.7h0M357.4 130.2h0M400.0 136.6h0M397.4 146.4h0M358.6 93.4h0M360.2 105.8h0M394.6 87.1h0M355.2 129.2h0M372.9 144.9h0M387.9 89.6h0M417.2 95.6h0M372.7 95.5h0M402.7 118.7h0M398.3 147.7h0M398.2 135.6h0M405.1 96.7h0M361.5 116.0h0M404.4 111.8h0M381.0 143.9h0M418.4 117.3h0M380.4 147.0h0M387.8 104.8h0M358.8 112.3h0M385.5 112.5h0M393.9 100.2h0M398.4 116.6h0M354.2 135.3h0M404.8 142.5h0M371.8 87.7h0M386.2 114.8h0M353.6 92.2h0M372.2 88.8h0M417.8 100.8h0M358.1 96.6h0M398.8 132.7h0M375.5 90.9h0M399.7 110.2h0M381.8 118.0h0M372.4 141.7h0M412.2 129.0h0M403.0 97.9h0M391.4 145.5h0M371.4 123.2h0M365.6 138.9h0M362.4 135.9h0M385.5 92.5h0M353.2 104.8h0M402.1 102.9h0M379.7 103.2h0M420.4 103.8h0M353.0 107.9h0M408.7 137.2h0M388.3 92.3h0M386.8 101.1h0M417.4 121.4h0M386.3 95.2h0"/><path stroke="#a070b8" stroke-width="1.58" d="M383.4 101.0h0M363.2 136.9h0M358.4 145.6h0M389.8 142.6h0M388.7 110.4h0M373.8 143.8h0M365.5 124.6h0M412.7 98.5h0M357.0 113.7h0M369.9 122.7h0M413.7 135.7h0M391.3 96.8h0M384.8 102.8h0M369.4 118.5h0M396.6 119.2h0M409.8 132.7h0M389.0 135.7h0M353.2 91.8h0M361.6 98.8h0M377.2 147.0h0M358.6 129.1h0M399.0 117.3h0M355.0 121.6h0M378.1 93.6h0M409.7 96.0h0M364.8 100.6h0M364.1 117.2h0M404.3 145.2h0M358.6 125.1h0M393.9 92.3h0M403.3 100.4h0M354.2 117.0h0M380.8 118.6h0M356.5 136.4h0M387.2 98.6h0M365.1 123.1h0M362.0 131.5h0M389.5 92.2h0M374.4 123.9h0M363.1 147.4h0M367.9 143.4h0M421.1 99.1h0M372.1 108.0h0M376.8 107.8h0M367.3 139.4h0M357.2 97.1h0M353.1 115.2h0M370.7 145.9h0M411.7 133.2h0M365.9 99.5h0M394.6 107.0h0M362.0 94.8h0M386.0 96.1h0M415.0 113.4h0M391.2 97.7h0M375.6 95.5h0M380.5 110.0h0M407.5 100.4h0M359.9 121.7h0M352.8 103.3h0M373.1 120.7h0M366.9 129.5h0M416.8 146.4h0M396.2 88.0h0M400.0 102.4h0M364.0 135.0h0M377.2 131.0h0M413.7 127.6h0M408.9 132.5h0M419.8 133.7h0M373.1 147.8h0M350.8 98.3h0M356.1 144.1h0M378.7 120.5h0M376.3 92.2h0M378.6 109.9h0M374.3 142.1h0M356.9 88.9h0M398.0 90.0h0M386.7 129.0h0M391.2 123.9h0M386.4 112.9h0M406.2 107.0h0M359.0 99.2h0M406.2 145.6h0M416.2 122.7h0M373.5 112.1h0M355.2 139.4h0M374.7 118.5h0M420.2 118.3h0M403.1 137.2h0M374.8 127.9h0M400.5 89.7h0"/><path stroke="#7a4898" stroke-width="1.12" d="M368.8 146.4h0M408.4 106.0h0M391.2 121.8h0M359.8 129.5h0M405.7 110.9h0M386.6 88.6h0M397.1 103.6h0M388.8 97.7h0M395.1 117.5h0M396.8 129.8h0M399.9 88.0h0M353.6 112.6h0M388.1 136.8h0M376.2 115.4h0M409.0 109.8h0M385.9 108.1h0M353.9 102.2h0M351.1 127.2h0M370.5 90.1h0M396.9 113.4h0M402.6 140.8h0M362.7 108.7h0M420.3 127.6h0M404.3 146.9h0M385.3 125.7h0M385.9 92.3h0M391.2 129.0h0M363.1 115.6h0M415.7 135.3h0M360.8 96.9h0M371.8 121.1h0M391.5 105.2h0M413.4 90.3h0M413.6 109.0h0M375.2 97.5h0M370.2 141.1h0M352.0 111.5h0M371.4 129.6h0M361.9 86.5h0M357.7 121.5h0M370.2 104.9h0M361.6 113.2h0M410.8 93.7h0M387.3 119.1h0M400.2 131.0h0M397.7 104.9h0M381.6 99.9h0M390.7 120.0h0M401.6 102.8h0M378.1 99.2h0M370.7 130.5h0M405.0 147.6h0M384.5 137.2h0M371.3 116.5h0M408.4 145.4h0M418.1 115.0h0M380.7 105.0h0M365.6 134.5h0M417.0 135.1h0M365.9 107.3h0M397.7 138.1h0M360.6 107.0h0M390.2 133.2h0M376.3 99.4h0M371.0 143.4h0M374.7 117.1h0M411.4 90.8h0M374.0 138.3h0M410.1 145.9h0M351.9 117.7h0M399.2 111.1h0M394.8 145.7h0M384.1 129.1h0M376.7 139.0h0M370.1 96.3h0M414.6 140.8h0M407.6 109.0h0M402.0 100.2h0M412.5 91.6h0M399.2 91.2h0M377.0 106.9h0M419.8 140.0h0M399.6 140.9h0M411.3 126.6h0M365.4 100.8h0M361.2 103.8h0M389.7 109.1h0M390.3 130.5h0M413.2 107.1h0M363.0 88.8h0M363.2 129.4h0M377.0 133.0h0M361.5 109.6h0M385.1 105.0h0M385.5 137.5h0"/><path stroke="#7a4898" stroke-width="1.58" d="M419.4 100.0h0M371.8 135.1h0M360.3 88.8h0M384.7 98.0h0M358.6 116.3h0M410.3 120.7h0M376.6 132.8h0M361.6 122.9h0M421.7 87.1h0M421.7 111.9h0M389.8 133.6h0M402.8 134.3h0M408.5 111.7h0M383.1 99.7h0M360.7 91.2h0M407.6 116.7h0M351.1 130.2h0M396.2 134.1h0M397.6 136.1h0M359.7 127.3h0M406.3 135.7h0M415.0 102.6h0M387.1 89.8h0M409.4 108.0h0M381.6 92.4h0M405.6 92.3h0M365.8 128.0h0M411.0 137.8h0M356.4 124.6h0M406.4 102.3h0M392.3 100.9h0M400.2 105.0h0M400.4 96.3h0M404.5 87.1h0M418.7 136.6h0M360.0 123.9h0M372.9 137.3h0M420.7 126.5h0M368.3 112.6h0M400.1 125.6h0M373.5 86.6h0M356.1 118.6h0M364.7 126.7h0M400.1 115.1h0M393.6 87.9h0M401.8 131.6h0M405.6 127.2h0M374.3 140.4h0M360.6 135.2h0M393.6 112.2h0M351.2 107.1h0M354.1 99.5h0M396.3 94.3h0M380.8 98.1h0M373.2 107.1h0M366.8 101.3h0M374.5 143.2h0M406.2 99.0h0M399.8 100.2h0M385.7 120.4h0M402.7 141.5h0M386.1 98.2h0M420.1 104.4h0M403.8 107.9h0M373.6 118.1h0M411.6 141.1h0M358.2 133.0h0M365.0 88.9h0M374.1 92.9h0M415.2 128.0h0M381.8 109.1h0M394.8 101.4h0M375.4 88.6h0M394.5 114.4h0M379.7 91.9h0M418.1 140.4h0M395.7 131.4h0M383.2 120.1h0M399.7 115.6h0M406.2 101.2h0M418.0 138.5h0M393.4 122.4h0M355.1 103.0h0M391.1 107.8h0M395.9 115.7h0M357.9 93.7h0M407.4 144.5h0M370.7 91.6h0M358.6 126.8h0M354.4 93.5h0M367.1 147.9h0M362.2 145.4h0M401.7 109.2h0M394.5 137.8h0M391.6 116.5h0"/><path stroke="#b488c4" stroke-width="1.12" d="M419.2 92.3h0M362.4 91.8h0M415.0 105.5h0M396.1 116.1h0M371.5 124.3h0M352.7 101.9h0M352.4 135.2h0M388.8 127.6h0M367.6 100.3h0M408.5 94.9h0M398.9 111.6h0M357.3 140.0h0M351.8 98.8h0M366.5 144.6h0M403.5 111.4h0M420.2 124.6h0M407.6 126.7h0M406.4 87.2h0M413.0 139.6h0M417.6 110.1h0M360.0 142.7h0M390.4 105.4h0M397.4 102.0h0M380.6 101.4h0M384.9 101.8h0M384.7 124.3h0M396.6 127.6h0M389.8 137.1h0M376.0 109.3h0M412.7 114.1h0M384.0 90.5h0M394.0 108.0h0M374.2 114.3h0M351.1 91.4h0M387.3 124.0h0M361.7 104.3h0M411.7 147.6h0M358.7 98.3h0M368.8 132.3h0M377.9 109.8h0M416.5 113.1h0M412.7 142.4h0M384.2 122.4h0M370.3 116.6h0M415.4 125.4h0M417.2 131.4h0M411.3 98.7h0M355.5 115.0h0M361.6 127.6h0M417.3 125.5h0M355.5 97.4h0M405.0 100.6h0M378.4 115.2h0M388.7 130.8h0M396.9 107.8h0M411.8 101.3h0M419.1 138.5h0M390.6 128.2h0M351.1 95.5h0M359.9 108.0h0M391.1 126.2h0M391.5 131.2h0M359.0 147.1h0M364.1 95.1h0M397.3 141.8h0M415.3 115.2h0M376.4 146.3h0M350.8 102.9h0M350.9 133.9h0M385.3 128.0h0M399.2 105.6h0M358.6 137.3h0M418.5 127.1h0M401.0 105.5h0M383.0 140.2h0M380.3 89.8h0M379.6 123.1h0M413.9 119.2h0M351.7 92.5h0M399.9 96.7h0M411.9 118.7h0M412.1 130.9h0M393.0 110.2h0M393.9 139.7h0M399.7 118.7h0M351.8 120.8h0M368.6 109.4h0M390.1 89.0h0M403.6 140.7h0M378.7 139.5h0M362.2 124.5h0M419.5 106.7h0M394.7 142.0h0M406.4 98.8h0M357.8 102.7h0M362.8 131.7h0M373.2 87.4h0M416.1 97.5h0"/><path stroke="#b488c4" stroke-width="1.58" d="M383.3 145.5h0M394.9 103.8h0M412.3 126.6h0M366.8 140.1h0M351.8 116.4h0M363.3 92.8h0M403.1 96.9h0M352.9 105.0h0M354.7 141.5h0M418.1 120.4h0M411.7 87.9h0M383.0 143.6h0M365.5 91.9h0M410.4 87.9h0M363.5 103.0h0M374.6 108.9h0M369.1 97.0h0M408.1 88.6h0M389.7 87.0h0M385.4 127.9h0M421.7 105.3h0M405.8 116.1h0M417.1 87.0h0M388.1 100.6h0M380.7 126.8h0M421.7 103.9h0M415.1 122.7h0M356.1 93.4h0M387.4 93.2h0M370.5 98.2h0M395.0 113.6h0M358.6 94.8h0M373.8 130.2h0M417.2 142.9h0M370.9 136.0h0M376.2 119.2h0M411.7 111.5h0M362.3 110.1h0M352.2 106.8h0M359.0 105.6h0M388.8 134.0h0M364.3 109.1h0M394.6 124.9h0M367.8 126.2h0M393.3 113.5h0M375.0 144.2h0M356.9 90.1h0M418.1 108.5h0M376.2 130.1h0M359.0 128.7h0M362.7 116.9h0M396.0 97.9h0M380.1 111.2h0M382.5 133.5h0M369.9 110.4h0M363.9 92.8h0M380.7 102.3h0M403.8 144.6h0M408.0 87.8h0M395.3 104.8h0M378.1 122.7h0M378.5 86.9h0M371.8 105.7h0M412.3 100.0h0M357.9 125.7h0M403.7 148.0h0M371.4 111.9h0M369.3 138.9h0M406.6 114.9h0M401.9 107.8h0M373.2 140.3h0M415.3 147.2h0M363.8 139.1h0M390.4 103.5h0M381.9 116.8h0M356.1 131.7h0M365.7 94.5h0M414.5 128.7h0M366.2 118.9h0M392.4 145.4h0M385.8 102.5h0M400.9 143.2h0M358.8 136.4h0M410.5 113.9h0M413.0 96.0h0M410.6 128.2h0M361.5 99.4h0M373.4 127.3h0M399.4 130.2h0M398.1 147.9h0M370.6 92.9h0M411.7 145.9h0"/><path stroke="#6a4090" stroke-width="1.12" d="M371.1 143.2h0M393.1 120.6h0M369.8 139.6h0M415.7 99.0h0M414.9 89.5h0M386.3 123.6h0M394.5 128.9h0M381.6 140.8h0M363.2 124.9h0M386.8 143.3h0M417.4 126.4h0M402.4 145.2h0M393.9 96.2h0M416.3 91.7h0M392.4 145.9h0M364.3 88.7h0M368.3 93.8h0M400.6 137.4h0M416.2 115.9h0M413.9 134.7h0M355.0 119.3h0M414.5 136.3h0M397.7 130.7h0M385.4 115.3h0M368.2 116.6h0M398.8 115.5h0M354.1 92.9h0M355.2 126.2h0M362.6 119.6h0M372.6 87.8h0M397.7 133.1h0M421.8 142.6h0M410.4 100.8h0M359.3 113.7h0M421.0 132.1h0M418.4 124.2h0M400.3 142.9h0M405.9 145.7h0M404.6 90.3h0M375.5 98.6h0M376.1 131.7h0M368.1 137.3h0M403.2 142.7h0M405.1 125.5h0M364.1 140.5h0M388.4 112.4h0M377.6 92.6h0M355.8 88.1h0M394.4 137.3h0M362.5 91.5h0M364.4 144.1h0M416.2 111.7h0M366.5 97.8h0M378.1 129.6h0M375.5 110.8h0M352.0 100.5h0M389.4 144.0h0M381.5 146.8h0M406.1 120.5h0M401.6 141.4h0M350.9 140.3h0M354.8 148.0h0M362.9 122.0h0M404.2 136.9h0M401.3 135.0h0M416.0 144.6h0M360.5 140.4h0M418.2 131.7h0M393.4 126.0h0M409.4 129.1h0M365.7 127.2h0M389.9 99.6h0M369.8 98.2h0M405.3 116.2h0M413.1 97.7h0M372.7 119.1h0M387.7 145.2h0M421.5 138.6h0M365.6 87.4h0M407.4 110.5h0M413.1 142.7h0M351.8 86.7h0M357.4 118.7h0M421.2 124.3h0M372.5 131.9h0M361.0 122.1h0M382.6 122.3h0M374.7 104.0h0M352.5 135.9h0M407.7 132.7h0M397.0 133.4h0M408.1 124.7h0M387.9 105.0h0M396.0 125.4h0M399.4 100.9h0M405.1 125.1h0"/><path stroke="#6a4090" stroke-width="1.58" d="M390.1 145.2h0M351.9 144.6h0M391.9 139.9h0M398.4 90.0h0M407.0 110.7h0M380.3 107.6h0M421.1 143.2h0M373.9 121.8h0M419.9 89.6h0M372.3 92.6h0M374.6 89.2h0M416.3 125.2h0M413.5 117.7h0M416.1 90.1h0M410.0 134.4h0M419.9 146.7h0M394.4 98.5h0M417.0 128.9h0M420.7 135.8h0M366.8 133.4h0M369.5 127.9h0M407.2 111.7h0M351.4 112.6h0M357.5 110.2h0M385.1 91.3h0M419.9 138.3h0M414.8 88.1h0M367.6 141.0h0M392.7 133.6h0M369.3 92.5h0M399.8 132.0h0M356.0 140.4h0M389.1 106.0h0M364.3 133.1h0M414.2 112.1h0M402.2 139.2h0M399.0 109.1h0M394.6 94.3h0M360.5 109.7h0M419.8 95.7h0M351.7 115.2h0M401.0 94.2h0M397.0 144.5h0M353.1 122.8h0M408.5 129.8h0M413.0 91.9h0M362.6 99.2h0M400.4 124.3h0M381.0 139.0h0M378.0 91.5h0M393.3 143.3h0M407.7 146.8h0M418.5 113.4h0M382.2 144.8h0M418.9 98.1h0M352.4 88.6h0M401.5 113.5h0M352.4 113.8h0M415.1 86.5h0M406.6 89.8h0M385.4 131.0h0M404.1 138.0h0M357.8 138.0h0M367.4 122.7h0M403.0 131.8h0M359.5 143.7h0M368.0 100.1h0M413.1 145.7h0M368.6 123.9h0M379.3 116.3h0M372.5 93.6h0M388.0 124.7h0M361.4 114.8h0M395.9 90.1h0M408.3 114.6h0M386.0 89.1h0M359.3 87.5h0M394.6 129.2h0M377.8 90.6h0M361.3 93.5h0M406.5 94.4h0M351.5 124.6h0M353.4 114.1h0M382.5 144.1h0M395.6 99.4h0M362.9 130.6h0M396.4 105.3h0M413.2 125.8h0M354.7 124.9h0M417.1 116.8h0M381.0 129.6h0M390.9 147.6h0M419.5 111.1h0M367.9 141.8h0"/></g>
<rect x="442.3" y="85.8" width="71.4" height="62.4" fill="#fff" filter="url(#he2)"/>
<g fill="none" stroke-linecap="round" filter="url(#soft)"><path stroke="#9a58a8" stroke-width="1.12" d="M489.1 88.0h0M492.4 137.2h0M473.3 139.0h0M446.8 143.1h0M464.8 129.2h0M490.3 129.0h0M489.2 112.3h0M471.5 97.9h0M488.8 90.7h0M509.3 124.6h0M507.1 146.8h0M482.9 142.9h0M466.5 128.3h0M445.9 95.7h0M465.3 119.0h0M449.6 142.6h0M485.9 102.2h0M474.9 105.8h0M446.0 107.4h0M453.1 109.5h0M491.6 133.1h0M457.1 116.7h0M506.6 120.3h0M453.1 138.3h0M454.5 103.3h0M504.4 130.2h0M447.5 117.6h0M461.5 138.9h0M467.6 121.8h0M496.8 104.2h0M446.9 135.1h0M492.2 134.7h0M500.0 135.2h0M450.6 89.6h0M482.1 88.9h0M451.3 102.0h0M492.2 107.7h0M447.1 132.8h0M482.9 97.0h0M497.7 131.2h0M448.5 143.0h0M512.5 89.2h0M507.9 107.7h0M445.8 126.7h0M475.4 87.7h0M512.5 135.0h0M503.9 124.7h0M477.0 121.8h0M490.1 118.0h0M450.0 136.1h0M469.1 114.9h0M502.1 97.3h0M447.0 88.1h0M512.3 111.7h0M480.5 94.2h0M452.2 133.7h0M475.1 91.8h0M484.8 130.7h0M462.4 114.6h0M500.7 130.3h0M455.2 96.7h0M448.5 109.1h0M451.5 86.9h0M509.2 93.8h0M460.7 143.0h0M511.7 144.5h0M476.7 126.4h0M497.8 128.9h0M476.3 135.2h0M468.4 109.3h0M473.8 94.0h0M489.1 104.1h0M448.9 86.3h0M472.9 129.3h0M460.0 127.7h0M461.8 117.7h0M487.0 103.8h0M472.7 144.2h0M469.7 124.8h0M493.9 132.0h0M488.2 124.8h0M487.6 138.7h0M490.0 94.2h0M484.8 117.5h0M495.8 102.7h0M507.6 87.9h0M485.9 101.3h0M478.4 99.3h0M466.5 124.8h0M456.5 91.0h0M475.3 134.7h0M485.2 131.6h0M494.3 109.4h0M487.2 131.8h0M511.0 101.9h0M500.7 124.9h0M505.4 100.3h0M503.1 105.8h0M446.7 96.7h0M447.8 88.5h0M469.9 103.8h0M501.2 132.3h0M478.1 127.6h0M505.6 143.9h0"/><path stroke="#9a58a8" stroke-width="1.58" d="M510.8 119.4h0M510.0 129.1h0M478.9 114.9h0M464.8 124.5h0M502.2 140.1h0M497.8 107.9h0M494.5 103.6h0M462.8 130.1h0M492.5 91.7h0M458.7 140.7h0M449.7 108.9h0M500.9 112.4h0M498.7 99.8h0M445.1 105.0h0M450.6 138.6h0M498.7 97.4h0M443.8 95.7h0M511.1 93.6h0M452.3 129.1h0M507.4 125.2h0M459.2 91.3h0M471.3 118.9h0M495.4 107.4h0M456.4 133.2h0M494.4 88.0h0M454.5 94.2h0M463.8 127.7h0M447.5 139.9h0M506.1 123.2h0M473.9 121.3h0M451.0 93.2h0M511.9 122.1h0M486.2 107.4h0M496.4 88.8h0M482.7 103.3h0M459.7 105.2h0M458.0 122.0h0M500.1 114.7h0M445.2 141.6h0M462.4 100.6h0M465.4 123.2h0M511.7 99.6h0M506.4 95.0h0M458.3 123.4h0M499.1 105.7h0M513.0 134.0h0M512.1 123.9h0M501.4 92.1h0M477.0 129.4h0M449.9 91.7h0M457.0 124.3h0M483.7 94.2h0M468.4 118.4h0M453.5 121.0h0M453.4 99.7h0M472.1 92.9h0M487.2 91.4h0M483.9 108.1h0M454.3 140.0h0M456.3 121.6h0M447.5 100.3h0M453.9 114.0h0M486.7 134.2h0M453.9 132.5h0M488.1 112.8h0M470.5 117.5h0M459.3 139.6h0M454.3 110.5h0M449.4 138.3h0M478.5 130.7h0M512.8 126.4h0M470.4 110.3h0M493.1 117.8h0M500.9 119.9h0M481.4 111.9h0M478.2 124.0h0M492.6 111.1h0M496.4 144.7h0M475.6 122.5h0M452.5 96.0h0M509.3 127.4h0M489.5 130.0h0M490.8 147.4h0M458.5 138.2h0M477.5 112.6h0M484.9 110.0h0M451.9 124.4h0M506.0 136.6h0M467.0 91.6h0M500.4 116.1h0M455.0 91.3h0M498.7 126.2h0M495.8 142.6h0M485.9 121.3h0M513.2 87.5h0M459.4 107.9h0"/><path stroke="#b070b8" stroke-width="1.12" d="M476.2 97.8h0M489.0 131.2h0M460.2 86.9h0M497.4 102.3h0M511.0 111.5h0M503.9 142.5h0M494.5 115.8h0M483.9 92.2h0M472.1 97.2h0M472.4 105.9h0M455.6 140.3h0M474.4 87.1h0M508.8 113.1h0M505.4 126.3h0M471.7 89.4h0M459.5 145.2h0M450.8 119.3h0M484.8 123.6h0M464.8 88.0h0M485.3 114.8h0M466.5 107.8h0M474.9 89.9h0M478.4 122.9h0M449.9 94.4h0M497.9 93.5h0M511.2 103.9h0M443.3 134.1h0M452.5 141.9h0M499.6 124.3h0M502.6 111.4h0M472.2 113.3h0M478.1 121.7h0M475.5 124.8h0M490.3 97.2h0M495.7 124.1h0M478.0 128.8h0M505.5 108.8h0M510.7 138.6h0M462.1 136.5h0M508.4 121.8h0M488.8 99.3h0M507.3 93.1h0M472.3 141.6h0M473.0 91.8h0M511.1 105.8h0M445.7 132.5h0M492.9 103.7h0M502.6 146.2h0M492.4 142.1h0M483.6 95.5h0M489.2 127.4h0M480.9 100.8h0M449.8 146.2h0M464.8 111.8h0M469.8 133.5h0M490.9 123.0h0M464.0 134.7h0M448.3 146.7h0M505.5 97.8h0M484.1 138.5h0M510.9 140.4h0M450.4 147.2h0M456.8 122.5h0M454.3 98.4h0M510.0 122.4h0M497.4 121.6h0M480.3 91.6h0M483.9 116.3h0M491.8 132.2h0M451.5 125.5h0M509.0 86.9h0M459.9 125.2h0M445.6 104.0h0M461.1 146.1h0M507.6 106.4h0M480.7 140.1h0M449.9 115.9h0M495.4 118.5h0M471.0 95.6h0M468.3 128.6h0M491.0 128.4h0M449.9 139.4h0M485.3 142.0h0M500.7 107.8h0M490.3 131.2h0M471.6 89.2h0M497.1 104.4h0M491.6 89.1h0M505.0 133.6h0M462.0 122.4h0M459.3 92.9h0M446.2 135.6h0M462.6 128.6h0M488.6 94.7h0M473.8 87.2h0M451.9 105.5h0M471.3 91.5h0M455.8 99.8h0M463.5 87.4h0M491.4 106.6h0M473.6 104.8h0M478.0 90.6h0M488.5 136.1h0M457.1 93.9h0M459.0 89.0h0M493.3 103.8h0M504.3 98.2h0M504.6 115.1h0M493.6 110.5h0M496.3 116.4h0M447.0 136.9h0"/><path stroke="#b070b8" stroke-width="1.58" d="M451.7 146.4h0M501.6 113.7h0M442.9 124.3h0M467.6 117.2h0M468.3 86.2h0M511.8 140.7h0M498.1 106.8h0M491.6 145.5h0M467.0 129.9h0M482.8 123.6h0M507.4 118.1h0M462.8 104.5h0M469.7 124.6h0M493.4 145.9h0M507.4 91.3h0M472.5 140.1h0M483.2 118.4h0M445.5 89.9h0M485.0 91.3h0M480.6 92.0h0M448.8 138.1h0M447.4 116.1h0M443.3 89.6h0M485.9 110.7h0M444.7 127.9h0M476.9 106.1h0M451.6 114.5h0M458.2 132.1h0M482.8 133.7h0M508.9 138.2h0M508.0 103.4h0M463.5 100.3h0M479.9 145.1h0M502.8 106.3h0M444.6 122.9h0M468.5 93.5h0M452.9 143.8h0M496.8 129.3h0M469.7 121.0h0M480.0 121.3h0M467.8 139.1h0M511.6 114.5h0M490.9 112.9h0M473.0 124.8h0M447.0 105.1h0M490.2 86.6h0M496.5 118.0h0M452.6 107.5h0M482.1 113.9h0M513.1 108.0h0M461.0 103.1h0M502.2 88.0h0M473.7 127.0h0M459.7 102.8h0M473.4 144.9h0M500.0 126.9h0M489.3 109.1h0M502.0 143.4h0M454.7 89.4h0M446.3 120.1h0M489.2 132.2h0M454.6 100.4h0M493.5 113.4h0M478.3 136.1h0M495.3 107.6h0M455.7 134.1h0M466.3 111.8h0M471.4 114.6h0M505.5 105.6h0M485.5 92.7h0M444.7 121.9h0M512.0 115.2h0M444.3 118.5h0M468.1 125.7h0M474.0 90.9h0M501.9 131.4h0M455.8 104.6h0M455.7 106.4h0M461.0 121.9h0M459.5 134.4h0M474.4 128.0h0M455.6 113.2h0M462.8 144.0h0M475.8 144.7h0M477.0 132.4h0M496.7 123.3h0M474.4 141.6h0M512.3 141.2h0M507.4 98.5h0"/><path stroke="#8a4898" stroke-width="1.12" d="M496.5 98.3h0M486.0 94.9h0M486.8 129.8h0M481.2 100.9h0M506.4 115.5h0M491.5 142.5h0M463.9 147.0h0M466.5 109.8h0M492.3 124.7h0M480.5 126.6h0M502.8 123.5h0M488.5 139.8h0M474.3 127.5h0M479.2 119.5h0M453.1 136.7h0M498.7 143.7h0M459.9 123.7h0M474.2 98.7h0M481.9 110.7h0M453.2 130.3h0M478.1 146.7h0M481.1 91.0h0M457.8 101.1h0M468.4 123.7h0M464.3 120.5h0M490.8 134.7h0M474.7 147.0h0M498.7 129.6h0M501.4 115.4h0M468.7 104.0h0M464.8 126.3h0M464.0 139.9h0M488.1 116.8h0M473.9 142.7h0M450.1 120.5h0M446.5 125.3h0M456.4 87.8h0M482.5 100.0h0M505.0 102.0h0M486.4 143.5h0M454.8 142.0h0M444.7 116.2h0M466.0 92.6h0M508.7 119.4h0M509.6 104.4h0M489.0 95.6h0M493.0 108.5h0M452.4 101.5h0M460.0 133.3h0M455.1 145.3h0M507.3 111.1h0M446.8 134.1h0M457.8 93.1h0M501.2 145.9h0M480.8 105.3h0M510.3 143.3h0M458.4 110.1h0M491.2 142.5h0M458.5 111.2h0M464.3 117.6h0M485.4 119.0h0M500.7 134.1h0M477.5 118.9h0M506.1 109.6h0M475.0 111.6h0M445.8 90.7h0M452.7 118.3h0M459.1 87.2h0M466.1 88.8h0M466.2 87.8h0M509.1 99.8h0M504.2 136.1h0M455.1 136.6h0M471.6 144.6h0M448.0 128.6h0M465.9 106.8h0M498.0 138.1h0M499.6 103.2h0M464.4 124.4h0M458.3 95.1h0M482.5 92.6h0M449.4 121.0h0M457.9 129.0h0M495.5 93.4h0M446.6 97.7h0M482.9 86.5h0M495.5 132.1h0M489.5 96.8h0M507.8 143.5h0M460.5 117.9h0M478.6 132.4h0M478.9 119.1h0M447.2 125.9h0M442.8 102.5h0M445.1 132.5h0M504.8 137.2h0M495.4 121.1h0M466.0 93.0h0M496.7 131.0h0M451.6 118.9h0M476.5 105.9h0M467.0 107.3h0M450.8 130.1h0M500.7 134.7h0M501.7 114.8h0"/><path stroke="#8a4898" stroke-width="1.58" d="M470.8 117.2h0M481.8 139.3h0M509.8 118.2h0M510.0 135.9h0M454.7 110.4h0M460.8 91.1h0M507.1 132.0h0M457.0 138.8h0M511.4 146.6h0M479.9 122.6h0M448.8 114.5h0M478.5 92.1h0M484.5 117.4h0M457.6 97.0h0M480.4 87.2h0M455.0 147.0h0M457.5 115.0h0M505.7 87.3h0M457.2 86.6h0M494.5 131.3h0M497.8 118.3h0M509.3 91.7h0M491.1 116.3h0M458.6 125.9h0M501.0 95.3h0M468.9 122.4h0M476.2 96.8h0M445.7 118.6h0M457.8 105.8h0M498.9 126.8h0M491.3 86.5h0M509.7 141.7h0M450.6 127.6h0M446.8 129.7h0M463.0 146.5h0M475.3 134.1h0M448.1 90.6h0M478.4 109.5h0M481.1 119.3h0M489.9 137.3h0M492.7 144.2h0M462.4 128.5h0M491.1 127.2h0M504.3 132.6h0M496.5 86.2h0M456.1 123.5h0M494.3 129.1h0M489.7 138.4h0M496.1 142.3h0M468.6 133.1h0M506.3 117.1h0M457.8 107.5h0M485.9 94.8h0M508.5 129.2h0M469.7 106.5h0M509.8 117.5h0M486.4 118.6h0M448.8 98.3h0M442.8 104.2h0M488.4 118.1h0M464.1 129.4h0M465.0 120.8h0M471.3 104.6h0M481.2 89.2h0M499.5 97.9h0M486.5 110.9h0M443.8 114.5h0M509.5 131.6h0M507.0 105.5h0M509.7 91.1h0M492.5 140.6h0M448.0 130.6h0M499.9 102.3h0M497.0 90.5h0M490.3 110.3h0M483.4 89.6h0M496.9 127.5h0M486.6 136.9h0M471.6 125.9h0M483.0 136.1h0M500.1 128.5h0M477.2 127.9h0M484.2 141.0h0M489.8 146.8h0M504.3 96.0h0M459.2 111.3h0M512.3 117.9h0M482.6 109.1h0M486.4 142.9h0M504.5 122.3h0M449.9 118.4h0M509.3 109.0h0M445.4 141.0h0M479.9 130.7h0M461.1 112.9h0"/><path stroke="#c088c4" stroke-width="1.12" d="M466.7 145.9h0M469.3 139.3h0M454.2 89.9h0M476.3 127.3h0M489.4 122.8h0M465.4 94.9h0M483.9 121.7h0M473.9 133.6h0M466.2 97.7h0M482.8 141.3h0M492.0 110.2h0M487.0 114.8h0M511.8 116.9h0M461.0 140.6h0M481.8 129.9h0M479.0 106.2h0M476.1 123.7h0M474.9 96.4h0M490.1 104.4h0M501.1 88.4h0M476.6 93.0h0M455.8 99.1h0M480.0 132.7h0M487.4 137.8h0M475.7 108.0h0M453.7 135.6h0M455.9 95.6h0M450.2 144.0h0M493.8 121.7h0M473.2 86.8h0M478.6 101.2h0M468.2 92.1h0M444.9 112.8h0M467.6 104.7h0M461.7 118.2h0M455.4 91.1h0M462.5 132.8h0M486.4 129.9h0M503.3 121.3h0M459.1 130.9h0M445.8 130.3h0M452.9 98.7h0M512.8 131.3h0M492.6 116.3h0M484.9 135.9h0M506.4 102.5h0M460.8 121.1h0M451.6 111.2h0M481.3 142.4h0M444.4 143.5h0M478.1 92.0h0M479.6 135.7h0M507.5 137.2h0M445.0 119.7h0M465.5 114.5h0M444.5 86.6h0M511.2 137.0h0M510.1 114.6h0M499.7 133.9h0M498.0 135.0h0M475.6 102.8h0M475.1 146.7h0M456.0 89.2h0M464.0 91.5h0M471.8 110.9h0M457.6 113.0h0M506.6 146.3h0M500.8 90.6h0M511.1 86.9h0M503.2 144.9h0M467.3 131.8h0M512.7 146.4h0M462.9 104.2h0M496.9 126.5h0M456.4 100.9h0M497.0 125.1h0M472.3 142.8h0M498.5 97.2h0M448.6 105.1h0M479.1 86.6h0M474.6 104.6h0M472.5 87.5h0M494.0 90.9h0M471.8 116.8h0M479.8 116.1h0M491.3 110.6h0M497.1 94.7h0M476.6 86.5h0M510.2 119.3h0M458.3 100.2h0M511.5 113.7h0M479.6 114.0h0M493.5 116.0h0"/><path stroke="#c088c4" stroke-width="1.58" d="M459.7 103.7h0M480.7 101.8h0M482.1 115.3h0M447.1 128.5h0M511.7 87.0h0M455.7 116.2h0M492.4 122.3h0M506.3 101.0h0M462.4 114.1h0M487.6 108.7h0M495.5 142.7h0M488.0 135.6h0M478.4 94.7h0M509.9 111.3h0M442.9 145.0h0M493.7 124.9h0M452.6 100.1h0M503.0 125.3h0M504.5 103.2h0M475.9 90.7h0M499.6 146.4h0M467.1 102.3h0M507.8 134.9h0M498.5 110.1h0M506.2 111.3h0M473.7 119.3h0M448.7 130.8h0M444.9 136.4h0M510.4 147.2h0M467.8 141.9h0M465.1 99.9h0M494.8 136.8h0M511.1 101.8h0M504.3 111.5h0M477.0 143.6h0M468.2 97.6h0M513.2 121.8h0M475.4 132.8h0M455.8 127.6h0M513.0 142.4h0M457.3 110.5h0M454.2 143.6h0M443.0 128.7h0M487.2 128.3h0M479.9 112.9h0M477.4 140.3h0M501.3 121.2h0M446.9 111.3h0M486.4 97.7h0M446.4 143.8h0M471.0 87.3h0M485.7 144.1h0M479.7 93.4h0M505.5 96.4h0M487.5 111.6h0M470.1 103.0h0M463.0 122.4h0M497.1 112.8h0M456.0 147.1h0M473.3 111.3h0M486.1 146.6h0M495.3 134.7h0M469.5 145.3h0M451.0 135.7h0M500.1 138.9h0M498.4 124.7h0M452.0 109.2h0M486.8 105.9h0M443.7 101.0h0M498.3 87.4h0M452.7 145.5h0M456.5 103.5h0M472.5 112.6h0M474.3 120.6h0M466.7 128.5h0M494.5 127.8h0M498.7 127.6h0M476.9 131.1h0M492.1 105.3h0M510.5 130.4h0M485.0 95.6h0M494.9 130.2h0M460.9 110.6h0M476.2 117.5h0M450.9 95.0h0M452.8 141.4h0M451.4 144.7h0M461.5 107.4h0M496.7 133.2h0M474.5 145.9h0M443.9 136.1h0M464.8 137.5h0M467.9 146.5h0M478.4 89.6h0M477.6 116.1h0M491.7 136.1h0M461.2 93.3h0M497.8 130.5h0M486.8 113.7h0M500.9 122.3h0M467.1 140.7h0M496.7 107.1h0M449.5 90.1h0M512.9 113.7h0M445.4 110.0h0M485.5 106.1h0M460.2 120.4h0"/></g>
<text x="321.2" y="190.2" font-size="10" font-weight="bold" fill="#231f20">F</text>
<text x="431.5" y="195.2" font-size="8.6" font-weight="bold" text-anchor="middle" fill="#231f20">SU-DIPGXIIIP<tspan dy="-2.6" font-size="6">*</tspan></text>
<rect x="351.5" y="199.2" width="60.8" height="12.1" fill="#f7d3da"/>
<rect x="435.4" y="199.2" width="79.8" height="12.1" fill="#dadbed"/>
<text x="381.9" y="208.6" font-size="8.6" text-anchor="middle" fill="#231f20"><tspan font-style="italic">AAVS1</tspan> control</text>
<text x="475.3" y="208.6" font-size="8.6" text-anchor="middle" fill="#231f20"><tspan font-style="italic">SMARCA4</tspan> knockout</text>
<line x1="338.6" y1="214" x2="338.6" y2="331.5" stroke="#6d6e71" stroke-width="0.9"/>
<text transform="translate(334.7,271.5) rotate(-90)" font-size="8.6" text-anchor="middle" fill="#231f20">H&amp;E</text>
<path d="M345.7,236.6 C345.8,235.4 345.3,233.8 346.5,232.6 C347.7,231.4 351.0,230.4 352.9,229.3 C354.8,228.2 355.9,226.9 357.8,226.1 C359.7,225.3 361.8,225.0 364.2,224.5 C366.6,224.0 369.3,223.3 372.3,222.9 C375.3,222.5 378.8,222.1 382.0,222.1 C385.2,222.1 388.7,222.5 391.7,222.9 C394.7,223.3 397.6,224.1 399.8,224.5 C402.0,224.9 403.0,225.0 404.6,225.3 C406.2,225.6 408.0,225.4 409.5,226.1 C411.0,226.8 412.4,227.8 413.5,229.3 C414.6,230.8 415.5,232.8 416.0,235.0 C416.5,237.2 416.2,240.2 416.7,242.3 C417.2,244.5 418.9,246.2 419.2,247.9 C419.5,249.7 419.8,251.7 418.4,252.8 C417.0,253.9 413.9,253.9 411.1,254.4 C408.3,254.9 404.6,256.1 401.4,256.0 C398.2,255.9 394.1,254.7 391.7,253.6 C389.3,252.5 388.7,250.4 386.8,249.5 C384.9,248.6 382.8,248.0 380.4,247.9 C378.0,247.8 375.0,249.0 372.3,248.7 C369.6,248.4 366.9,247.0 364.2,246.3 C361.5,245.6 358.6,245.4 356.2,244.7 C353.8,244.0 351.4,243.1 349.7,242.3 C347.9,241.5 346.4,240.8 345.7,239.8 C345.0,238.9 345.6,237.8 345.7,236.6 Z" fill="#c88cc6" filter="url(#br3)"/>
<path d="M440.4,231.6 C441.0,230.2 441.0,227.8 442.1,226.4 C443.2,225.0 445.0,223.9 447.3,223.0 C449.6,222.1 453.1,221.3 456.0,220.7 C458.9,220.1 461.7,219.8 464.6,219.5 C467.5,219.2 470.4,219.0 473.3,219.0 C476.2,219.0 479.3,219.2 481.9,219.5 C484.5,219.8 486.5,220.3 488.8,220.7 C491.1,221.1 493.7,221.3 495.7,222.1 C497.7,222.9 499.6,224.1 500.9,225.6 C502.2,227.1 503.2,229.1 503.5,230.8 C503.8,232.5 503.4,234.6 502.7,236.0 C502.0,237.4 498.9,238.1 499.2,239.4 C499.5,240.7 502.7,242.1 504.4,243.7 C506.1,245.3 508.3,247.2 509.6,248.9 C510.9,250.6 511.9,252.6 512.2,254.1 C512.5,255.6 512.3,257.2 511.3,257.6 C510.3,258.0 508.1,257.4 506.1,256.7 C504.1,256.0 501.8,254.4 499.2,253.3 C496.6,252.2 493.5,250.9 490.6,250.1 C487.7,249.3 484.5,248.7 481.9,248.4 C479.3,248.1 477.9,248.3 475.0,248.4 C472.1,248.5 467.8,248.9 464.6,248.9 C461.4,248.9 458.9,248.7 456.0,248.4 C453.1,248.1 449.6,247.8 447.3,247.2 C445.0,246.6 443.4,245.9 442.1,244.6 C440.8,243.3 440.1,241.0 439.5,239.4 C438.9,237.8 438.6,236.4 438.7,235.1 C438.8,233.8 439.8,233.0 440.4,231.6 Z" fill="#d49ed0" filter="url(#br4)"/>
<path d="M402.3,234.4 L397.8,224.4 A15,15 0 0 1 418.5,241.7 L407.9,239.0 A4,4 0 0 0 402.3,234.4 Z" fill="#a070b8"/>
<line x1="402.7" y1="233.2" x2="400.2" y2="224.1" stroke="#e0c4ea" stroke-width="0.7"/>
<line x1="404.3" y1="233.0" x2="404.8" y2="223.6" stroke="#e0c4ea" stroke-width="0.7"/>
<line x1="405.8" y1="233.3" x2="409.3" y2="224.6" stroke="#e0c4ea" stroke-width="0.7"/>
<line x1="407.2" y1="234.2" x2="413.2" y2="226.9" stroke="#e0c4ea" stroke-width="0.7"/>
<line x1="408.3" y1="235.4" x2="416.2" y2="230.4" stroke="#e0c4ea" stroke-width="0.7"/>
<line x1="408.9" y1="236.8" x2="418.0" y2="234.7" stroke="#e0c4ea" stroke-width="0.7"/>
<line x1="409.0" y1="238.4" x2="418.3" y2="239.3" stroke="#e0c4ea" stroke-width="0.7"/>
<ellipse cx="349" cy="234" rx="4" ry="5" fill="#a070b8" opacity="0.7"/>
<ellipse cx="398.5" cy="246.5" rx="12.4" ry="9.9" fill="#9a70c0" filter="url(#tu3)"/>
<ellipse cx="398.5" cy="246.5" rx="12.4" ry="9.9" fill="none" stroke="#3a2048" stroke-width="0.9"/>
<path d="M371,230 l3,-1.5 l1,2.5 l-1.5,3.5 l-1.5,-1 z" fill="#fff"/>
<ellipse cx="487.0" cy="223.6" rx="1.9" ry="1.5" transform="rotate(-100 487.0 223.6)" fill="#a860b8" opacity="0.85"/>
<ellipse cx="486.4" cy="220.2" rx="1.7" ry="1.4" transform="rotate(-100 486.4 220.2)" fill="#a860b8" opacity="0.85"/>
<ellipse cx="489.3" cy="223.5" rx="1.9" ry="1.5" transform="rotate(-85 489.3 223.5)" fill="#a860b8" opacity="0.85"/>
<ellipse cx="489.6" cy="220.0" rx="1.7" ry="1.4" transform="rotate(-85 489.6 220.0)" fill="#a860b8" opacity="0.85"/>
<ellipse cx="491.5" cy="224.0" rx="1.9" ry="1.5" transform="rotate(-69 491.5 224.0)" fill="#a860b8" opacity="0.85"/>
<ellipse cx="492.7" cy="220.8" rx="1.7" ry="1.4" transform="rotate(-69 492.7 220.8)" fill="#a860b8" opacity="0.85"/>
<ellipse cx="493.5" cy="225.1" rx="1.9" ry="1.5" transform="rotate(-54 493.5 225.1)" fill="#a860b8" opacity="0.85"/>
<ellipse cx="495.6" cy="222.3" rx="1.7" ry="1.4" transform="rotate(-54 495.6 222.3)" fill="#a860b8" opacity="0.85"/>
<ellipse cx="495.2" cy="226.7" rx="1.9" ry="1.5" transform="rotate(-38 495.2 226.7)" fill="#a860b8" opacity="0.85"/>
<ellipse cx="497.9" cy="224.5" rx="1.7" ry="1.4" transform="rotate(-38 497.9 224.5)" fill="#a860b8" opacity="0.85"/>
<ellipse cx="496.3" cy="228.7" rx="1.9" ry="1.5" transform="rotate(-23 496.3 228.7)" fill="#a860b8" opacity="0.85"/>
<ellipse cx="499.6" cy="227.3" rx="1.7" ry="1.4" transform="rotate(-23 499.6 227.3)" fill="#a860b8" opacity="0.85"/>
<ellipse cx="496.9" cy="230.9" rx="1.9" ry="1.5" transform="rotate(-7 496.9 230.9)" fill="#a860b8" opacity="0.85"/>
<ellipse cx="500.4" cy="230.4" rx="1.7" ry="1.4" transform="rotate(-7 500.4 230.4)" fill="#a860b8" opacity="0.85"/>
<ellipse cx="496.9" cy="233.2" rx="1.9" ry="1.5" transform="rotate(8 496.9 233.2)" fill="#a860b8" opacity="0.85"/>
<ellipse cx="500.4" cy="233.7" rx="1.7" ry="1.4" transform="rotate(8 500.4 233.7)" fill="#a860b8" opacity="0.85"/>
<ellipse cx="496.3" cy="235.4" rx="1.9" ry="1.5" transform="rotate(23 496.3 235.4)" fill="#a860b8" opacity="0.85"/>
<ellipse cx="499.5" cy="236.8" rx="1.7" ry="1.4" transform="rotate(23 499.5 236.8)" fill="#a860b8" opacity="0.85"/>
<circle cx="486.6" cy="230.6" r="5.4" fill="#7050a8" stroke="#3a2060" stroke-width="0.9"/>
<circle cx="485.3" cy="243.9" r="1.4" fill="none" stroke="#5a3a80" stroke-width="0.7"/>
<path d="M459,232 q2,-3 4,-1 q0,3 -2,4 l0,2" fill="none" stroke="#fff" stroke-width="1.2"/>
<text x="398.3" y="250.8" font-size="8.6" text-anchor="middle" fill="#231f20">T</text>
<text x="486.4" y="233.6" font-size="7.8" text-anchor="middle" fill="#231f20">T</text>
<text x="340.6" y="267.8" font-size="8.6" fill="#231f20">55 days after injection</text>
<text x="435.4" y="267.8" font-size="8.6" fill="#231f20">104 days after injection</text>
<rect x="347.2" y="270.2" width="70" height="62.8" fill="#fff" filter="url(#he3)"/>
<defs><radialGradient id="f1p" cx="0.8" cy="0.2" r="0.45"><stop offset="0" stop-color="#e8a0d8" stop-opacity="0.55"/><stop offset="1" stop-color="#e8a0d8" stop-opacity="0"/></radialGradient><radialGradient id="f1d" cx="0.15" cy="0.85" r="0.4"><stop offset="0" stop-color="#6a3098" stop-opacity="0.45"/><stop offset="1" stop-color="#6a3098" stop-opacity="0"/></radialGradient></defs>
<rect x="347.2" y="270.2" width="70" height="62.8" fill="url(#f1p)"/>
<rect x="347.2" y="270.2" width="70" height="62.8" fill="url(#f1d)"/>
<path d="M372,333 C376,322 380,312 384,300 C386,292 390,286 394,280" fill="none" stroke="#7a3aa0" stroke-width="3" opacity="0.35"/>
<g fill="none" stroke-linecap="round" filter="url(#soft)"><path stroke="#8a58b0" stroke-width="0.98" d="M349.8 330.7h0M391.8 285.2h0M387.6 275.0h0M368.1 295.2h0M371.1 287.3h0M366.4 272.2h0M398.6 315.1h0M359.9 328.6h0M349.7 311.9h0M400.4 310.1h0M364.9 275.5h0M372.0 309.1h0M400.8 329.4h0M383.4 270.7h0M378.4 326.2h0M383.9 323.5h0M372.4 319.6h0M381.0 284.8h0M416.3 285.4h0M363.1 277.8h0M403.7 289.5h0M395.9 294.3h0M370.4 272.6h0M358.8 332.4h0M382.7 286.8h0M392.9 293.5h0M365.0 281.2h0M407.7 297.7h0M403.7 287.3h0M350.3 313.5h0M407.2 331.2h0M363.3 304.2h0M393.1 320.1h0M353.4 324.1h0M409.3 281.5h0M351.1 274.6h0M388.2 303.2h0M415.6 273.3h0M392.6 298.1h0M350.3 298.4h0M357.3 274.4h0M358.8 284.8h0M362.1 295.2h0M380.4 314.7h0M381.7 279.6h0M364.5 321.5h0M400.7 278.3h0M412.3 309.3h0M356.2 275.3h0M389.5 306.3h0M348.6 298.5h0M410.2 283.3h0M403.1 295.1h0M371.3 306.5h0M374.0 295.2h0M390.7 310.7h0M404.5 277.1h0M415.4 324.1h0M396.3 291.6h0M388.1 311.6h0M357.8 330.2h0M396.1 328.0h0M368.5 305.4h0M356.5 277.9h0M379.3 306.5h0M349.7 287.6h0M362.2 293.5h0M370.6 272.7h0M399.9 273.5h0M416.3 315.7h0M382.6 287.3h0M373.5 320.6h0M401.7 328.3h0M369.8 326.9h0M359.8 314.1h0M351.6 277.4h0M403.2 318.2h0M395.3 330.2h0M379.9 281.0h0M388.4 308.1h0M353.4 325.3h0M392.6 330.8h0"/><path stroke="#8a58b0" stroke-width="1.32" d="M385.2 313.1h0M371.0 280.3h0M416.6 325.4h0M366.3 304.9h0M391.2 286.6h0M370.7 312.2h0M350.9 285.2h0M399.5 299.4h0M362.5 276.6h0M394.3 328.7h0M403.9 278.8h0M353.8 274.9h0M367.4 316.0h0M386.3 315.9h0M395.3 279.8h0M411.8 289.0h0M361.6 326.2h0M390.4 283.0h0M404.2 283.9h0M352.8 317.5h0M365.4 293.9h0M376.8 331.6h0M404.1 309.9h0M395.0 308.3h0M389.8 327.4h0M399.0 274.5h0M356.4 312.8h0M353.2 306.6h0M355.6 287.2h0M374.1 311.0h0M402.6 278.9h0M398.3 297.9h0M400.3 312.4h0M384.0 302.3h0M402.5 302.6h0M350.6 329.8h0M398.8 304.2h0M373.3 283.4h0M378.9 271.0h0M356.0 305.6h0M369.9 277.3h0M348.1 320.4h0M373.2 329.7h0M408.6 295.4h0M369.7 299.0h0M377.1 297.1h0M382.1 321.2h0M375.7 313.8h0M369.3 332.0h0M379.5 313.3h0M391.1 278.6h0M387.6 289.8h0M375.2 280.3h0M356.4 316.5h0M352.6 287.7h0M350.4 320.4h0M409.8 308.0h0M380.9 302.9h0M361.2 300.8h0M416.5 293.8h0M415.7 291.4h0M391.6 300.0h0M362.2 289.2h0M362.5 325.9h0M381.9 316.0h0M376.8 325.1h0M380.2 283.3h0M364.0 300.5h0"/><path stroke="#7a50a8" stroke-width="0.98" d="M416.4 329.3h0M356.0 294.8h0M397.2 275.1h0M362.2 298.5h0M379.3 301.9h0M385.8 290.5h0M415.0 323.9h0M356.9 324.5h0M387.0 296.6h0M391.0 291.8h0M375.5 308.6h0M387.4 272.9h0M395.1 283.4h0M412.7 327.8h0M377.6 272.9h0M407.6 308.5h0M393.2 276.4h0M390.0 303.4h0M391.1 320.8h0M383.6 312.8h0M363.5 280.3h0M357.9 320.9h0M393.8 305.7h0M358.3 288.1h0M373.8 326.2h0M371.5 313.5h0M401.2 305.6h0M403.0 325.0h0M351.2 273.3h0M377.2 286.0h0M354.5 323.4h0M373.6 292.2h0M379.6 298.5h0M403.1 291.4h0M359.2 325.0h0M363.6 275.2h0M379.9 311.7h0M369.3 314.8h0M353.4 321.5h0M412.3 276.0h0M383.5 320.1h0M377.0 280.1h0M383.5 278.5h0M352.7 276.0h0M397.6 316.9h0M349.9 317.6h0M374.1 282.6h0M357.0 308.2h0M388.3 317.0h0M411.8 317.6h0M402.2 270.8h0M379.7 296.0h0M362.0 272.0h0M370.7 278.4h0M360.0 289.2h0M369.2 296.6h0M390.9 322.7h0M350.2 272.4h0M412.8 305.7h0M407.5 285.6h0M393.5 294.8h0M396.8 273.8h0M389.9 291.8h0M356.9 296.2h0M354.2 328.1h0M353.5 286.2h0M364.3 291.9h0M353.9 288.1h0M362.9 292.1h0M387.0 311.4h0M372.3 287.3h0M416.7 275.7h0M379.4 316.1h0M403.8 307.5h0M394.8 317.1h0M387.7 320.0h0M415.0 308.9h0M371.5 314.9h0M357.5 287.3h0M409.6 312.5h0M381.0 293.8h0M348.0 281.7h0"/><path stroke="#7a50a8" stroke-width="1.32" d="M402.7 314.1h0M400.0 320.9h0M405.8 332.2h0M352.0 286.3h0M413.1 313.6h0M414.0 315.7h0M370.4 294.0h0M366.3 309.3h0M379.4 287.6h0M377.3 298.5h0M373.6 286.6h0M408.0 287.0h0M386.6 313.7h0M376.9 302.1h0M404.3 315.6h0M367.6 282.0h0M363.3 297.0h0M388.8 295.8h0M405.3 287.0h0M415.7 301.4h0M415.5 303.0h0M361.7 279.8h0M405.6 326.6h0M384.5 285.5h0M361.1 321.1h0M367.5 330.1h0M380.8 272.8h0M400.5 290.2h0M412.7 290.6h0M360.0 305.4h0M367.5 300.2h0M369.8 307.7h0M410.7 303.3h0M409.0 308.9h0M354.3 280.3h0M347.7 316.6h0M416.0 331.5h0M386.3 284.4h0M411.7 307.9h0M372.2 298.1h0M413.8 308.7h0M360.4 297.6h0M363.6 271.3h0M369.7 295.3h0M349.7 310.3h0M384.2 318.2h0M397.7 332.4h0M383.0 296.7h0M383.7 315.7h0M391.6 309.0h0M365.9 277.5h0M351.0 303.7h0M402.3 316.8h0M361.8 276.7h0M391.3 331.6h0M388.9 284.7h0M349.6 315.4h0M378.7 290.2h0M367.7 295.1h0M351.9 300.8h0M402.6 314.7h0M348.0 309.8h0M357.7 288.6h0M407.5 296.2h0M411.2 291.2h0M375.7 329.7h0M386.6 315.4h0M379.6 300.4h0"/><path stroke="#9a68b8" stroke-width="0.98" d="M383.3 295.3h0M396.2 311.1h0M356.4 322.5h0M403.3 300.7h0M355.0 279.0h0M406.7 312.5h0M376.7 291.7h0M369.6 305.1h0M411.3 272.2h0M400.5 302.9h0M352.8 287.3h0M404.1 290.7h0M370.0 288.7h0M371.9 317.3h0M351.8 290.2h0M348.9 271.3h0M370.8 326.3h0M347.9 299.5h0M405.7 274.0h0M404.7 330.4h0M397.9 313.0h0M373.6 319.9h0M365.3 297.4h0M350.2 278.5h0M390.1 279.0h0M405.9 317.4h0M415.1 330.6h0M378.5 297.8h0M366.3 324.2h0M393.4 288.3h0M379.6 321.9h0M392.9 308.3h0M351.2 302.3h0M363.6 282.0h0M388.6 271.1h0M348.5 290.2h0M392.7 283.8h0M407.4 272.6h0M387.7 315.8h0M352.6 272.4h0M380.4 306.7h0M379.2 292.8h0M407.9 313.0h0M372.3 301.7h0M379.8 325.1h0M356.2 304.2h0M395.9 304.6h0M399.7 300.6h0M373.3 306.8h0M375.1 271.6h0M401.6 297.8h0M356.6 295.1h0M373.6 293.4h0M352.5 320.1h0M374.0 319.3h0M413.5 314.4h0M390.3 285.8h0M404.3 322.7h0M367.9 286.0h0M406.0 282.8h0M363.9 279.2h0M399.6 298.6h0M356.8 279.7h0M390.2 301.5h0M366.5 296.7h0M392.4 320.9h0M356.5 301.8h0M412.2 296.8h0M374.6 312.0h0M396.2 322.9h0M400.6 296.4h0"/><path stroke="#9a68b8" stroke-width="1.32" d="M411.5 321.6h0M416.2 299.4h0M416.0 326.6h0M376.9 323.7h0M385.5 298.5h0M415.5 307.4h0M375.1 278.6h0M402.4 329.7h0M374.4 305.4h0M384.6 327.1h0M400.5 279.9h0M414.3 289.9h0M368.7 292.4h0M353.6 285.9h0M383.4 306.7h0M402.3 317.9h0M362.9 329.8h0M361.9 293.8h0M373.3 312.5h0M396.3 282.2h0M354.4 332.5h0M352.2 303.7h0M414.0 294.7h0M364.1 317.2h0M369.3 324.1h0M411.0 322.9h0M397.6 272.2h0M394.2 296.0h0M356.6 314.0h0M356.8 320.2h0M354.3 326.9h0M378.3 281.4h0M371.9 291.4h0M388.3 273.8h0M363.9 325.0h0M404.6 311.7h0M408.0 316.1h0M385.2 280.4h0M390.8 272.1h0M397.7 277.4h0M351.0 310.9h0M359.3 299.1h0M407.3 283.6h0M397.1 285.4h0M385.5 279.1h0M360.2 326.2h0M372.1 321.7h0M380.0 328.2h0M385.7 308.8h0M364.7 283.2h0M385.8 319.3h0M414.8 285.2h0M358.7 291.7h0M412.0 278.8h0M363.1 323.8h0M374.3 314.0h0M348.8 278.5h0M359.4 273.0h0M405.3 299.9h0M362.4 282.1h0M372.2 317.4h0M409.9 313.6h0M353.9 273.3h0M368.7 272.2h0M364.0 312.4h0M397.1 323.7h0M373.6 281.3h0M389.9 275.7h0M370.1 274.1h0M377.0 276.8h0M405.1 278.3h0M356.8 292.9h0M415.2 275.1h0M377.4 308.3h0M360.6 282.1h0M382.8 293.9h0M358.6 270.9h0M388.9 312.8h0M386.6 288.9h0"/><path stroke="#b080c8" stroke-width="0.98" d="M402.2 321.9h0M367.0 328.8h0M392.1 326.4h0M414.0 280.1h0M350.6 321.0h0M392.1 275.7h0M359.9 290.3h0M401.5 327.3h0M379.7 318.1h0M413.8 317.0h0M360.5 319.9h0M362.1 285.7h0M374.8 299.7h0M381.6 282.4h0M354.2 299.5h0M392.5 279.2h0M363.0 331.8h0M394.5 280.6h0M414.0 302.4h0M351.5 314.6h0M360.1 308.4h0M400.5 276.2h0M415.7 283.9h0M360.5 274.0h0M389.5 324.6h0M364.9 302.8h0M365.8 332.0h0M380.3 277.8h0M408.8 303.7h0M389.3 300.7h0M407.5 277.3h0M410.8 310.9h0M383.5 321.9h0M393.7 299.1h0M384.4 297.7h0M349.6 300.7h0M407.2 327.2h0M402.5 293.9h0M360.5 316.9h0M410.3 284.4h0M386.5 278.4h0M388.2 280.0h0M376.7 326.3h0M391.3 329.7h0M416.3 279.4h0M381.2 301.4h0M412.8 302.8h0M370.8 297.7h0M403.0 274.8h0M405.9 289.1h0M407.2 308.7h0M358.9 327.6h0M358.7 329.2h0M394.1 278.3h0M406.0 272.2h0M357.6 315.9h0M355.3 327.8h0M358.4 299.9h0M393.1 326.0h0M367.3 293.7h0M385.6 291.4h0M358.3 305.2h0M353.1 310.9h0M351.5 331.0h0M394.1 296.0h0M381.0 330.4h0M368.8 274.8h0M392.7 302.8h0M363.5 319.1h0M409.2 329.0h0M402.5 276.7h0M353.3 280.9h0"/><path stroke="#b080c8" stroke-width="1.32" d="M413.9 332.0h0M412.1 273.0h0M392.8 272.3h0M393.1 296.7h0M404.3 279.8h0M375.6 294.9h0M388.5 312.3h0M408.4 329.0h0M376.8 300.1h0M376.9 312.3h0M359.4 300.4h0M410.2 287.7h0M355.9 325.3h0M396.1 307.2h0M354.4 287.3h0M388.2 288.1h0M391.8 280.2h0M384.9 328.2h0M373.8 289.1h0M353.3 313.3h0M416.2 286.9h0M379.4 276.9h0M392.9 281.2h0M372.6 273.7h0M365.7 307.4h0M391.7 324.0h0M415.4 314.8h0M372.1 330.0h0M363.1 273.0h0M410.0 279.9h0M354.9 311.2h0M386.4 309.7h0M384.5 325.9h0M381.6 327.1h0M382.4 289.5h0M406.1 293.4h0M386.1 328.9h0M359.8 315.6h0M350.8 305.8h0M350.5 324.5h0M348.9 294.6h0M398.3 321.3h0M357.5 299.3h0M411.9 321.1h0M373.3 275.6h0M410.4 298.3h0M352.1 327.4h0M411.8 326.9h0M413.4 293.1h0M404.4 298.9h0M351.4 294.2h0M367.5 317.6h0M351.1 315.8h0M405.1 302.7h0M370.1 300.0h0M380.9 289.7h0M377.2 315.9h0M381.6 296.3h0M371.1 301.9h0M364.4 332.5h0M416.4 297.1h0M377.4 331.8h0M378.4 276.9h0M397.4 274.9h0M363.2 290.9h0M351.5 312.4h0M375.3 286.0h0M376.5 292.9h0M416.4 322.4h0M396.5 317.5h0M404.6 289.3h0M406.3 319.5h0M407.1 318.3h0M353.4 316.0h0M402.0 286.1h0M347.8 303.6h0M407.2 305.8h0M393.8 319.5h0"/></g>
<rect x="447.6" y="270.2" width="69.3" height="62.8" fill="#fff" filter="url(#he4)"/>
<clipPath id="blobc"><path d="M479,286 L483,280.5 L489,278.2 L496,278 L502,279.8 L506.5,284 L508.2,290.5 L506.8,297.5 L502.5,303 L496,305.8 L488.5,305.6 L482.5,302.2 L478.6,296.5 L477.8,291 Z"/></clipPath>
<rect x="470" y="275" width="45" height="35" fill="#fff" filter="url(#blob)" clip-path="url(#blobc)"/>
<rect x="447.6" y="326" width="69.3" height="2" fill="#d8a8e0"/>
<text x="0.8" y="361.2" font-size="10" font-weight="bold" fill="#231f20">G</text>
<text x="259.8" y="361.2" font-size="10" font-weight="bold" fill="#231f20">H</text>
<text x="59.0" y="372.8" font-size="8.2" text-anchor="middle" fill="#231f20">DAPI</text>
<text x="114.1" y="372.8" font-size="8.2" text-anchor="middle" fill="#231f20">GFAP</text>
<text x="169.2" y="372.8" font-size="8.2" text-anchor="middle" fill="#231f20">H3K27M</text>
<text x="224.3" y="372.8" font-size="8.2" text-anchor="middle" fill="#231f20">Merge</text>
<text x="325.0" y="372.8" font-size="8.2" text-anchor="middle" fill="#231f20">DAPI</text>
<text x="380.2" y="372.8" font-size="8.2" text-anchor="middle" fill="#231f20">SOX9</text>
<text x="435.4" y="372.8" font-size="8.2" text-anchor="middle" fill="#231f20">H3K27M</text>
<text x="490.6" y="372.8" font-size="8.2" text-anchor="middle" fill="#231f20">Merge</text>
<svg x="32.0" y="376.2" width="54.0" height="54.4" viewBox="0 0 54.0 54.4" overflow="hidden"><rect width="54.0" height="54.4" fill="#080a20"/><g filter="url(#soft)" style="isolation:isolate">
<use href="#cdapi1"/>
</g></svg>
<svg x="32.0" y="432.3" width="54.0" height="54.4" viewBox="0 0 54.0 54.4" overflow="hidden"><rect width="54.0" height="54.4" fill="#080a20"/><g filter="url(#soft)" style="isolation:isolate">
<use href="#cdapi2"/>
</g></svg>
<svg x="87.1" y="376.2" width="54.0" height="54.4" viewBox="0 0 54.0 54.4" overflow="hidden"><rect width="54.0" height="54.4" fill="#080202"/><g filter="url(#soft)" style="isolation:isolate">
<use href="#cgf1"/>
</g></svg>
<svg x="87.1" y="432.3" width="54.0" height="54.4" viewBox="0 0 54.0 54.4" overflow="hidden"><rect width="54.0" height="54.4" fill="#100303"/><g filter="url(#soft)" style="isolation:isolate">
<use href="#cgf2"/>
</g></svg>
<svg x="142.2" y="376.2" width="54.0" height="54.4" viewBox="0 0 54.0 54.4" overflow="hidden"><rect width="54.0" height="54.4" fill="#030a03"/><g filter="url(#soft)" style="isolation:isolate">
<use href="#ch31"/>
</g></svg>
<svg x="142.2" y="432.3" width="54.0" height="54.4" viewBox="0 0 54.0 54.4" overflow="hidden"><rect width="54.0" height="54.4" fill="#030a03"/><g filter="url(#soft)" style="isolation:isolate">
<use href="#ch32"/>
</g></svg>
<svg x="197.3" y="376.2" width="54.0" height="54.4" viewBox="0 0 54.0 54.4" overflow="hidden"><rect width="54.0" height="54.4" fill="#050814"/><g filter="url(#soft)" style="isolation:isolate">
<use href="#mg1"/>
</g></svg>
<svg x="197.3" y="432.3" width="54.0" height="54.4" viewBox="0 0 54.0 54.4" overflow="hidden"><rect width="54.0" height="54.4" fill="#050814"/><g filter="url(#soft)" style="isolation:isolate">
<use href="#mg2"/>
</g></svg>
<svg x="298.0" y="376.2" width="54.0" height="54.4" viewBox="0 0 54.0 54.4" overflow="hidden"><rect width="54.0" height="54.4" fill="#080a20"/><g filter="url(#soft)" style="isolation:isolate">
<use href="#cdapi3"/>
</g></svg>
<svg x="298.0" y="432.3" width="54.0" height="54.4" viewBox="0 0 54.0 54.4" overflow="hidden"><rect width="54.0" height="54.4" fill="#080a20"/><g filter="url(#soft)" style="isolation:isolate">
<use href="#cdapi4"/>
</g></svg>
<svg x="353.2" y="376.2" width="54.0" height="54.4" viewBox="0 0 54.0 54.4" overflow="hidden"><rect width="54.0" height="54.4" fill="#060101"/><g filter="url(#soft)" style="isolation:isolate">
<use href="#csx1"/>
</g></svg>
<svg x="353.2" y="432.3" width="54.0" height="54.4" viewBox="0 0 54.0 54.4" overflow="hidden"><rect width="54.0" height="54.4" fill="#0c0202"/><g filter="url(#soft)" style="isolation:isolate">
<use href="#csx2"/>
</g></svg>
<svg x="408.4" y="376.2" width="54.0" height="54.4" viewBox="0 0 54.0 54.4" overflow="hidden"><rect width="54.0" height="54.4" fill="#030a03"/><g filter="url(#soft)" style="isolation:isolate">
<use href="#ch33"/>
</g></svg>
<svg x="408.4" y="432.3" width="54.0" height="54.4" viewBox="0 0 54.0 54.4" overflow="hidden"><rect width="54.0" height="54.4" fill="#030a03"/><g filter="url(#soft)" style="isolation:isolate">
<use href="#ch34"/>
</g></svg>
<svg x="463.6" y="376.2" width="54.0" height="54.4" viewBox="0 0 54.0 54.4" overflow="hidden"><rect width="54.0" height="54.4" fill="#050814"/><g filter="url(#soft)" style="isolation:isolate">
<use href="#mh1"/>
</g></svg>
<svg x="463.6" y="432.3" width="54.0" height="54.4" viewBox="0 0 54.0 54.4" overflow="hidden"><rect width="54.0" height="54.4" fill="#050814"/><g filter="url(#soft)" style="isolation:isolate">
<use href="#mh2"/>
</g></svg>
<line x1="9.5" y1="386.2" x2="9.5" y2="418.5" stroke="#8a8a8c" stroke-width="0.9"/>
<line x1="9.5" y1="446" x2="9.5" y2="477.5" stroke="#8a8a8c" stroke-width="0.9"/>
<text transform="translate(6.9,432) rotate(-90)" font-size="8.4" font-weight="bold" text-anchor="middle" fill="#231f20">BT869</text>
<text transform="translate(27.2,403.2) rotate(-90)" font-size="7.6" text-anchor="middle" fill="#231f20"><tspan font-style="italic">AAVS1</tspan> control</text>
<text transform="translate(27.2,458.2) rotate(-90)" font-size="7.6" text-anchor="middle" fill="#231f20"><tspan font-style="italic">SMARCA4</tspan> KO</text>
<line x1="277" y1="386.2" x2="277" y2="418.5" stroke="#8a8a8c" stroke-width="0.9"/>
<line x1="277" y1="446" x2="277" y2="477.5" stroke="#8a8a8c" stroke-width="0.9"/>
<text transform="translate(273.4,432) rotate(-90)" font-size="8.4" font-weight="bold" text-anchor="middle" fill="#231f20">BT869</text>
<text transform="translate(292.2,403.2) rotate(-90)" font-size="7.6" text-anchor="middle" fill="#231f20"><tspan font-style="italic">AAVS1</tspan> control</text>
<text transform="translate(292.2,458.2) rotate(-90)" font-size="7.6" text-anchor="middle" fill="#231f20"><tspan font-style="italic">SMARCA4</tspan> KO</text>
<text x="1.6" y="511.2" font-size="10" font-weight="bold" fill="#231f20">I</text>
<text x="120.6" y="511.2" font-size="10" font-weight="bold" fill="#231f20">J</text>
<line x1="35.6" y1="530.2" x2="35.6" y2="616.5" stroke="#808285" stroke-width="0.9"/>
<line x1="35.6" y1="616.5" x2="94.7" y2="616.5" stroke="#808285" stroke-width="0.9"/>
<line x1="33.6" y1="616.5" x2="35.6" y2="616.5" stroke="#808285" stroke-width="0.9"/>
<text x="33.2" y="619.7" font-size="9" text-anchor="end" fill="#231f20">0.0</text>
<line x1="33.6" y1="599.24" x2="35.6" y2="599.24" stroke="#808285" stroke-width="0.9"/>
<text x="33.2" y="602.44" font-size="9" text-anchor="end" fill="#231f20">0.1</text>
<line x1="33.6" y1="581.98" x2="35.6" y2="581.98" stroke="#808285" stroke-width="0.9"/>
<text x="33.2" y="585.1800000000001" font-size="9" text-anchor="end" fill="#231f20">0.2</text>
<line x1="33.6" y1="564.72" x2="35.6" y2="564.72" stroke="#808285" stroke-width="0.9"/>
<text x="33.2" y="567.9200000000001" font-size="9" text-anchor="end" fill="#231f20">0.3</text>
<line x1="33.6" y1="547.46" x2="35.6" y2="547.46" stroke="#808285" stroke-width="0.9"/>
<text x="33.2" y="550.6600000000001" font-size="9" text-anchor="end" fill="#231f20">0.4</text>
<line x1="33.6" y1="530.2" x2="35.6" y2="530.2" stroke="#808285" stroke-width="0.9"/>
<text x="33.2" y="533.4000000000001" font-size="9" text-anchor="end" fill="#231f20">0.5</text>
<line x1="52.4" y1="616.5" x2="52.4" y2="618.5" stroke="#808285" stroke-width="0.9"/>
<line x1="77.7" y1="616.5" x2="77.7" y2="618.5" stroke="#808285" stroke-width="0.9"/>
<text x="65" y="517.2" font-size="8.2" text-anchor="middle" font-weight="bold" fill="#231f20">GFAP</text>
<text transform="translate(7.7,597.6999999999999) rotate(-90)" font-size="8.8" textLength="55.3" lengthAdjust="spacing" fill="#231f20">GFAP<tspan dy="-3" font-size="5.5">+</tspan><tspan dy="3"> area/</tspan></text>
<text transform="translate(18.3,602.1) rotate(-90)" font-size="8.8" textLength="56.9" lengthAdjust="spacing" fill="#231f20">H3K27M<tspan dy="-3" font-size="5.5">+</tspan><tspan dy="3"> area</tspan></text>
<line x1="52.4" y1="592.4" x2="52.4" y2="601.3" stroke="#4d4d4f" stroke-width="0.9"/>
<line x1="48.199999999999996" y1="592.4" x2="56.6" y2="592.4" stroke="#4d4d4f" stroke-width="0.9"/>
<line x1="48.199999999999996" y1="601.3" x2="56.6" y2="601.3" stroke="#4d4d4f" stroke-width="0.9"/>
<line x1="44.099999999999994" y1="596.6" x2="60.7" y2="596.6" stroke="#4d4d4f" stroke-width="1.0"/>
<circle cx="52.4" cy="590.5" r="1.5" fill="#d8263a"/>
<circle cx="50.2" cy="597.6" r="1.5" fill="#d8263a"/>
<circle cx="55.1" cy="597.6" r="1.5" fill="#d8263a"/>
<circle cx="52.4" cy="600.7" r="1.5" fill="#d8263a"/>
<line x1="77.7" y1="542" x2="77.7" y2="571.3" stroke="#4d4d4f" stroke-width="0.9"/>
<line x1="73.5" y1="542" x2="81.9" y2="542" stroke="#4d4d4f" stroke-width="0.9"/>
<line x1="73.5" y1="571.3" x2="81.9" y2="571.3" stroke="#4d4d4f" stroke-width="0.9"/>
<line x1="69.4" y1="556.7" x2="86.0" y2="556.7" stroke="#4d4d4f" stroke-width="1.0"/>
<circle cx="77.7" cy="541" r="1.5" fill="#283a8a"/>
<circle cx="77.7" cy="550.3" r="1.5" fill="#283a8a"/>
<circle cx="77.7" cy="561.4" r="1.5" fill="#283a8a"/>
<circle cx="77.7" cy="574.6" r="1.5" fill="#283a8a"/>
<polyline points="52.4,536.1 52.4,533.7 77.7,533.7 77.7,536.1" fill="none" stroke="#6d6e71" stroke-width="0.9"/>
<text x="64.3" y="533.6" font-size="6.4" text-anchor="middle" fill="#231f20" letter-spacing="0.6">**</text>
<line x1="152.2" y1="530.2" x2="152.2" y2="616.5" stroke="#808285" stroke-width="0.9"/>
<line x1="152.2" y1="616.5" x2="211.5" y2="616.5" stroke="#808285" stroke-width="0.9"/>
<line x1="150.2" y1="616.5" x2="152.2" y2="616.5" stroke="#808285" stroke-width="0.9"/>
<text x="149.79999999999998" y="619.7" font-size="9" text-anchor="end" fill="#231f20">0.0</text>
<line x1="150.2" y1="587.73" x2="152.2" y2="587.73" stroke="#808285" stroke-width="0.9"/>
<text x="149.79999999999998" y="590.9300000000001" font-size="9" text-anchor="end" fill="#231f20">0.2</text>
<line x1="150.2" y1="558.96" x2="152.2" y2="558.96" stroke="#808285" stroke-width="0.9"/>
<text x="149.79999999999998" y="562.1600000000001" font-size="9" text-anchor="end" fill="#231f20">0.4</text>
<line x1="150.2" y1="530.19" x2="152.2" y2="530.19" stroke="#808285" stroke-width="0.9"/>
<text x="149.79999999999998" y="533.3900000000001" font-size="9" text-anchor="end" fill="#231f20">0.6</text>
<line x1="169.7" y1="616.5" x2="169.7" y2="618.5" stroke="#808285" stroke-width="0.9"/>
<line x1="194.6" y1="616.5" x2="194.6" y2="618.5" stroke="#808285" stroke-width="0.9"/>
<text x="182.1" y="517.2" font-size="8.2" text-anchor="middle" font-weight="bold" fill="#231f20">SOX9</text>
<text transform="translate(122.6,597.0) rotate(-90)" font-size="8.8" textLength="53" lengthAdjust="spacing" fill="#231f20">SOX9<tspan dy="-3" font-size="5.5">+</tspan><tspan dy="3"> area/</tspan></text>
<text transform="translate(131.4,601.5) rotate(-90)" font-size="8.8" textLength="56.9" lengthAdjust="spacing" fill="#231f20">H3K27M<tspan dy="-3" font-size="5.5">+</tspan><tspan dy="3"> area</tspan></text>
<line x1="169.7" y1="594" x2="169.7" y2="602.4" stroke="#4d4d4f" stroke-width="0.9"/>
<line x1="165.5" y1="594" x2="173.89999999999998" y2="594" stroke="#4d4d4f" stroke-width="0.9"/>
<line x1="165.5" y1="602.4" x2="173.89999999999998" y2="602.4" stroke="#4d4d4f" stroke-width="0.9"/>
<line x1="161.39999999999998" y1="598.5" x2="178.0" y2="598.5" stroke="#4d4d4f" stroke-width="1.0"/>
<circle cx="169.7" cy="592.1" r="1.5" fill="#d8263a"/>
<circle cx="169.7" cy="597.3" r="1.5" fill="#d8263a"/>
<circle cx="167.1" cy="602" r="1.5" fill="#d8263a"/>
<circle cx="172.3" cy="601.5" r="1.5" fill="#d8263a"/>
<line x1="194.6" y1="543.5" x2="194.6" y2="555.7" stroke="#4d4d4f" stroke-width="0.9"/>
<line x1="190.4" y1="543.5" x2="198.79999999999998" y2="543.5" stroke="#4d4d4f" stroke-width="0.9"/>
<line x1="190.4" y1="555.7" x2="198.79999999999998" y2="555.7" stroke="#4d4d4f" stroke-width="0.9"/>
<line x1="186.29999999999998" y1="549.3" x2="202.9" y2="549.3" stroke="#4d4d4f" stroke-width="1.0"/>
<circle cx="192.1" cy="543.9" r="1.5" fill="#283a8a"/>
<circle cx="197.2" cy="543.4" r="1.5" fill="#283a8a"/>
<circle cx="194.6" cy="552.1" r="1.5" fill="#283a8a"/>
<circle cx="194.6" cy="557" r="1.5" fill="#283a8a"/>
<polyline points="169.5,536.4 169.5,534 194.8,534 194.8,536.4" fill="none" stroke="#6d6e71" stroke-width="0.9"/>
<text x="182.6" y="533.6" font-size="6.4" text-anchor="middle" fill="#231f20" letter-spacing="0.6">****</text>
<text transform="translate(53.699999999999996,625) rotate(-45)" font-size="8.6" text-anchor="end" fill="#231f20"><tspan font-style="italic">AAVS1</tspan> control</text>
<text transform="translate(79.0,625) rotate(-45)" font-size="8.6" text-anchor="end" fill="#231f20"><tspan font-style="italic">SMARCA4</tspan> KO</text>
<text transform="translate(171.0,625) rotate(-45)" font-size="8.6" text-anchor="end" fill="#231f20"><tspan font-style="italic">AAVS1</tspan> control</text>
<text transform="translate(195.9,625) rotate(-45)" font-size="8.6" text-anchor="end" fill="#231f20"><tspan font-style="italic">SMARCA4</tspan> KO</text>
</svg>
</body></html>
